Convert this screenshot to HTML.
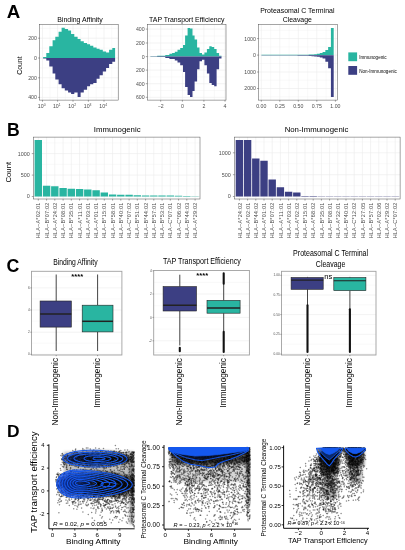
<!DOCTYPE html>
<html lang="en"><head><meta charset="utf-8"><title>Figure</title>
<style>html,body{margin:0;padding:0;background:#fff}svg{display:block}</style></head>
<body>
<svg width="405" height="550" viewBox="0 0 405 550" font-family="'Liberation Sans', sans-serif">
<rect width="405" height="550" fill="#fff"/>
<defs><filter id="bl" x="-20%" y="-20%" width="140%" height="140%"><feGaussianBlur stdDeviation="1.6"/></filter></defs>
<text x="6.8" y="17.6" font-size="18.7" font-weight="bold">A</text>
<text x="7" y="135.8" font-size="17.6" font-weight="bold">B</text>
<text x="6.5" y="271.7" font-size="17.8" font-weight="bold">C</text>
<text x="7" y="437.3" font-size="17.4" font-weight="bold">D</text>
<rect x="39.7" y="24.6" width="78.5" height="75.5" fill="#fff"/>
<path d="M50 24.6V100.1M65.3 24.6V100.1M80.7 24.6V100.1M96.2 24.6V100.1M111.7 24.6V100.1M39.7 48.1H118.2M39.7 67.9H118.2M39.7 87.6H118.2M39.7 28.3H118.2" stroke="#ebebeb" stroke-width=".3" fill="none"/>
<path d="M42.5 24.6V100.1M57.6 24.6V100.1M73 24.6V100.1M88.4 24.6V100.1M104 24.6V100.1M39.7 38.2H118.2M39.7 58H118.2M39.7 77.8H118.2M39.7 97.4H118.2" stroke="#ebebeb" stroke-width=".6" fill="none"/>
<path d="M43.1 58V57.1H46.3V53H49.3V46.2H52.6V40.3H55.3V36.7H58.6V31.8H61.6V27.8H64.8V29.1H68.1V30.5H71.1V34H74.3V36.7H77.6V38.9H80.6V41.3H83.8V43H87.1V44.3H90.1V45.7H93.3V47.6H96.6V48.7H99.6V49.8H102.8V51.4H106.1V52.5H109.1V49.8H112.3V48.1H115.1V58Z" fill="#29b5a1"/>
<path d="M43.1 58V58.5H46.3V60.6H49.3V66.6H52.6V73.4H55.3V79.4H58.6V84.3H61.6V88.3H64.8V90.5H68.1V92.4H71.1V94H74.3V92.4H77.6V97H80.6V92.4H83.8V89.7H87.1V86.2H90.1V84.3H93.3V82.9H96.6V78.8H99.6V75.3H102.8V71.5H106.1V68H109.1V63.9H112.3V61.7H115.1V58Z" fill="#3c3f83"/>
<rect x="39.7" y="24.6" width="78.5" height="75.5" fill="none" stroke="#4d4d4d" stroke-width="0.5"/>
<path d="M42.5 100.1v1.6M57.6 100.1v1.6M73 100.1v1.6M88.4 100.1v1.6M104 100.1v1.6M39.7 38.2h-1.6M39.7 58h-1.6M39.7 77.8h-1.6M39.7 97.4h-1.6" stroke="#4d4d4d" stroke-width=".5" fill="none"/>
<text x="80" y="21.6" font-size="7.4" text-anchor="middle" textLength="45.6" lengthAdjust="spacingAndGlyphs">Binding Affinity</text>
<text x="36.9" y="40.1" font-size="5.2" text-anchor="end" fill="#4d4d4d">200</text>
<text x="36.9" y="59.9" font-size="5.2" text-anchor="end" fill="#4d4d4d">0</text>
<text x="36.9" y="79.7" font-size="5.2" text-anchor="end" fill="#4d4d4d">200</text>
<text x="36.9" y="99.3" font-size="5.2" text-anchor="end" fill="#4d4d4d">400</text>
<text x="41.7" y="108" font-size="5.2" text-anchor="middle" fill="#4d4d4d">10<tspan dy="-2" font-size="3.4">0</tspan></text>
<text x="56.8" y="108" font-size="5.2" text-anchor="middle" fill="#4d4d4d">10<tspan dy="-2" font-size="3.4">1</tspan></text>
<text x="72.2" y="108" font-size="5.2" text-anchor="middle" fill="#4d4d4d">10<tspan dy="-2" font-size="3.4">2</tspan></text>
<text x="87.6" y="108" font-size="5.2" text-anchor="middle" fill="#4d4d4d">10<tspan dy="-2" font-size="3.4">3</tspan></text>
<text x="103.2" y="108" font-size="5.2" text-anchor="middle" fill="#4d4d4d">10<tspan dy="-2" font-size="3.4">4</tspan></text>
<text x="21.6" y="65.6" font-size="6.9" text-anchor="middle" transform="rotate(-90 21.6 65.6)">Count</text>
<rect x="147.4" y="24.6" width="78.6" height="75.5" fill="#fff"/>
<path d="M149.9 24.6V100.1M171.6 24.6V100.1M193.2 24.6V100.1M214.4 24.6V100.1M147.4 36H226M147.4 49.8H226M147.4 63.3H226M147.4 76.9H226M147.4 90.5H226" stroke="#ebebeb" stroke-width=".3" fill="none"/>
<path d="M160.7 24.6V100.1M182.4 24.6V100.1M203.9 24.6V100.1M225 24.6V100.1M147.4 29.1H226M147.4 43H226M147.4 56.6H226M147.4 70.1H226M147.4 83.7H226M147.4 97.3H226" stroke="#ebebeb" stroke-width=".6" fill="none"/>
<path d="M150.4 56.6V56.3H157.2V55.7H165.3V54.9H169.4V53.8H172.1V53H174.8V51.7H177.5V49.8H180.2V48.1H183V44.9H185.1V35.4H187.6V28H190V28.6H192.5V35.4H194.6V39.4H197.1V47.6H199.5V53H202V54.4H204.4V52.5H206.9V48.9H209.3V46.2H211.7V47H214.2V48.9H216.6V53H219.1V55.7H221.5V56.6Z" fill="#29b5a1"/>
<path d="M150.4 56.6V56.8H157.2V57.1H165.3V57.9H169.4V59H172.1V59H174.8V60.6H177.5V62.5H180.2V65.2H183V72H185.1V87H187.6V95.1H190V97H192.5V91H194.6V81.5H197.1V69.3H199.5V61.2H202V59.8H204.4V65.2H206.9V73.4H209.3V82.9H211.7V85.1H214.2V86.2H216.6V69.3H219.1V58.5H221.5V56.6Z" fill="#3c3f83"/>
<rect x="147.4" y="24.6" width="78.6" height="75.5" fill="none" stroke="#4d4d4d" stroke-width="0.5"/>
<path d="M160.7 100.1v1.6M182.4 100.1v1.6M203.9 100.1v1.6M225 100.1v1.6M147.4 29.1h-1.6M147.4 43h-1.6M147.4 56.6h-1.6M147.4 70.1h-1.6M147.4 83.7h-1.6M147.4 97.3h-1.6" stroke="#4d4d4d" stroke-width=".5" fill="none"/>
<text x="186.8" y="21.6" font-size="7.4" text-anchor="middle" textLength="75.5" lengthAdjust="spacingAndGlyphs">TAP Transport Efficiency</text>
<text x="144.6" y="31" font-size="5.2" text-anchor="end" fill="#4d4d4d">400</text>
<text x="144.6" y="44.9" font-size="5.2" text-anchor="end" fill="#4d4d4d">200</text>
<text x="144.6" y="58.5" font-size="5.2" text-anchor="end" fill="#4d4d4d">0</text>
<text x="144.6" y="72" font-size="5.2" text-anchor="end" fill="#4d4d4d">200</text>
<text x="144.6" y="85.6" font-size="5.2" text-anchor="end" fill="#4d4d4d">400</text>
<text x="144.6" y="99.2" font-size="5.2" text-anchor="end" fill="#4d4d4d">600</text>
<text x="160.7" y="107.6" font-size="5.2" text-anchor="middle" fill="#4d4d4d">−2</text>
<text x="182.4" y="107.6" font-size="5.2" text-anchor="middle" fill="#4d4d4d">0</text>
<text x="203.9" y="107.6" font-size="5.2" text-anchor="middle" fill="#4d4d4d">2</text>
<text x="225" y="107.6" font-size="5.2" text-anchor="middle" fill="#4d4d4d">4</text>
<rect x="258.6" y="24.6" width="79" height="75.5" fill="#fff"/>
<path d="M270.6 24.6V100.1M289.1 24.6V100.1M307.6 24.6V100.1M326.1 24.6V100.1M258.6 46.9H337.6M258.6 63.5H337.6M258.6 80.2H337.6M258.6 30.3H337.6M258.6 96.8H337.6" stroke="#ebebeb" stroke-width=".3" fill="none"/>
<path d="M261.3 24.6V100.1M279.8 24.6V100.1M298.3 24.6V100.1M316.8 24.6V100.1M335.4 24.6V100.1M258.6 38.6H337.6M258.6 55.1H337.6M258.6 72H337.6M258.6 88.5H337.6" stroke="#ebebeb" stroke-width=".6" fill="none"/>
<path d="M333.7 55.2V28.00H330.92V47.00H328.14V50.10H325.36V52.10H322.58V52.90H319.80V53.70H317.02V54.20H314.24V54.40H311.46V54.60H308.68V54.70H305.90V54.70H303.12V54.70H300.34V54.70H297.56V54.85H294.78V54.85H292.00V54.85H289.22V54.85H286.44V54.85H283.66V54.85H280.88V54.85H278.10V54.85H275.32V54.85H272.54V54.85H269.76V54.85H266.98V54.85H264.20V54.85H261.42V55.2Z" fill="#29b5a1"/>
<path d="M333.7 55.2V97.00H330.92V68.20H328.14V61.70H325.36V58.60H322.58V57.60H319.80V56.80H317.02V56.40H314.24V56.20H311.46V56.00H308.68V55.80H305.90V55.80H303.12V55.80H300.34V55.80H297.56V55.60H294.78V55.60H292.00V55.60H289.22V55.60H286.44V55.60H283.66V55.60H280.88V55.60H278.10V55.60H275.32V55.60H272.54V55.60H269.76V55.60H266.98V55.60H264.20V55.60H261.42V55.2Z" fill="#3c3f83"/>
<rect x="258.6" y="24.6" width="79" height="75.5" fill="none" stroke="#4d4d4d" stroke-width="0.5"/>
<path d="M261.3 100.1v1.6M279.8 100.1v1.6M298.3 100.1v1.6M316.8 100.1v1.6M335.4 100.1v1.6M258.6 38.6h-1.6M258.6 55.1h-1.6M258.6 72h-1.6M258.6 88.5h-1.6" stroke="#4d4d4d" stroke-width=".5" fill="none"/>
<text x="297.3" y="13.4" font-size="7.4" text-anchor="middle" textLength="74.3" lengthAdjust="spacingAndGlyphs">Proteasomal C Terminal</text>
<text x="297.3" y="21.7" font-size="7.4" text-anchor="middle" textLength="29.3" lengthAdjust="spacingAndGlyphs">Cleavage</text>
<text x="255.8" y="40.5" font-size="5.2" text-anchor="end" fill="#4d4d4d">1000</text>
<text x="255.8" y="57" font-size="5.2" text-anchor="end" fill="#4d4d4d">0</text>
<text x="255.8" y="73.9" font-size="5.2" text-anchor="end" fill="#4d4d4d">1000</text>
<text x="255.8" y="90.4" font-size="5.2" text-anchor="end" fill="#4d4d4d">2000</text>
<text x="261.3" y="107.6" font-size="5.2" text-anchor="middle" fill="#4d4d4d">0.00</text>
<text x="279.8" y="107.6" font-size="5.2" text-anchor="middle" fill="#4d4d4d">0.25</text>
<text x="298.3" y="107.6" font-size="5.2" text-anchor="middle" fill="#4d4d4d">0.50</text>
<text x="316.8" y="107.6" font-size="5.2" text-anchor="middle" fill="#4d4d4d">0.75</text>
<text x="335.4" y="107.6" font-size="5.2" text-anchor="middle" fill="#4d4d4d">1.00</text>
<rect x="348.3" y="52.4" width="8.8" height="8.8" fill="#29b5a1"/>
<rect x="348.3" y="66" width="8.8" height="8.8" fill="#3c3f83"/>
<text x="359.2" y="59.1" font-size="4.6" textLength="27.3" lengthAdjust="spacing">Immunogenic</text>
<text x="359.2" y="72.8" font-size="4.6" textLength="37.7" lengthAdjust="spacing">Non-Immunogenic</text>
<rect x="33.4" y="137.1" width="166.6" height="61.9" fill="#fff"/>
<path d="M33.4 185.8H200M33.4 164.3H200M33.4 142.9H200" stroke="#ebebeb" stroke-width=".3" fill="none"/>
<path d="M38.3 137.1V199M46.6 137.1V199M54.8 137.1V199M63.1 137.1V199M71.3 137.1V199M79.6 137.1V199M87.8 137.1V199M96.1 137.1V199M104.3 137.1V199M112.6 137.1V199M120.8 137.1V199M129.1 137.1V199M137.3 137.1V199M145.6 137.1V199M153.8 137.1V199M162.1 137.1V199M170.3 137.1V199M178.6 137.1V199M186.8 137.1V199M195.1 137.1V199M33.4 196.5H200M33.4 175.1H200M33.4 153.6H200" stroke="#ebebeb" stroke-width=".6" fill="none"/>
<path d="M34.6 196.5v-56.5h7.4V196.5ZM42.9 196.5v-10.7h7.4V196.5ZM51.1 196.5v-10.3h7.4V196.5ZM59.4 196.5v-8.4h7.4V196.5ZM67.6 196.5v-7.7h7.4V196.5ZM75.9 196.5v-7.5h7.4V196.5ZM84.1 196.5v-7.1h7.4V196.5ZM92.4 196.5v-6.2h7.4V196.5ZM100.6 196.5v-3.9h7.4V196.5ZM108.9 196.5v-1.9h7.4V196.5ZM117.1 196.5v-1.8h7.4V196.5ZM125.4 196.5v-1.7h7.4V196.5ZM133.6 196.5v-1.3h7.4V196.5ZM141.9 196.5v-1.1h7.4V196.5ZM150.1 196.5v-1.1h7.4V196.5ZM158.3 196.5v-1.1h7.4V196.5ZM166.6 196.5v-1.1h7.4V196.5ZM174.8 196.5v-0.64h7.4V196.5ZM183.1 196.5v-0.51h7.4V196.5ZM191.3 196.5v-0.35h7.4V196.5Z" fill="#29b5a1"/>
<rect x="33.4" y="137.1" width="166.6" height="61.9" fill="none" stroke="#4d4d4d" stroke-width="0.5"/>
<path d="M38.3 199v1.6M46.6 199v1.6M54.8 199v1.6M63.1 199v1.6M71.3 199v1.6M79.6 199v1.6M87.8 199v1.6M96.1 199v1.6M104.3 199v1.6M112.6 199v1.6M120.8 199v1.6M129.1 199v1.6M137.3 199v1.6M145.6 199v1.6M153.8 199v1.6M162.1 199v1.6M170.3 199v1.6M178.6 199v1.6M186.8 199v1.6M195.1 199v1.6M33.4 196.5h-1.6M33.4 175.1h-1.6M33.4 153.6h-1.6" stroke="#4d4d4d" stroke-width=".5" fill="none"/>
<text x="117.2" y="131.6" font-size="7.8" text-anchor="middle">Immunogenic</text>
<text x="29.7" y="198.4" font-size="5.4" text-anchor="end" fill="#4d4d4d">0</text>
<text x="29.7" y="177" font-size="5.4" text-anchor="end" fill="#4d4d4d">500</text>
<text x="29.7" y="155.5" font-size="5.4" text-anchor="end" fill="#4d4d4d">1000</text>
<text x="40.5" y="202.7" font-size="5.4" text-anchor="end" fill="#4d4d4d" transform="rotate(-90 40.5 202.7)" textLength="35.6" lengthAdjust="spacing">HLA−A*02:01</text>
<text x="48.8" y="202.7" font-size="5.4" text-anchor="end" fill="#4d4d4d" transform="rotate(-90 48.8 202.7)" textLength="35.6" lengthAdjust="spacing">HLA−B*07:02</text>
<text x="57" y="202.7" font-size="5.4" text-anchor="end" fill="#4d4d4d" transform="rotate(-90 57 202.7)" textLength="35.6" lengthAdjust="spacing">HLA−A*24:02</text>
<text x="65.3" y="202.7" font-size="5.4" text-anchor="end" fill="#4d4d4d" transform="rotate(-90 65.3 202.7)" textLength="35.6" lengthAdjust="spacing">HLA−B*08:01</text>
<text x="73.5" y="202.7" font-size="5.4" text-anchor="end" fill="#4d4d4d" transform="rotate(-90 73.5 202.7)" textLength="35.6" lengthAdjust="spacing">HLA−B*35:01</text>
<text x="81.8" y="202.7" font-size="5.4" text-anchor="end" fill="#4d4d4d" transform="rotate(-90 81.8 202.7)" textLength="35.6" lengthAdjust="spacing">HLA−A*11:01</text>
<text x="90" y="202.7" font-size="5.4" text-anchor="end" fill="#4d4d4d" transform="rotate(-90 90 202.7)" textLength="35.6" lengthAdjust="spacing">HLA−A*03:01</text>
<text x="98.3" y="202.7" font-size="5.4" text-anchor="end" fill="#4d4d4d" transform="rotate(-90 98.3 202.7)" textLength="35.6" lengthAdjust="spacing">HLA−A*01:01</text>
<text x="106.5" y="202.7" font-size="5.4" text-anchor="end" fill="#4d4d4d" transform="rotate(-90 106.5 202.7)" textLength="35.6" lengthAdjust="spacing">HLA−B*15:01</text>
<text x="114.8" y="202.7" font-size="5.4" text-anchor="end" fill="#4d4d4d" transform="rotate(-90 114.8 202.7)" textLength="35.6" lengthAdjust="spacing">HLA−B*58:01</text>
<text x="123" y="202.7" font-size="5.4" text-anchor="end" fill="#4d4d4d" transform="rotate(-90 123 202.7)" textLength="35.6" lengthAdjust="spacing">HLA−B*40:01</text>
<text x="131.3" y="202.7" font-size="5.4" text-anchor="end" fill="#4d4d4d" transform="rotate(-90 131.3 202.7)" textLength="35.6" lengthAdjust="spacing">HLA−C*07:02</text>
<text x="139.5" y="202.7" font-size="5.4" text-anchor="end" fill="#4d4d4d" transform="rotate(-90 139.5 202.7)" textLength="35.6" lengthAdjust="spacing">HLA−B*51:01</text>
<text x="147.8" y="202.7" font-size="5.4" text-anchor="end" fill="#4d4d4d" transform="rotate(-90 147.8 202.7)" textLength="35.6" lengthAdjust="spacing">HLA−B*44:02</text>
<text x="156" y="202.7" font-size="5.4" text-anchor="end" fill="#4d4d4d" transform="rotate(-90 156 202.7)" textLength="35.6" lengthAdjust="spacing">HLA−B*57:01</text>
<text x="164.3" y="202.7" font-size="5.4" text-anchor="end" fill="#4d4d4d" transform="rotate(-90 164.3 202.7)" textLength="35.6" lengthAdjust="spacing">HLA−B*53:01</text>
<text x="172.5" y="202.7" font-size="5.4" text-anchor="end" fill="#4d4d4d" transform="rotate(-90 172.5 202.7)" textLength="35.6" lengthAdjust="spacing">HLA−C*07:01</text>
<text x="180.8" y="202.7" font-size="5.4" text-anchor="end" fill="#4d4d4d" transform="rotate(-90 180.8 202.7)" textLength="35.6" lengthAdjust="spacing">HLA−C*06:02</text>
<text x="189" y="202.7" font-size="5.4" text-anchor="end" fill="#4d4d4d" transform="rotate(-90 189 202.7)" textLength="35.6" lengthAdjust="spacing">HLA−B*44:03</text>
<text x="197.3" y="202.7" font-size="5.4" text-anchor="end" fill="#4d4d4d" transform="rotate(-90 197.3 202.7)" textLength="35.6" lengthAdjust="spacing">HLA−A*29:02</text>
<rect x="234.5" y="137.1" width="165.6" height="61.9" fill="#fff"/>
<path d="M234.5 185.6H400.1M234.5 163.7H400.1M234.5 141.9H400.1" stroke="#ebebeb" stroke-width=".3" fill="none"/>
<path d="M239.4 137.1V199M247.6 137.1V199M255.8 137.1V199M264 137.1V199M272.2 137.1V199M280.4 137.1V199M288.6 137.1V199M296.8 137.1V199M305 137.1V199M313.2 137.1V199M321.4 137.1V199M329.6 137.1V199M337.8 137.1V199M346 137.1V199M354.2 137.1V199M362.4 137.1V199M370.6 137.1V199M378.8 137.1V199M387 137.1V199M395.2 137.1V199M234.5 196.5H400.1M234.5 174.7H400.1M234.5 152.8H400.1" stroke="#ebebeb" stroke-width=".6" fill="none"/>
<path d="M235.7 196.5v-56.4h7.4V196.5ZM243.9 196.5v-56.4h7.4V196.5ZM252.1 196.5v-38h7.4V196.5ZM260.3 196.5v-35.8h7.4V196.5ZM268.5 196.5v-17h7.4V196.5ZM276.7 196.5v-9.2h7.4V196.5ZM284.9 196.5v-4.8h7.4V196.5ZM293.1 196.5v-3.9h7.4V196.5ZM301.3 196.5v-0.52h7.4V196.5ZM309.5 196.5v-0.44h7.4V196.5ZM317.7 196.5v-0.35h7.4V196.5ZM325.9 196.5v-0.35h7.4V196.5ZM334.1 196.5v-0.35h7.4V196.5ZM342.3 196.5v-0.35h7.4V196.5ZM350.5 196.5v-0.35h7.4V196.5ZM358.7 196.5v-0.35h7.4V196.5ZM366.9 196.5v-0.35h7.4V196.5ZM375.1 196.5v-0.35h7.4V196.5ZM383.3 196.5v-0.35h7.4V196.5ZM391.5 196.5v-0.35h7.4V196.5Z" fill="#3c3f83"/>
<rect x="234.5" y="137.1" width="165.6" height="61.9" fill="none" stroke="#4d4d4d" stroke-width="0.5"/>
<path d="M239.4 199v1.6M247.6 199v1.6M255.8 199v1.6M264 199v1.6M272.2 199v1.6M280.4 199v1.6M288.6 199v1.6M296.8 199v1.6M305 199v1.6M313.2 199v1.6M321.4 199v1.6M329.6 199v1.6M337.8 199v1.6M346 199v1.6M354.2 199v1.6M362.4 199v1.6M370.6 199v1.6M378.8 199v1.6M387 199v1.6M395.2 199v1.6M234.5 196.5h-1.6M234.5 174.7h-1.6M234.5 152.8h-1.6" stroke="#4d4d4d" stroke-width=".5" fill="none"/>
<text x="316.5" y="131.6" font-size="7.8" text-anchor="middle">Non-Immunogenic</text>
<text x="230.8" y="198.4" font-size="5.4" text-anchor="end" fill="#4d4d4d">0</text>
<text x="230.8" y="176.6" font-size="5.4" text-anchor="end" fill="#4d4d4d">500</text>
<text x="230.8" y="154.7" font-size="5.4" text-anchor="end" fill="#4d4d4d">1000</text>
<text x="241.6" y="202.7" font-size="5.4" text-anchor="end" fill="#4d4d4d" transform="rotate(-90 241.6 202.7)" textLength="35.6" lengthAdjust="spacing">HLA−A*24:02</text>
<text x="249.8" y="202.7" font-size="5.4" text-anchor="end" fill="#4d4d4d" transform="rotate(-90 249.8 202.7)" textLength="35.6" lengthAdjust="spacing">HLA−A*02:01</text>
<text x="258" y="202.7" font-size="5.4" text-anchor="end" fill="#4d4d4d" transform="rotate(-90 258 202.7)" textLength="35.6" lengthAdjust="spacing">HLA−B*44:02</text>
<text x="266.2" y="202.7" font-size="5.4" text-anchor="end" fill="#4d4d4d" transform="rotate(-90 266.2 202.7)" textLength="35.6" lengthAdjust="spacing">HLA−A*01:01</text>
<text x="274.4" y="202.7" font-size="5.4" text-anchor="end" fill="#4d4d4d" transform="rotate(-90 274.4 202.7)" textLength="35.6" lengthAdjust="spacing">HLA−B*07:02</text>
<text x="282.6" y="202.7" font-size="5.4" text-anchor="end" fill="#4d4d4d" transform="rotate(-90 282.6 202.7)" textLength="35.6" lengthAdjust="spacing">HLA−A*11:01</text>
<text x="290.8" y="202.7" font-size="5.4" text-anchor="end" fill="#4d4d4d" transform="rotate(-90 290.8 202.7)" textLength="35.6" lengthAdjust="spacing">HLA−A*03:01</text>
<text x="299" y="202.7" font-size="5.4" text-anchor="end" fill="#4d4d4d" transform="rotate(-90 299 202.7)" textLength="35.6" lengthAdjust="spacing">HLA−A*02:02</text>
<text x="307.2" y="202.7" font-size="5.4" text-anchor="end" fill="#4d4d4d" transform="rotate(-90 307.2 202.7)" textLength="35.6" lengthAdjust="spacing">HLA−B*15:01</text>
<text x="315.4" y="202.7" font-size="5.4" text-anchor="end" fill="#4d4d4d" transform="rotate(-90 315.4 202.7)" textLength="35.6" lengthAdjust="spacing">HLA−A*68:02</text>
<text x="323.6" y="202.7" font-size="5.4" text-anchor="end" fill="#4d4d4d" transform="rotate(-90 323.6 202.7)" textLength="35.6" lengthAdjust="spacing">HLA−B*35:01</text>
<text x="331.8" y="202.7" font-size="5.4" text-anchor="end" fill="#4d4d4d" transform="rotate(-90 331.8 202.7)" textLength="35.6" lengthAdjust="spacing">HLA−B*08:01</text>
<text x="340" y="202.7" font-size="5.4" text-anchor="end" fill="#4d4d4d" transform="rotate(-90 340 202.7)" textLength="35.6" lengthAdjust="spacing">HLA−A*32:01</text>
<text x="348.2" y="202.7" font-size="5.4" text-anchor="end" fill="#4d4d4d" transform="rotate(-90 348.2 202.7)" textLength="35.6" lengthAdjust="spacing">HLA−B*40:01</text>
<text x="356.4" y="202.7" font-size="5.4" text-anchor="end" fill="#4d4d4d" transform="rotate(-90 356.4 202.7)" textLength="35.6" lengthAdjust="spacing">HLA−C*12:02</text>
<text x="364.6" y="202.7" font-size="5.4" text-anchor="end" fill="#4d4d4d" transform="rotate(-90 364.6 202.7)" textLength="35.6" lengthAdjust="spacing">HLA−B*27:05</text>
<text x="372.8" y="202.7" font-size="5.4" text-anchor="end" fill="#4d4d4d" transform="rotate(-90 372.8 202.7)" textLength="35.6" lengthAdjust="spacing">HLA−B*57:01</text>
<text x="381" y="202.7" font-size="5.4" text-anchor="end" fill="#4d4d4d" transform="rotate(-90 381 202.7)" textLength="35.6" lengthAdjust="spacing">HLA−A*02:06</text>
<text x="389.2" y="202.7" font-size="5.4" text-anchor="end" fill="#4d4d4d" transform="rotate(-90 389.2 202.7)" textLength="35.6" lengthAdjust="spacing">HLA−A*29:02</text>
<text x="397.4" y="202.7" font-size="5.4" text-anchor="end" fill="#4d4d4d" transform="rotate(-90 397.4 202.7)" textLength="35.6" lengthAdjust="spacing">HLA−C*07:02</text>
<text x="11.1" y="172.2" font-size="7.8" text-anchor="middle" transform="rotate(-90 11.1 172.2)">Count</text>
<rect x="31.5" y="271.3" width="90.4" height="83.7" fill="#fff"/>
<path d="M31.5 298.9H121.9M31.5 321.1H121.9M31.5 343.2H121.9M31.5 276.8H121.9" stroke="#ebebeb" stroke-width=".3" fill="none"/>
<path d="M31.5 287.9H121.9M31.5 310H121.9M31.5 332.2H121.9M31.5 354.3H121.9" stroke="#ebebeb" stroke-width=".6" fill="none"/>
<path d="M56.2 274.5V301M56.2 327.1V351" stroke="#3a3a3a" stroke-width=".95" fill="none"/>
<rect x="40.1" y="301" width="31.2" height="26.1" fill="#3c3f83" stroke="#222" stroke-width=".6"/>
<path d="M40.1 314H71.3" stroke="#222" stroke-width="1.5"/>
<path d="M97.6 274.5V305.2M97.6 331.9V351" stroke="#3a3a3a" stroke-width=".95" fill="none"/>
<rect x="82.2" y="305.2" width="30.8" height="26.7" fill="#29b5a1" stroke="#222" stroke-width=".6"/>
<path d="M82.2 321.3H113" stroke="#222" stroke-width="1.5"/>
<rect x="31.5" y="271.3" width="90.4" height="83.7" fill="none" stroke="#a0a0a0" stroke-width="0.9"/>
<path d="M56.2 355v1.2M97.6 355v1.2M31.5 287.9h-1.2M31.5 310h-1.2M31.5 332.2h-1.2M31.5 354.3h-1.2" stroke="#4d4d4d" stroke-width=".5" fill="none"/>
<text x="75.4" y="265" font-size="8.2" text-anchor="middle" textLength="44.3" lengthAdjust="spacingAndGlyphs">Binding Affinity</text>
<text x="77.2" y="278.6" font-size="7.6" text-anchor="middle" font-weight="bold">****</text>
<text x="29.7" y="289" font-size="3.2" text-anchor="end" fill="#4d4d4d">6</text>
<text x="29.7" y="311.1" font-size="3.2" text-anchor="end" fill="#4d4d4d">4</text>
<text x="29.7" y="333.3" font-size="3.2" text-anchor="end" fill="#4d4d4d">2</text>
<text x="29.7" y="355.4" font-size="3.2" text-anchor="end" fill="#4d4d4d">0</text>
<text x="58.3" y="358" font-size="8.25" text-anchor="end" transform="rotate(-90 58.3 358)">Non-Immunogenic</text>
<text x="99.7" y="358" font-size="8.25" text-anchor="end" transform="rotate(-90 99.7 358)">Immunogenic</text>
<rect x="153.7" y="270.5" width="95.7" height="84.5" fill="#fff"/>
<path d="M153.7 282.4H249.4M153.7 305.7H249.4M153.7 329.1H249.4M153.7 352.5H249.4" stroke="#ebebeb" stroke-width=".3" fill="none"/>
<path d="M153.7 294H249.4M153.7 317.4H249.4M153.7 340.8H249.4" stroke="#ebebeb" stroke-width=".6" fill="none"/>
<path d="M179.8 274.7V286.6M179.8 311V345.5" stroke="#3a3a3a" stroke-width=".95" fill="none"/>
<path d="M179.8 347.8V351.2" stroke="#111" stroke-width="2.1" stroke-linecap="round" fill="none"/>
<rect x="163.1" y="286.6" width="33.4" height="24.4" fill="#3c3f83" stroke="#222" stroke-width=".6"/>
<path d="M163.1 305.2H196.5" stroke="#222" stroke-width="1.5"/>
<path d="M223.7 283.7V300.4M223.7 313.2V331.9" stroke="#3a3a3a" stroke-width=".95" fill="none"/>
<path d="M223.7 273.3V283.7M223.7 331.9V352" stroke="#111" stroke-width="2.1" stroke-linecap="round" fill="none"/>
<rect x="207" y="300.4" width="33.1" height="12.8" fill="#29b5a1" stroke="#222" stroke-width=".6"/>
<path d="M207 308.1H240.1" stroke="#222" stroke-width="1.5"/>
<rect x="153.7" y="270.5" width="95.7" height="84.5" fill="none" stroke="#a0a0a0" stroke-width="0.9"/>
<path d="M179.8 355v1.2M223.7 355v1.2M153.7 270.9h-1.2M153.7 294h-1.2M153.7 317.4h-1.2M153.7 340.8h-1.2" stroke="#4d4d4d" stroke-width=".5" fill="none"/>
<text x="201.9" y="264.4" font-size="8.2" text-anchor="middle" textLength="77.8" lengthAdjust="spacingAndGlyphs">TAP Transport Efficiency</text>
<text x="202.2" y="278.3" font-size="7.6" text-anchor="middle" font-weight="bold">****</text>
<text x="151.9" y="272" font-size="3.2" text-anchor="end" fill="#4d4d4d">4</text>
<text x="151.9" y="295.1" font-size="3.2" text-anchor="end" fill="#4d4d4d">2</text>
<text x="151.9" y="318.5" font-size="3.2" text-anchor="end" fill="#4d4d4d">0</text>
<text x="151.9" y="341.9" font-size="3.2" text-anchor="end" fill="#4d4d4d">-2</text>
<text x="181.9" y="358" font-size="8.25" text-anchor="end" transform="rotate(-90 181.9 358)">Non-Immunogenic</text>
<text x="225.8" y="358" font-size="8.25" text-anchor="end" transform="rotate(-90 225.8 358)">Immunogenic</text>
<rect x="281.5" y="271.3" width="94.5" height="83.7" fill="#fff"/>
<path d="M281.5 285.1H376M281.5 304.8H376M281.5 324.5H376M281.5 344.2H376" stroke="#ebebeb" stroke-width=".3" fill="none"/>
<path d="M281.5 275.3H376M281.5 295H376M281.5 314.6H376M281.5 334.3H376M281.5 354.1H376" stroke="#ebebeb" stroke-width=".6" fill="none"/>
<path d="M307.5 276.9V277.5M307.5 289.3V305.4" stroke="#3a3a3a" stroke-width=".95" fill="none"/>
<path d="M307.5 305.4V351.9" stroke="#111" stroke-width="2.1" stroke-linecap="round" fill="none"/>
<rect x="291.1" y="277.5" width="32.1" height="11.8" fill="#3c3f83" stroke="#222" stroke-width=".6"/>
<path d="M291.1 280.1H323.2" stroke="#222" stroke-width="1.1"/>
<path d="M349.9 276.9V277.5M349.9 290.6V309.2" stroke="#3a3a3a" stroke-width=".95" fill="none"/>
<path d="M349.9 309.2V351.9" stroke="#111" stroke-width="2.1" stroke-linecap="round" fill="none"/>
<rect x="333.8" y="277.5" width="32.1" height="13.1" fill="#29b5a1" stroke="#222" stroke-width=".6"/>
<path d="M333.8 280.7H365.9" stroke="#222" stroke-width="1.1"/>
<rect x="281.5" y="271.3" width="94.5" height="83.7" fill="none" stroke="#a0a0a0" stroke-width="0.9"/>
<path d="M307.5 355v1.2M349.9 355v1.2M281.5 275.3h-1.2M281.5 295h-1.2M281.5 314.6h-1.2M281.5 334.3h-1.2M281.5 354.1h-1.2" stroke="#4d4d4d" stroke-width=".5" fill="none"/>
<text x="330.6" y="256.2" font-size="8.2" text-anchor="middle" textLength="75" lengthAdjust="spacingAndGlyphs">Proteasomal C Terminal</text>
<text x="330.6" y="267" font-size="8.2" text-anchor="middle" textLength="29.5" lengthAdjust="spacingAndGlyphs">Cleavage</text>
<text x="328.2" y="278.6" font-size="7.6" text-anchor="middle">ns</text>
<text x="279.7" y="276.4" font-size="3.2" text-anchor="end" fill="#4d4d4d">1.00</text>
<text x="279.7" y="296.1" font-size="3.2" text-anchor="end" fill="#4d4d4d">0.75</text>
<text x="279.7" y="315.8" font-size="3.2" text-anchor="end" fill="#4d4d4d">0.50</text>
<text x="279.7" y="335.4" font-size="3.2" text-anchor="end" fill="#4d4d4d">0.25</text>
<text x="279.7" y="355.2" font-size="3.2" text-anchor="end" fill="#4d4d4d">0.00</text>
<text x="309.6" y="358" font-size="8.25" text-anchor="end" transform="rotate(-90 309.6 358)">Non-Immunogenic</text>
<text x="352" y="358" font-size="8.25" text-anchor="end" transform="rotate(-90 352 358)">Immunogenic</text>
<clipPath id="c1"><rect x="50" y="443.5" width="84.6" height="85.5"/></clipPath>
<g clip-path="url(#c1)"><g filter="url(#bl)" fill="#000"><ellipse cx="97" cy="458.5" rx="32" ry="7.5" fill-opacity=".72"/><ellipse cx="97" cy="484" rx="37" ry="12.5" fill-opacity=".75"/><rect x="64" y="452" width="68" height="44" fill-opacity=".25"/><rect x="129.5" y="452" width="4.5" height="72" fill-opacity=".4"/></g></g>
<g clip-path="url(#c1)" fill="none" stroke="#000" stroke-width="1.55" stroke-linecap="round" stroke-opacity="0.46">
<path d="M99.3 480.2h0M102.3 478.3h0M134.1 492h0M99.8 484.2h0M84.6 458.5h0M133.6 455.5h0M81.9 477.2h0M125.9 492.9h0M82.8 473.2h0M63.8 474.7h0M77 479.7h0M98.6 454h0M112.6 490.6h0M107.6 489.9h0M81.6 489.8h0M104 485.8h0M126.4 452.7h0M125.7 456.9h0M111.7 497.5h0M71.9 461.5h0M88.4 504.2h0M66.7 481.9h0M75.6 483.6h0M63.3 495.8h0M111.5 475.9h0M97.7 483.2h0M90.3 500.1h0M91.9 488.2h0M89.1 458.2h0M134.8 485.2h0M82.6 488.2h0M125 456.7h0M131.5 483.6h0M132.1 462.6h0M88.6 485.6h0M78.3 461.2h0M87.3 461.2h0M89.5 461.1h0M112.5 460.9h0M78.6 499.7h0M94.5 487.3h0M67.1 453.7h0M80.8 478.7h0M105.9 493.4h0M88.3 514.5h0M100.8 456.2h0M92.2 491h0M68.7 476.4h0M100.6 506.5h0M104.6 454.3h0M91.8 464.6h0M114.1 461.2h0M118.8 492.2h0M79.7 478h0M73.3 480.8h0M122.8 502.8h0M99.3 484.2h0M70.3 480.4h0M80.1 498.3h0M83.8 483.2h0M93.6 481.2h0M130.4 502h0M96.2 477.3h0M113.4 486.4h0M116.2 487.4h0M65.6 483.2h0M67 483.6h0M73.5 492.3h0M132 479.1h0M100.6 459.8h0M119.2 475.7h0M108.9 475.5h0M70.4 462.2h0M113.8 478h0M86.1 487.2h0M85.1 480.9h0M89.6 478.3h0M113 496.7h0M107.3 459.3h0M125.7 486.2h0M95 480.2h0M120.4 505.5h0M86.9 492.8h0M71.9 491.9h0M119.8 483.4h0M108.6 499.6h0M90.4 460.8h0M110.1 456.6h0M134.3 499.8h0M86.2 492.3h0M129.6 516.2h0M86.2 481.6h0M103.3 489.1h0M119.4 457.9h0M81.6 482.5h0M87.3 456h0M125.3 486.8h0M85.6 494.7h0M107.4 480.8h0M117.4 456.6h0M63.3 458.1h0M85.2 481.1h0M98.5 486.2h0M134 508h0M83.8 495.3h0M112.8 479.7h0M64.5 464h0M64.9 477.3h0M100.2 492.9h0M106.1 481.3h0M94.3 473.2h0M68.6 462.2h0M105.6 470.7h0M109.5 461h0M108.8 489.9h0M71.1 457h0M74.8 486.9h0M89.5 462.8h0M97.2 474.1h0M59.5 502h0M106.4 457.9h0M59.3 494.5h0M60.9 501.5h0M134.1 482.2h0M63.4 463.2h0M88.3 485h0M80.9 484.6h0M121.6 463.1h0M99.4 502.9h0M89.5 488.1h0M83.8 494.7h0M70.5 485.9h0M105.1 464.3h0M109.4 484.6h0M99.7 470.8h0M105.9 461.2h0M76.4 458.5h0M72.1 481.8h0M66.8 488h0M80.1 461.8h0M95.5 493.2h0M80.2 487.6h0M86.6 453.6h0M109.9 460.3h0M105.7 451.7h0M68.9 485h0M125.6 511.4h0M132.7 505.3h0M93.3 465.5h0M129.3 459.8h0M71.4 487.3h0M106.8 486.4h0M94.1 491.4h0M66.9 493.3h0M124.7 496.5h0M96.4 485.6h0M87 490.7h0M76.1 460.5h0M87.2 486.3h0M72.6 502.9h0M107.6 454.4h0M113.3 459.4h0M86.7 460.2h0M74.4 484h0M72.2 459.7h0M124.9 456.7h0M115.9 498.5h0M115.5 473.8h0M71 488h0M110 491.5h0M78.3 465.1h0M104.7 455.4h0M120.1 485.1h0M80.7 475.2h0M65.8 459.1h0M114.2 475.9h0M107 484.6h0M87.1 466.3h0M84.9 476h0M91.2 492.8h0M133.2 459.2h0M82.9 479.1h0M102.2 485.3h0M132.4 476.9h0M133.7 452.6h0M79.4 457.5h0M99.7 498.8h0M109.2 476.7h0M133.4 505.3h0M67.7 488h0M72.8 495.7h0M119.3 497h0M89.6 480.8h0M105.7 461.4h0M88.1 453.7h0M86.6 491.8h0M96.6 493.9h0M63.5 462.3h0M125.9 499.2h0M113.7 481.7h0M127 490.1h0M114.5 477.3h0M121.3 490h0M122.6 482.8h0M59.7 485.9h0M115.2 500.8h0M94.2 492.9h0M115.1 484.7h0M100.7 481.9h0M112.5 491.1h0M102 495.8h0M129.3 469.7h0M125.3 489.5h0M130 459.4h0M105.7 457.7h0M99 478.3h0M123.8 478.1h0M98.6 461.3h0M68.9 496.5h0M123.8 487.1h0M80.5 459.5h0M103.4 490.8h0M84.3 478.9h0M133.4 488h0M127.3 458.2h0M93.7 493.7h0M79.7 481.6h0M112 496.1h0M117.1 481.2h0M133.7 479.8h0M70.6 468h0M117.5 477.5h0M125.2 486.3h0M134 455.6h0M78.5 488h0M77.9 483.4h0M76.1 483.8h0M134.4 476.8h0M91.3 503.7h0M132.8 485.2h0M72.7 482.2h0M101 464h0M89 457.3h0M125.3 456.1h0M102.4 456h0M119.4 451.3h0M87.8 477.9h0M64.8 458.6h0M103.9 461.3h0M78.5 479.9h0M68.9 492.9h0M116.7 508.2h0M131.8 488.3h0M67 486.8h0M76.1 496.3h0M127 475.3h0M116 477.9h0M129.2 486.3h0M102 488.8h0M76.2 474.4h0M120.4 486.9h0M132.6 491.8h0M62.3 484.7h0M104.3 467.3h0M98.5 500.1h0M110.9 459.8h0M126.8 480.7h0M98.3 479h0M63.5 492.3h0M131.4 512.8h0M103.2 482.3h0M103.3 467.7h0M81.5 479.4h0M125.4 462h0M135 497.9h0M68.8 480h0M94.9 499.9h0M117.5 462.6h0M124.4 511.2h0M128.3 501.6h0M83.5 452.8h0M123.4 455.9h0M92.7 491.3h0M69.4 482.7h0M59 485.4h0M107.8 455.2h0M73.5 479.3h0M114.1 487.4h0M91.9 463.1h0M92.5 461.4h0M90.2 464.5h0M100.8 459.9h0M103.1 455.6h0M62.8 455.3h0M127.6 480.9h0M109 477.7h0M107.5 481.8h0M78.8 474.5h0M106.3 481.9h0M111.3 484h0M101.2 504.8h0M119.1 512.2h0M121 480.5h0M132.1 494.8h0M114.2 496.3h0M110.2 493.1h0M105.6 491.7h0M126.8 481.2h0M119 489.9h0M131.7 477.7h0M88.6 498.6h0M98.4 456.6h0M118.8 485.4h0M125 464.4h0M112.2 488.7h0M119.5 496.3h0M68.6 486.3h0M121 471.6h0M134 461.5h0M134.3 475.4h0M127.6 503.1h0M122.7 477.6h0M67.2 496.4h0M134.1 507.8h0M103.5 488.3h0M110.1 464.5h0M88.5 455.4h0M124.2 481.1h0M101.7 490.3h0M116.8 463.8h0M104.9 488.4h0M95.3 479.8h0M82.8 482.4h0M103.8 460.6h0M93.1 485.5h0M61.8 490.7h0M100.4 496.1h0M72.5 493.8h0M63.3 483.8h0M102.9 490.1h0M124.6 461.9h0M62.3 484.7h0M96.4 501.8h0M83.2 496.2h0M118.8 478.8h0M73.2 483.3h0M93.1 486.9h0M74.4 463.3h0M105.1 456h0M78.1 492.6h0M119.7 453.7h0M114.1 484.3h0M100.1 489h0M72.6 462.5h0M96.5 494.5h0M71.5 465.3h0M67.8 493.7h0M131.8 466.2h0M62.1 486.9h0M88 483.6h0M126.5 454.8h0M104 459.2h0M117.9 500.1h0M72.9 477.2h0M92.9 488.1h0M115.8 494.3h0M87.4 481.4h0M117.6 457.6h0M69.9 492.7h0M61.1 479.1h0M118.9 477.4h0M102.3 510.1h0M102.9 485.3h0M130.1 466.8h0M91.9 486.3h0M98.1 485h0M87.7 483.1h0M100.8 456.7h0M115.1 491.3h0M96.9 460.7h0M79.8 460.2h0M123.6 472.7h0M105.3 478.7h0M105.3 462.8h0M69.4 475.8h0M95.8 458.9h0M116.8 460.4h0M101.6 493.4h0M96.5 500.3h0M110.8 488.7h0M94.3 487.8h0M94.1 481h0M65.5 490.1h0M123.7 498.3h0M69.4 459.8h0M91.5 474h0M113.6 484.2h0M88.6 458.7h0M100.2 497.5h0M88.6 486.2h0M67.3 487.8h0M123.6 473.1h0M130.2 497.6h0M87.8 492.5h0M65.9 479.6h0M67.8 501.1h0M100 465.4h0M133.5 508.7h0M130.5 458.7h0M121.4 494.2h0M74.4 494.6h0M110.4 461h0M107.5 491.8h0M102.3 465.2h0M123.7 494.9h0M122.4 501.9h0M64.5 464.7h0M110.9 465.2h0M112.6 460.1h0M77 471.3h0M69.4 458.1h0M71.7 471.7h0M125.7 495.2h0M118 461.6h0M107.2 502.1h0M112.6 475.6h0M131.1 500.9h0M62.4 486.8h0M117.9 493.7h0M117 468.3h0M107.1 491.8h0M115.8 488.2h0M98.6 484.8h0M96.3 483.6h0M103.4 503.6h0M103.1 462h0M131.7 481.1h0M110.6 496.8h0M65.1 456.5h0M93 477.3h0M72.2 488.3h0M126.5 458.5h0M110 453.5h0M114.5 490.6h0M124.5 499.8h0M103.6 467.6h0M91.5 460.7h0M68.8 460.8h0M83.8 479.5h0M115.3 499h0M87.7 456.8h0M133.5 478.1h0M98.4 496.7h0M127.2 484.7h0M83.5 481h0M96.9 489.3h0M103 486.8h0M101.2 463.1h0M132.5 473.9h0M78.2 473.7h0M59.1 487.9h0M133.3 516.4h0M97.2 488.3h0M101.1 478.4h0M67.4 456.1h0M76.1 485.4h0M100.5 462.8h0M69 499.5h0M129.4 482.8h0M134.5 509.3h0M72.9 453h0M123 459.5h0M90.6 459.4h0M112.1 462.7h0M80 496.3h0M58.1 491.1h0M92.6 453.7h0M134.4 498.4h0M82.2 457.4h0M121.9 461.8h0M113.2 455.5h0M108.2 484.8h0M99.6 489.4h0M104.2 493.2h0M69.6 465.2h0M90.3 487.7h0M66.6 476.4h0M111.9 460.1h0M62.3 490.8h0M68 484.6h0M118.5 459.3h0M119.4 498h0M107.5 462.9h0M109.9 494.2h0M96.2 497.4h0M81.1 488.7h0M111.5 492.1h0M80.6 483.5h0M107.3 503.9h0M63.7 461h0M97 494.2h0M118.5 494.8h0M85.9 493.1h0M129.7 481.7h0M85.1 467.7h0M126.9 458h0M66.2 474.9h0M88.6 494.2h0M105.2 485.7h0M93.1 460.4h0M72.7 460.5h0M83 460.1h0M71.8 490.5h0M76.4 463.3h0M79 487.7h0M93.2 459.9h0M82.6 456.7h0M125.7 460.4h0M78.2 492.4h0M80.3 483.2h0M83.3 469.4h0M118.8 482.8h0M98.2 457.6h0M73.2 457.2h0M108.6 488.7h0M81.2 459.8h0M60.7 484.4h0M122 456h0M86.5 491.8h0M112 463.2h0M101.4 475.3h0M121.7 486.8h0M111.8 497.5h0M99.4 474.4h0M126.1 478.8h0M133.7 499.9h0M132.1 497.2h0M101.6 484.5h0M90.5 493.1h0M103.6 466.5h0M100.7 451.3h0M57.9 474.4h0M118.7 475.9h0M71.8 484.6h0M94.2 465.9h0M59.1 481.9h0M76.4 462.8h0M112.5 496.1h0M91.1 495.9h0M127.2 459.7h0M68.7 460h0M103.4 485h0M115 480.6h0M123.6 489.6h0M78.9 460.4h0M116.2 460.4h0M61.7 496.4h0M80.5 501.8h0M120.8 450.5h0M84.3 491.5h0M89.3 463.5h0M105.6 479.3h0M87.6 500.7h0M134.1 491.2h0M114.7 451.8h0M88.2 486.7h0M94.2 481.9h0M124.2 475.8h0M122.9 461.8h0M78.3 483.4h0M65.1 484h0M71 484.2h0M73.6 479.6h0M101.2 490.8h0M86.2 457.2h0M116.3 500.6h0M78.2 465.9h0M111.1 457.3h0M80.7 469.2h0M124.7 483.5h0M117.7 460.3h0M114.4 485.6h0M121.7 493.6h0M98.8 508.4h0M128.1 480h0M132.2 486.4h0M66 459.4h0M93 492.7h0M121.5 494.7h0M64.8 473.3h0M117 465.6h0M87.3 488.7h0M73.3 490.4h0M62.9 459.5h0M90.3 462.5h0M57 482.8h0M83.2 477.1h0M78.3 461.8h0M117.8 456.6h0M68.5 480.8h0M128.3 461.5h0M65.8 483.3h0"/>
<path d="M98.9 483.2h0M129 488.5h0M107.2 479.9h0M126.4 452.1h0M88.7 474.1h0M119.7 482.3h0M81.5 481.2h0M134.3 480.4h0M111.5 476.8h0M118.9 456.5h0M62.4 478h0M86.1 463.5h0M134.3 458h0M117.2 463.8h0M106.2 493.9h0M99 492.8h0M66.5 458.3h0M71.7 476.2h0M103.5 448.5h0M123.3 492.1h0M98.9 478.6h0M76.4 482.8h0M104.3 491.1h0M83.7 458.4h0M105.3 499.3h0M85.7 460.5h0M89.2 462h0M115.6 459h0M83 491.3h0M134.2 485.1h0M122.7 493.3h0M92.5 456.8h0M125.3 504.7h0M77.5 453.3h0M60.2 499h0M106.8 480.3h0M70.4 493.6h0M94.8 505.5h0M94.9 461.4h0M113.7 451.6h0M84.5 490.1h0M78 482.3h0M63.6 485.8h0M115.7 506.9h0M114.5 451.1h0M131.7 479.1h0M85.1 458h0M128.5 463.1h0M71.6 457.3h0M133 461.9h0M116.3 485.6h0M132.1 490.3h0M113 504.9h0M111.3 458.7h0M69.9 494.3h0M108 496.5h0M107.2 495.5h0M86.8 497.2h0M133.3 477h0M89.4 459.8h0M120.5 462.9h0M109.1 477.2h0M66.5 467.3h0M119.9 458.7h0M126.5 456.9h0M93.2 457.9h0M75.9 461.7h0M83.9 457.5h0M85.6 479.4h0M116.6 458.6h0M132.7 503h0M95.8 465.3h0M132.7 485.1h0M97.6 455.2h0M114.9 457.9h0M82.4 461.3h0M96.8 477.8h0M109.4 459.5h0M75.8 481h0M95.7 480.4h0M81.8 479.2h0M117.6 492h0M66.2 456.9h0M82.3 479.7h0M94.5 480.2h0M74.8 484.6h0M102.5 464.6h0M128.2 460h0M81.4 489.5h0M109 496h0M83.5 486.2h0M126.9 458.3h0M93.8 467.4h0M106.5 493.3h0M134.4 475.8h0M87.5 492.4h0M109 461h0M133.2 487.2h0M121.7 490.1h0M119 460.3h0M98.4 459.1h0M120.6 492.9h0M80.3 485.8h0M91.8 477h0M133.3 453.6h0M72.9 488.5h0M125.1 463.7h0M63 459.7h0M91 465.3h0M78.7 486.7h0M111.6 484.6h0M76.6 454.7h0M120.1 479.5h0M64.1 489.4h0M129 490.8h0M86.4 491.9h0M132.1 488.9h0M125.9 496.3h0M133.6 478.2h0M101.4 486.6h0M115.1 478.3h0M103 493.4h0M128.1 485.6h0M108.4 478.4h0M67.2 483.7h0M133.5 491.2h0M68.9 459.6h0M77.3 484.5h0M93.5 460.2h0M78.1 477.2h0M70.7 461.6h0M97.2 494h0M67.4 475.4h0M104.9 461.6h0M129.7 501.2h0M117 474.2h0M88.1 486h0M132 522.9h0M85.4 489.8h0M100.8 481h0M88.6 482.7h0M102.5 456.5h0M78.2 484.2h0M95.9 494.9h0M71.9 485.7h0M96.6 475.5h0M67.4 484.8h0M131.3 458.7h0M98.6 492.9h0M109.8 519.3h0M94.6 465h0M121.9 488.3h0M119.2 489h0M106.2 465.5h0M72.5 487.4h0M121 491.3h0M103.4 480.4h0M90 479.8h0M71.7 460.7h0M99.1 479.5h0M81.3 483.7h0M95.2 478.4h0M95.9 464.6h0M100.2 489.1h0M118.3 460.4h0M91.3 459.1h0M73 485.2h0M73.6 460.4h0M57.6 488.2h0M111.4 479.9h0M88 464.3h0M88.7 489.5h0M130.8 488.5h0M127.1 483h0M113 475.9h0M98.5 494.7h0M134.9 486.7h0M97.8 477.7h0M124.9 514.6h0M63.3 486.5h0M84.8 477.2h0M90.6 487h0M79.1 488h0M75.3 499.6h0M100.9 474.3h0M134.5 525.9h0M70.2 459.4h0M75.9 490.5h0M85.9 456.4h0M117.4 516.8h0M95.7 460.3h0M71.8 485.2h0M117 459.2h0M112.6 461.5h0M92.7 458.1h0M127.6 477.3h0M84.7 487h0M96.5 491.7h0M124.4 496h0M111 487.2h0M106 484h0M68.7 487.9h0M85 494h0M134.6 482.7h0M101.5 491.8h0M96 492.1h0M86.2 492.6h0M92 487.1h0M104.4 483.8h0M116.7 482.2h0M122.4 493.2h0M82.5 472.3h0M126.4 463h0M117.7 485.1h0M101.8 459h0M77.8 486.3h0M100 496h0M124.9 510h0M85.8 483.7h0M132.6 511.7h0M81.5 481h0M125 490h0M129.2 457.6h0M115.2 490.1h0M131.6 458.6h0M112.6 461.9h0M73.6 472.7h0M74.9 499.8h0M69.4 495h0M89.6 490.3h0M99.8 485.4h0M114.6 481.8h0M84.9 457.6h0M115.3 456.8h0M97.4 452.9h0M89.3 493h0M129.2 486.9h0M113.7 487.3h0M100.8 450.6h0M109 461.1h0M107.3 471.6h0M115.8 456.7h0M119.1 453.2h0M110 506.8h0M107.9 478.9h0M87.3 479.5h0M118.8 485.7h0M125.4 486.4h0M82.5 492.4h0M111.3 498.2h0M61.7 490.7h0M114.3 494.6h0M61.3 477.8h0M71.5 491.1h0M63.6 480.2h0M96.6 489.4h0M83.8 489.9h0M98 482.5h0M129.1 463.9h0M93.6 482.2h0M95.7 482.1h0M110.3 469.7h0M108.9 459.3h0M87.2 475.7h0M99.8 497.4h0M109.9 485h0M86.5 483.5h0M119.4 461.8h0M101.3 472.3h0M91.1 454.9h0M123.4 496.4h0M86.3 456.4h0M94.7 489.7h0M109.4 490.5h0M86.5 459.7h0M81.6 484h0M102.3 462.9h0M134.8 498.6h0M68.9 491.5h0M106.2 492.7h0M57.9 486.1h0M71.9 489.6h0M117 492h0M134.1 500.4h0M107 489.2h0M117.2 480.6h0M123.5 491.9h0M70.4 488.4h0M123.8 472.1h0M61 474.7h0M134.4 485.7h0M119.1 487h0M131.8 515.8h0M64.2 486.4h0M72.2 489.1h0M102.8 457h0M122.6 455.2h0M118.4 490.4h0M133.5 458h0M120.9 456.5h0M86.3 450.6h0M106.9 489h0M132.7 477.4h0M56.8 484.4h0M71.5 462.9h0M100.2 457.4h0M95 486.1h0M68 486.7h0M62.3 462.2h0M127.5 478.1h0M96 483h0M92.9 454.1h0M117.7 500.5h0M120.2 487.6h0M99.5 462.2h0M73.1 492.5h0M132.6 475.5h0M109.8 465.7h0M103 457.2h0M128.6 487.3h0M110.2 465.6h0M104.3 460.4h0M68.7 488.2h0M120.4 455.5h0M112.6 494.1h0M134.6 498.7h0M104.1 481.4h0M122 486.1h0M119.1 462.4h0M96.5 486.9h0M100.9 488h0M103.1 479.1h0M121.8 462.8h0M134.4 477h0M99 464.2h0M106 463h0M133.8 470.4h0M114 466h0M68.3 480.8h0M108.7 465.3h0M74.8 457.7h0M72.4 485.1h0M114.5 461.2h0M110.2 501.1h0M89.7 482.9h0M80.4 486.7h0M127.6 490.4h0M133.9 452.4h0M80.5 494.5h0M133 465.7h0M102.9 466.5h0M82 459.1h0M126.9 455.5h0M88.4 477.3h0M106.9 459.7h0M83.4 490h0M98.6 461.8h0M118 482.4h0M116.3 451.5h0M101 490.7h0M122 481.6h0M64.5 474.3h0M96.3 477.1h0M81.6 490h0M111.1 489.4h0M102.2 499.6h0M78.3 496.5h0M115.9 465.4h0M73.4 475.7h0M121.9 458.8h0M129.7 494.3h0M106.3 467.9h0M78.7 490.3h0M121.9 461.9h0M78.3 459.6h0M84.8 461.5h0M130.4 510.1h0M84.2 483.3h0M90.2 487.3h0M98.3 490.3h0M123.8 487.4h0M63.4 459.7h0M119.5 494.1h0M81.4 488.2h0M132.9 486h0M115.7 492.9h0M101.4 462.2h0M125.3 499h0M95.4 494.3h0M95.7 456.8h0M102.4 516.7h0M72.2 485.2h0M94 481.4h0M81 458.5h0M131.7 457h0M91.1 477.3h0M100.6 479.8h0M122 499.9h0M120.4 492.6h0M83.6 499.5h0M110.3 454.7h0M99.1 448.5h0M80.8 497.5h0M66.3 494.9h0M129.1 451.6h0M78.2 460.5h0M132.3 479.4h0M93.2 496.9h0M118.8 511.6h0M56.8 494.6h0M64.2 483.2h0M123.6 479.7h0M132.7 483h0M126.5 460.9h0M114.3 472.6h0M104.9 500.4h0M103.1 480.9h0M104.2 482.5h0M122.1 482.8h0M82.4 486.2h0M77.3 492.4h0M84.4 470.2h0M88.1 482.8h0M73.9 501.6h0M113 454.9h0M125.3 452.5h0M117.8 502.6h0M84.7 483.6h0M112.3 498.6h0M86.3 481.2h0M73.8 460.2h0M82.2 484.7h0M88.5 454.7h0M89.9 484.5h0M98.7 485.1h0M100.8 491.2h0M113.2 487.5h0M69.1 492.4h0M130.1 457h0M125.7 486.4h0M110.5 477.5h0M123 485.1h0M111.7 492.3h0M64 477h0M94.9 460.9h0M125.5 457h0M105 505.1h0M93 463h0M75.8 494.1h0M83.7 480.9h0M111 451h0M65.1 483.3h0M76.1 474.3h0M118.2 455.5h0M87.9 447.9h0M75.2 491.9h0M96 456h0M81.4 486h0M100.2 457.8h0M84.3 457.2h0M123.4 482.1h0M100.4 485.4h0M92.8 456.2h0M124.9 487.4h0M74.6 479.4h0M116.6 493.5h0M92.9 461.1h0M132.3 485.1h0M99.7 477.1h0M88.4 474.2h0M126 482.6h0M95.5 495.7h0M129.2 457.9h0M124.3 464.5h0M70 482.1h0M123.8 459.5h0M131.2 503.9h0M87.2 457.3h0M99.1 488.2h0M134.2 484.1h0M126.7 462.5h0M81.9 486.3h0M105.9 485.2h0M132.6 494.3h0M56.6 476.8h0M79.4 478.8h0M133.4 470.7h0M78.9 502h0M133.4 478.9h0M83.6 475.1h0M68.8 483.2h0M102.1 485.3h0M125.5 474.6h0M132 514.9h0M108.6 481.2h0M134.7 520.4h0M81.2 463.2h0M89.4 491.2h0M124.7 481.6h0M73.5 490.8h0M66.5 467.7h0M85.8 482.6h0M90.2 461.1h0M92.5 474.9h0M65.4 481.6h0M128 462.9h0M115.6 456.8h0M91.1 480.3h0M104 469h0M66.5 483.9h0M77.5 490.3h0M102.7 492.2h0M123 494.5h0M87.7 478.3h0M75.8 459.1h0M133.9 500h0M86.4 454.1h0M98.7 489.7h0M133.2 486.2h0M89.9 483.6h0M132 512.8h0M96.7 483.4h0M98.9 457.8h0M106.9 482.9h0M93.3 458.3h0M126.5 462.3h0M93.7 493.8h0M112.5 483.6h0M101.4 481.2h0M120.1 491.8h0M75 486.5h0M79.2 488h0M75.6 454.9h0M103.2 496.5h0M97.4 491.1h0M132.3 492.2h0M117.8 486.5h0M86.1 490.3h0M132.8 456.8h0M122.9 490.9h0M132 458.8h0M103.1 500.4h0M91.7 512.4h0M90.4 479.9h0M112.6 492.3h0M72 486.6h0M82.7 495.7h0M80.7 490.1h0M132.8 488.8h0M106.8 460.9h0M59.4 480.1h0M91.9 452.9h0M134.4 503h0M124 502.6h0M61 496.5h0M77.9 486.9h0M104.9 468.3h0M83.7 484.8h0M88.7 487.1h0M119 497.1h0M108 459.3h0M74.6 461.5h0M82.3 480.8h0M82.5 489.4h0M113.4 476.7h0M86.1 486.2h0M133.1 497.4h0M82 460h0M112.4 481.4h0M87.3 485.4h0M66.7 464.8h0M127.9 458.8h0M108.1 482.9h0M98.4 504.1h0M126.5 494.1h0M127.7 488.5h0M91.4 479h0M84.2 501.1h0M110.5 481.5h0M86.5 453.5h0M134.4 464.4h0M112.3 463.2h0M60 482.4h0M76.5 452.2h0M90.4 483h0M96.9 469.9h0M101.2 488.7h0M128 452.3h0M133.2 468.7h0M122.2 460.3h0M83.1 480.2h0M75.4 456.1h0M103.9 476.5h0M62 496.2h0M113.4 475.9h0M99.2 462.6h0M61.6 480.5h0M85 456.4h0M80.5 456.8h0M122.8 499.6h0M133.6 490.7h0M77 480.8h0"/>
<path d="M133.5 474.5h0M113.1 482.1h0M92.6 479.4h0M102.6 484.2h0M96.2 458.3h0M103.8 492.1h0M66.4 503.2h0M112.3 459.9h0M125.1 481.2h0M89.3 463.8h0M117.4 474.1h0M85.3 478.8h0M87.1 467.2h0M132.1 478.7h0M75.2 473.3h0M132.8 474.9h0M78.9 462.6h0M116.7 510.7h0M100 458.8h0M91.9 457.7h0M99.6 499.5h0M85.9 489.4h0M80.6 481.7h0M113.2 477.5h0M130.7 461.2h0M83.8 472.7h0M129.7 471.8h0M110.1 490.2h0M102.2 480.5h0M86.7 487.8h0M130.2 488h0M128.8 492.1h0M102 494.1h0M113 496h0M87.2 496.3h0M121.2 480.2h0M83.6 477.3h0M120.9 486.6h0M127.3 481.4h0M72.5 480.6h0M56.9 485.8h0M73.6 461.9h0M77.4 458.3h0M84.9 478.4h0M123.9 466.3h0M93.6 496.3h0M99.8 483.1h0M126.9 484.9h0M68.3 461.4h0M116.3 517.9h0M76.8 481.1h0M100.2 475.2h0M89 489.2h0M115.3 499.4h0M118.8 506.6h0M100.9 458.1h0M102.2 511.1h0M76.1 494.6h0M114.5 452.7h0M57.5 485.9h0M119.9 483.9h0M112.2 480.4h0M132.5 496.5h0M117.4 482.3h0M85.2 484.5h0M96.7 456.5h0M97.5 493h0M120.3 452.6h0M103.5 480h0M81.5 459.2h0M103.8 483.8h0M63.8 466.3h0M78.8 496.5h0M105.6 459.3h0M134.9 501.7h0M79.5 478.6h0M85.5 458.5h0M124.2 479.3h0M114.2 490h0M116.9 460h0M118.3 486.2h0M130.2 486.5h0M72.7 460.8h0M80.7 486.2h0M107.1 486h0M68.6 483.1h0M86.8 462.8h0M110.5 486.7h0M90.9 459.8h0M106.2 475.3h0M103.7 485.9h0M71.5 460.3h0M130.8 461.8h0M126.7 479.2h0M103.3 456.5h0M68.3 489.9h0M100 476.7h0M119.9 486.2h0M130.5 478.1h0M112 488.5h0M119.3 501.4h0M118 455h0M72.2 457.8h0M121.7 452.7h0M114 486.2h0M131.7 476.9h0M115.9 510.7h0M116 474.9h0M87.3 463.8h0M134.7 481h0M81.3 462.1h0M122.3 469.5h0M105.5 492.5h0M106.6 496.4h0M78.4 459.3h0M124.8 485.8h0M84 449.9h0M123.8 479.2h0M127.2 490.7h0M131.9 452.1h0M117.9 481.2h0M104.5 458.4h0M72.8 495.5h0M60.9 485.4h0M110.5 488.2h0M109.9 492.4h0M67 497.2h0M73.3 482.3h0M79.8 463.8h0M64.6 480.5h0M127.3 467.3h0M84.1 490.9h0M102.1 499.3h0M72.6 458h0M97.6 491.2h0M109 503.6h0M72 491.2h0M100.5 491.7h0M133.4 503.9h0M96 494.9h0M74.1 489.2h0M93.4 485h0M93.7 500h0M73.1 486.2h0M75.1 490h0M92.2 466.9h0M112.7 479.5h0M133.2 485h0M84.9 487.7h0M88 479h0M71.3 481.4h0M93 464.3h0M75.2 483.2h0M109.3 481.3h0M129.2 481.7h0M98.2 498.7h0M112.3 465.5h0M71.9 459.6h0M92.3 464.2h0M109.8 510.1h0M135 527.6h0M100.1 478.9h0M85.7 487.3h0M109.3 508.6h0M117.7 494.9h0M133.1 452h0M119.2 459.3h0M107.3 489.6h0M86.7 455.9h0M61.5 477.9h0M72.6 456.1h0M83.7 476.7h0M117.7 497.5h0M113.2 490.4h0M133.4 483.4h0M74.8 492.8h0M99.8 462.5h0M86.4 493.9h0M103.7 487.3h0M94.6 492.9h0M113.8 495.3h0M113.6 491.9h0M80.5 487.5h0M84.9 494.3h0M57.9 484.2h0M115.4 480.1h0M112.5 508.3h0M83.4 495.5h0M106.3 504.3h0M113.5 487.1h0M110.7 487h0M120.1 488.4h0M62.5 480.1h0M132 499.1h0M112.4 471.4h0M100.2 481.9h0M132.5 483.2h0M85.9 486.2h0M77.8 455h0M87.5 491.4h0M115.8 480.2h0M83.4 488.9h0M111.5 476.6h0M126 455.6h0M115.3 483h0M116.5 477.9h0M109.7 460.6h0M79.7 489.7h0M61.4 500.8h0M71.7 484.8h0M107.2 493.4h0M132.7 459.9h0M89.2 492.4h0M118.6 494.7h0M98.9 463.8h0M73.6 459.4h0M82.9 489.6h0M128.3 512.3h0M110.8 486.4h0M91.3 484.8h0M107.4 461.3h0M97 493.8h0M107.1 479.8h0M109.1 488.5h0M107.4 491.5h0M94.3 463.3h0M134.6 485.4h0M79.1 458.1h0M94.6 480.3h0M116.6 486.8h0M90.2 494.3h0M76.8 476.4h0M129.2 474.7h0M112.8 493.7h0M89.6 457.8h0M128.8 499.1h0M79 492.9h0M115.4 486h0M97.6 480.4h0M92.2 518.1h0M96.1 462.1h0M101.1 488.6h0M106.9 491.9h0M133.3 467.1h0M64.9 458h0M101.6 517.9h0M122.8 462.2h0M103.3 459.9h0M95.2 483.8h0M91.9 502.9h0M91.7 485.7h0M117.6 511.4h0M96.2 495h0M109.9 479.7h0M92.4 498.3h0M130.2 476.4h0M87.8 459.3h0M125 460.6h0M78.1 486h0M61.7 484.8h0M94.4 493.1h0M122.7 485.5h0M124.1 484.4h0M68.9 476h0M60.9 482h0M87.4 459.4h0M105.2 496.3h0M94.1 482.1h0M105.7 476.5h0M78.4 504h0M101.9 508.3h0M100.4 504.6h0M100.1 515.2h0M61.6 458.7h0M67.8 502.9h0M88.6 474.4h0M123.6 461.6h0M87.7 480.9h0M83.7 461.2h0M119.9 457.6h0M120.9 467.1h0M134.5 495h0M80.9 474h0M89.5 459.7h0M100.9 461.3h0M131.9 459.3h0M87.3 473.7h0M133.7 491.8h0M79.8 493.7h0M109.9 477.9h0M85.4 487.8h0M99.8 479.5h0M132.4 487.8h0M131.3 493.3h0M106.6 475.8h0M116.2 457h0M132 488.7h0M120.4 458.1h0M102.6 480.6h0M92.2 484.8h0M127.7 460.3h0M130.5 457h0M74.6 460h0M127.3 485.7h0M99.3 483.5h0M86.7 485.8h0M60.7 488.8h0M98.3 484.9h0M108.7 492.5h0M67.2 469.5h0M123.3 487.1h0M109 456.6h0M78.3 498.4h0M103.2 488.6h0M131.2 456.7h0M76.1 466.6h0M70.9 490.2h0M106.8 491.6h0M85.2 486.4h0M126.9 475.7h0M117.7 470h0M77.3 454.5h0M97.3 461.3h0M118.5 455.3h0M115.8 496.3h0M133.8 481.9h0M93.8 485.7h0M101.3 479.9h0M131.2 489.5h0M62.8 482.6h0M57.9 492.3h0M95.5 460.9h0M126 459.6h0M127.7 516.2h0M64.2 458.7h0M78.4 490.5h0M59 481.1h0M117.5 497.7h0M79.6 485.6h0M97.5 501.1h0M97.7 499.8h0M132.9 452.4h0M107.5 462.3h0M94.6 494.4h0M135 514.3h0M123.8 503.2h0M110.5 512.9h0M102.2 479.4h0M70.7 484.8h0M132.5 461.6h0M91 474.7h0M91.5 458.8h0M75.4 459.6h0M94 495.3h0M113.7 511.3h0M118.4 452h0M133.4 474.4h0M91.8 491.5h0M96.4 459.1h0M112.1 491.9h0M88.6 457.3h0M132.2 498.4h0M111.8 457.9h0M119.6 460.3h0M85.8 491.8h0M92.3 455.3h0M79.8 486.9h0M133.5 456.2h0M122.5 491.6h0M63.3 487.8h0M92 479h0M75 502.9h0M91.6 491.8h0M109.7 478h0M132.2 470.7h0M127.1 488.9h0M78.3 467.6h0M86.4 464.7h0M124.8 475.7h0M107.2 490.1h0M134.1 483.3h0M103.1 475.2h0M111.1 511.5h0M118.7 482.5h0M128.2 507.7h0M134.7 478.5h0M130 490.3h0M81.4 452.7h0M80.6 462.5h0M63.6 455.1h0M114.9 458.4h0M106.3 457.3h0M101.9 483.1h0M78.1 456.9h0M130.3 490.5h0M58 472.9h0M116.2 448.8h0M105.8 493.4h0M93.4 461.3h0M118 481.2h0M98.1 470.3h0M60.4 482.5h0M126.1 454.6h0M82.4 462.4h0M71.9 492.6h0M68.6 487.2h0M116.9 511.5h0M72.1 501.8h0M72 480.3h0M113.6 486.6h0M78.8 455.8h0M95.2 484h0M117.4 460.4h0M65.5 493h0M57.8 473.8h0M127.2 489.2h0M73.6 462h0M95.6 448h0M132.4 457h0M94.9 483.9h0M79.7 463.6h0M82.6 465.5h0M77.7 476.4h0M99.6 476.8h0M128.1 496.4h0M77.8 479.2h0M128.4 460h0M130.2 459.4h0M84.4 498.8h0M107.4 499.8h0M122.6 480.4h0M133.8 491.8h0M107.3 487.2h0M107.1 459.8h0M67.1 479.2h0M99.3 460.2h0M77.6 491.3h0M117.1 488.2h0M132.9 475h0M106.2 497h0M74.4 482h0M78 495.9h0M104.5 464.4h0M109.8 492.3h0M100.8 482.9h0M63.6 482.7h0M81.2 472.6h0M61 474.4h0M131.6 499.6h0M95.8 456.3h0M115.1 481.3h0M61.4 491.9h0M79 488.6h0M106 484.2h0M117.2 456.5h0M120.7 491.7h0M70.9 471.6h0M89.3 481.8h0M64.1 478.1h0M105.4 460.6h0M131.1 489h0M133.5 512.2h0M97.7 507.9h0M104.4 492.5h0M114.3 477.9h0M86.6 487.4h0M99.7 454.6h0M107.7 484h0M96 494.6h0M133.7 475.9h0M71.6 492.5h0M60.2 486.8h0M62.6 491.1h0M64.4 456.4h0M93.8 485.5h0M124.3 495.6h0M77.4 481.6h0M125.4 457.7h0M119.3 458h0M91.2 454h0M109.8 484.3h0M95.2 500.2h0M91.7 483.9h0M84.6 461h0M96.5 474.9h0M101.8 455.7h0M117.9 490.1h0M111.8 478.6h0M113.2 457.3h0M114.3 490.8h0M114.8 490.1h0M117.8 507.4h0M107.8 491.8h0M88.4 453.2h0M106.8 457.6h0M100 458.4h0M77.9 490.9h0M99.5 458.1h0M130 461.7h0M126.7 460.3h0M85.4 483.2h0M112.8 486.9h0M132.1 475h0M131.7 497.9h0M76.6 461.7h0M115.7 461.8h0M134.4 461.1h0M111.5 457.5h0M64.7 458h0M86.2 492.1h0M73.8 484.5h0M122.3 492.8h0M133.9 453.1h0M107.8 462.4h0M96 509.4h0M132.9 495.8h0M62 456.1h0M84.5 459.9h0M104.3 452.6h0M125.7 501.1h0M102.2 480.4h0M110.6 454h0M107.3 458.1h0M123.8 484.2h0M107.2 462.5h0M122.9 491.7h0M64.7 483.2h0M96.3 483h0M110.8 483.9h0M72.9 485.8h0M94.9 494.3h0M102.7 477.1h0M126.8 486.1h0M70 491h0M64.6 480.2h0M78.3 461h0M114.4 517.6h0M91 482.3h0M106.4 467.2h0M56.4 479.9h0M89.4 483.2h0M98.1 463.7h0M108.7 486.8h0M107.6 507.1h0M76.8 487h0M79.2 485.1h0M78.3 475.6h0M111.3 460.3h0M79.8 494.2h0M74.7 488h0M103.9 521.2h0M105.9 480h0M110.9 481.1h0M102 484.2h0M63.4 482h0M106.8 458.3h0M93.5 477h0M88.4 487.1h0M111.2 477.7h0M131.1 453.6h0M108.2 506.9h0M58.9 512.7h0M118.9 453h0M96.9 453.7h0M125.2 487.2h0M111.5 460.2h0M56.4 477.4h0M131.8 484.4h0M72.6 486.3h0M118 467.4h0M110.4 460.6h0M104.6 501.2h0M98.4 457.3h0M80.3 490.8h0M86.1 485.5h0M68.9 484.6h0M133.6 458.2h0M77 484.4h0M78.8 460.5h0M72.6 464.9h0M134.7 527.2h0M101.7 479.6h0M110.8 466h0M101.8 488.4h0M73.2 465.1h0M74.4 484.1h0M87.1 460h0M124.8 491.3h0M120 498.8h0M121.8 463.4h0M120.1 494.4h0M109 485.4h0M111.3 474.7h0M123.6 479.5h0M88.2 479.6h0M134.8 463.3h0M79.8 456.3h0M104.5 490.8h0M71.6 499.1h0M119.5 451.3h0M93.1 463.8h0M82.6 487.9h0"/>
<path d="M110.7 496.2h0M91.9 480.1h0M99.1 481.7h0M57.9 474.6h0M126.1 496.7h0M72.4 495.5h0M84.8 499.7h0M110.2 480.6h0M118.8 508.6h0M119.3 495.2h0M86.6 455.1h0M118.4 483.1h0M113.7 466.1h0M92.4 488.6h0M86.5 480h0M74 481.1h0M87.8 453.3h0M85.5 489.4h0M108.7 459.4h0M100.1 482.2h0M122.5 463.9h0M134.5 489.2h0M59.3 499.1h0M68 455.6h0M116 492.8h0M123.9 484h0M64.1 478.6h0M61.8 481.9h0M119.6 478h0M97.4 488.8h0M78.5 473.3h0M80.5 456.8h0M108.5 474.9h0M97.1 458.6h0M102.9 496.9h0M57.5 480.9h0M69.2 479.1h0M86.7 496h0M119.3 461.3h0M88 505.1h0M69.8 465.1h0M113.3 476.6h0M95.6 493.2h0M109.9 460.4h0M107.2 462h0M59.9 492.5h0M85.2 480.1h0M120 496.4h0M73.9 484.3h0M113.9 458.2h0M101.8 461.1h0M131.6 458.4h0M133.1 490.9h0M87.2 505.7h0M120 491.1h0M122 459.1h0M77.4 493.4h0M70.8 486.9h0M131.8 503h0M112.4 458.3h0M70.8 474.8h0M116.4 483.1h0M84.9 490.1h0M111.7 481.1h0M118.7 491.9h0M133 489.3h0M63.6 467.2h0M98.4 486.6h0M93 480.8h0M89.3 461.5h0M95.9 457.5h0M97.5 476.9h0M115.5 482.8h0M132.4 470.1h0M127.4 457h0M124.7 482.1h0M132.1 492.1h0M100.4 476.9h0M91.1 457.3h0M88.8 497.3h0M74.6 455.1h0M117.6 460.8h0M114.2 488.5h0M97.7 462h0M115.6 473.3h0M123 496h0M98.8 493h0M129.3 499.2h0M93 457h0M83.1 493.7h0M130 497.6h0M134.7 466.1h0M102.7 490.2h0M81.4 491.8h0M132.7 484.9h0M110.4 466.9h0M121.5 503.1h0M119.8 492.1h0M120.8 468.9h0M123.9 458.2h0M89.3 488.4h0M105.4 464h0M119.8 470.2h0M109.4 501.6h0M62.8 492.8h0M105.1 481.7h0M75.9 484.9h0M89 458.5h0M114.3 470.3h0M134.7 485.6h0M62.5 479.4h0M124.3 481.4h0M102.8 487.2h0M130.9 460.6h0M133.6 478.5h0M96 456h0M91.3 454.4h0M130.5 488.1h0M115.1 491.4h0M132 458.8h0M61.8 481.6h0M76.4 488.6h0M108 456.1h0M113.3 456.6h0M114 487.1h0M103.3 492.4h0M83.9 487.1h0M105.8 455.2h0M75.4 464.9h0M101.7 461.9h0M104.8 459.4h0M110 479.3h0M81.3 486.8h0M110.5 508.2h0M108.6 463.5h0M87.6 498.8h0M93.4 453.1h0M111.1 489.9h0M74.7 459.2h0M88.9 486.5h0M134.4 454.3h0M115.5 506.1h0M111.4 475.4h0M104.8 501.1h0M65.5 486.3h0M126.5 463.5h0M84 479.5h0M125.2 467.5h0M126.3 477.4h0M118.9 493.6h0M66.5 495.3h0M95.5 452.3h0M88 483.8h0M64.9 484.5h0M75.4 498.2h0M93.2 485.8h0M113 489.4h0M133.6 452.9h0M110.7 466.7h0M132.4 486.6h0M101.6 461.1h0M111.9 454.9h0M121.8 507.4h0M95.7 456.3h0M103.5 498.8h0M70.2 462.6h0M86.3 464h0M105.2 484h0M81.9 484.1h0M73.6 487.2h0M109.9 460.1h0M75.4 488.3h0M132.7 478.6h0M67.3 488.1h0M117.2 498.5h0M93.9 455.8h0M74.4 486h0M115 503.8h0M90.9 479.7h0M98.9 502.7h0M125.1 480h0M121.3 485.7h0M116.4 493h0M132.3 477.6h0M105.4 488.4h0M76.8 461.4h0M131.9 488.3h0M111.1 491.5h0M132.1 501.1h0M74.7 501.2h0M65.3 486.2h0M65.2 487h0M90.6 488.6h0M117.7 479.6h0M129.5 495.3h0M126.4 487.5h0M95 479h0M128.3 487.8h0M132.1 493.5h0M134.9 501.7h0M92 494.2h0M130.9 482.5h0M90.6 466.3h0M101.9 481.9h0M132 487.4h0M80.4 486.6h0M85.2 487.3h0M112.3 456.6h0M71.1 483.8h0M133.8 462.2h0M82.5 475.2h0M84.6 453.5h0M106 485.9h0M95.7 483.6h0M75.7 480.7h0M106 462.1h0M80 504.2h0M65.2 491.8h0M72.3 478.3h0M116.8 459h0M101.6 475.3h0M81.3 476.1h0M99.6 484h0M67.3 455.6h0M107.7 485h0M109.7 482.1h0M92.6 459.6h0M75.9 482.8h0M98.6 483.2h0M99.4 480.1h0M98.6 493.1h0M68.9 475.9h0M69.4 481.4h0M112.1 507.9h0M101.1 499.2h0M68.3 488.3h0M89 457.6h0M61.8 459.5h0M107.7 484.8h0M87.1 461.3h0M66.6 466.9h0M116.7 494.9h0M131.7 518.6h0M117.8 481h0M84.6 492.6h0M58.8 486.3h0M80.7 464.3h0M114.2 495h0M66.6 484.9h0M111.6 494.4h0M90.9 481.5h0M107.3 500.4h0M107.5 459.4h0M119.4 480.8h0M70.8 488.1h0M107.8 480.6h0M79.3 489.7h0M131.9 521.1h0M127.9 460.1h0M122.8 460.4h0M96.2 481.7h0M68.6 488.5h0M66 480.2h0M89.2 455.9h0M104.8 479.1h0M118.1 474.4h0M123.1 487.8h0M124 462.6h0M94.7 496.7h0M80 473.8h0M92.3 459.3h0M133.8 479.5h0M124.1 460.1h0M120.5 497.2h0M134.6 480.8h0M128.1 481.7h0M66.2 463.1h0M90.5 458.7h0M70 488.9h0M121.9 484.2h0M77.8 480.5h0M84.3 493.1h0M97.6 471.4h0M82 457.4h0M83.3 484.6h0M103.5 491.1h0M129 482.9h0M105.5 460.1h0M133.4 469.6h0M76.2 498.9h0M132.7 498.8h0M65.1 458.7h0M105.4 490.6h0M122.4 460.9h0M102.8 458.3h0M74.4 492.7h0M112.3 451.9h0M116.4 485.6h0M70.9 473h0M121.4 456.2h0M79.2 485.7h0M89.3 459.6h0M79.4 465.7h0M90.6 485.1h0M64.1 480.8h0M82 484.4h0M75.8 502.7h0M94 495.4h0M122.4 487.2h0M100.1 478.6h0M106 459.4h0M99.7 485.8h0M120.7 489h0M104.6 486.7h0M111.6 457.1h0M98.4 464.8h0M84.4 488.6h0M68.5 482.8h0M90.1 493.5h0M62.5 480.3h0M84.6 481.8h0M57.4 482h0M111.5 457.7h0M84.1 457.3h0M112.6 458.9h0M133.3 493.7h0M84.9 477.5h0M110.2 492.2h0M78.7 484.1h0M108.9 491.1h0M66.2 487.5h0M131.7 495.4h0M112.9 460.2h0M100.8 505.6h0M100.6 458.1h0M131.5 499h0M101.1 482h0M75.7 464.5h0M122.4 493.5h0M127.9 459.9h0M133.1 480.9h0M90.9 456.8h0M103 466.8h0M75.3 478.7h0M134.7 501.5h0M128.2 486.4h0M87.7 481.2h0M117.3 492.2h0M59.4 485.4h0M109.3 490.3h0M93 477h0M75.2 477h0M91.9 456.2h0M72.8 463.1h0M75.6 455h0M87.5 456.1h0M133.6 485.9h0M91 464.4h0M128.6 476.2h0M131.9 453h0M115.1 497.6h0M63.5 476.5h0M70.6 479.6h0M87.6 497.2h0M61.6 480.3h0M90.4 454.9h0M95 491h0M111.1 491.5h0M113.5 483.6h0M91.4 488.2h0M125.5 504.1h0M118.9 491.5h0M80.2 476.4h0M133.1 459.6h0M97.7 455.5h0M124.3 498.2h0M85.6 474.2h0M70.9 495.2h0M105.5 504.6h0M67.4 481.5h0M78.3 475.8h0M132.9 454.9h0M128.1 492.4h0M126.1 452.9h0M112.8 481.1h0M112.7 489.1h0M76.2 482.3h0M84.7 488.9h0M88.8 480.3h0M117.4 487.2h0M79.8 454.8h0M116.7 491.2h0M72.1 487.9h0M59.1 487.6h0M101.7 456.9h0M97.8 506.8h0M66.8 469.3h0M73.7 490.8h0M100.4 475.6h0M100.5 477.2h0M121.2 455.3h0M127.9 481.2h0M83.1 498.1h0M90.8 476.9h0M121.8 463.7h0M104.8 484h0M116.2 478.4h0M62.4 453.5h0M134 466.5h0M109.6 458.7h0M124 485.8h0M77.1 490.6h0M124.1 493.4h0M83.2 460.1h0M128.3 493.3h0M123.2 495.1h0M129.2 458h0M133.3 455.4h0M110.9 470.1h0M84.9 496.7h0M76.7 469.8h0M72.7 489.8h0M96 477h0M125.1 483.4h0M57.4 483h0M62 477.5h0M86.5 477.9h0M117.5 511.2h0M88.9 497.2h0M68.6 477.7h0M75 497.9h0M102.1 510h0M66.7 481.1h0M100.6 462.8h0M69.8 473.4h0M79.6 486.5h0M101.2 481.9h0M95.5 481.6h0M89.7 494.6h0M107.5 477.1h0M71.8 484.4h0M72.9 484.8h0M122.6 494.4h0M67.2 481.8h0M108.9 455.2h0M126.5 478.8h0M118.8 496.7h0M84 494.2h0M76.8 482.5h0M102.1 479.8h0M133.7 501h0M115.8 516.5h0M132.7 482.4h0M125.8 486.5h0M107.5 462.2h0M83.9 490.4h0M90 460h0M78.1 492.4h0M72.9 504.3h0M88.8 458.2h0M118.9 491.9h0M70.3 485.3h0M77.6 461.1h0M110.4 491.1h0M95.8 454.8h0M76.4 496.9h0M116.4 512.8h0M132.1 453.1h0M72.8 477.5h0M120.9 490.2h0M65.9 483.7h0M124.7 497.6h0M68.3 481.8h0M85.4 464.5h0M68.2 487.5h0M107.3 487.3h0M133.4 483.1h0M131.4 455h0M62.6 480.2h0M87.3 485.2h0M89.6 485.4h0M107.3 463.2h0M98 501.8h0M111.4 501.7h0M133.3 461.4h0M72.6 502h0M108.4 465.2h0M82.2 485.9h0M78.1 453.9h0M85.9 488.1h0M126.3 489.3h0M122.4 502.1h0M108.3 450.9h0M101.5 487.5h0M89.5 493.6h0M83.8 492.8h0M65.6 462.6h0M106 501.1h0M100.9 482.4h0M133.9 459.6h0M63.9 478.7h0M133.6 490.2h0M103.1 473.8h0M78.2 474h0M114.8 458.1h0M124.3 455.2h0M94.5 520.5h0M125.3 482.8h0M80.6 498.2h0M120.6 496.5h0M111.3 491.3h0M84.3 479.5h0M120.6 483.1h0M73.2 487.1h0M109.1 486.9h0M60.8 492.9h0M101.1 512.3h0M95.3 484.3h0M123.1 462h0M100.6 461.1h0M123.7 491.6h0M81.1 486.9h0M133.5 499.5h0M120.4 503.6h0M98 462.9h0M74.7 478.2h0M85.7 493.9h0M90.6 463.7h0M70.2 486h0M120.6 501.1h0M88.9 467.2h0M84.7 491.2h0M111.9 490.8h0M65.9 481.8h0M133.9 526.8h0M59.6 474h0M83.7 481.4h0M107.7 491.5h0M65.1 462.5h0M123.8 480.6h0M77.8 487.7h0M98.9 479.8h0M78.2 488.7h0M101.9 455.3h0M88.7 463h0M106 458h0M96.1 475.6h0M93.6 460.3h0M74.5 459.4h0M119.1 458.7h0M96.6 504.9h0M84.1 482.3h0M133.6 510.1h0M132.6 481.2h0M98.5 452.6h0M72 487.2h0M135 499.6h0M107.7 454.5h0M60.9 479.9h0M134.6 526h0M109.6 492.4h0M113.9 460.5h0M70.3 470.1h0M121.9 483.1h0M104.7 455.9h0M73.9 490.6h0M111.2 487.7h0M68.7 461.2h0M85 484.6h0M114.1 487.8h0M82.3 456h0M107 495.6h0M127.2 457.9h0M71.5 486.1h0M84.7 483.5h0M114.9 495.5h0M93.9 485.3h0M65.5 463.8h0M131.9 507.7h0M133.2 498.5h0M86.1 474.3h0M96.8 457.9h0M124.3 469.1h0M128.6 490.5h0M74.3 482.5h0M80.9 456.2h0M111.8 502.5h0M113.9 495.1h0M103.4 463.6h0M90.8 491.6h0M77.5 492.8h0M101 484.4h0M106.4 485.9h0M100.4 483.6h0M119.6 486.3h0M114.9 462.6h0M97 481.5h0M71.4 487.3h0M100.9 478.2h0M112.6 496.1h0M60.9 474.4h0"/>
<path d="M108.8 486.3h0M84.4 477.4h0M113.5 457.2h0M132.3 489.6h0M77.4 478.9h0M100.6 479.7h0M134.9 521.3h0M92.2 482.9h0M127.3 491.6h0M101.8 476.2h0M132.5 491.3h0M119.3 495.3h0M110.4 487h0M123 487.2h0M78.8 482h0M64.6 473.3h0M122 490.9h0M113 485.4h0M130.8 492.5h0M106.9 471.7h0M128 478.2h0M79.1 464.1h0M96.9 493.4h0M130.7 495.2h0M62.5 466.4h0M71.2 475.8h0M121.7 463.6h0M87.4 486.2h0M92.3 460.3h0M112.1 472.3h0M78.1 489.9h0M122.8 492.3h0M114.8 464.3h0M96.6 459.7h0M113.8 496.4h0M84 481.7h0M86.4 447.9h0M77.9 478.9h0M75 475.8h0M66.6 495.3h0M89.5 465.5h0M62.1 459.7h0M63.6 459.8h0M83.8 496.3h0M101.7 491.4h0M78.2 456.4h0M91 507.9h0M113.1 501.3h0M133.8 470.1h0M58.8 485.2h0M114.1 490.9h0M81.5 488h0M127.4 479.9h0M101.3 458.4h0M125.7 495.1h0M115.2 484.3h0M75 483.8h0M134.5 472.1h0M81.1 504.1h0M67.8 478.2h0M74.8 478.5h0M97.1 486.8h0M132.2 479h0M127 455.1h0M81.5 474.5h0M101.5 491.7h0M115.8 516.5h0M70 474.1h0M66.4 460.8h0M102.3 479.4h0M126.4 512.5h0M97.3 490.1h0M69.5 492.4h0M63.1 477.7h0M88.2 485.3h0M60.8 483.2h0M72.8 483.8h0M88.4 485.5h0M119.6 463.2h0M124.2 469.3h0M70.7 495.6h0M90.5 477.7h0M102 483h0M81.4 460.3h0M134.4 469.4h0M119.8 479.5h0M82.2 495.3h0M96 461.6h0M64.3 460.5h0M114.7 455.2h0M119.1 480.8h0M114.5 498.2h0M107.2 454.4h0M104.5 457.6h0M108.5 491.4h0M65.8 486.1h0M125.5 491.3h0M82.1 459.2h0M119.3 491.6h0M120 458.6h0M126.4 466.3h0M75.7 474.4h0M103.1 470.4h0M101.5 485.8h0M121.5 482.9h0M104.4 487.5h0M92.7 503.6h0M134 480.1h0M87.9 463.4h0M93.8 450h0M130.6 476.5h0M126.5 482.7h0M98.9 484.4h0M105.6 490.8h0M92.8 459.3h0M80 456.8h0M86.6 494.5h0M91.4 490.3h0M106.9 502.2h0M94 484.6h0M113.3 457h0M127.7 482.9h0M106.9 480.2h0M124.2 483.5h0M122 520.7h0M133.7 497.4h0M72.8 486.5h0M110.5 502.5h0M84.7 456.1h0M79.5 474.6h0M101.4 464.5h0M94.7 479.6h0M87.5 458.8h0M112.2 490.1h0M94.1 485.6h0M96.7 481.2h0M128.4 459.1h0M82.2 464.7h0M69.4 483.9h0M101.9 455.5h0M132.7 479.3h0M67 479.7h0M58.6 476.7h0M131.5 461.3h0M74.7 491.8h0M96.9 462.9h0M92.5 461.5h0M90.5 459.3h0M89.4 485.6h0M106.5 479.5h0M87.4 479h0M125.4 515.5h0M105.6 501.7h0M94.8 499.8h0M106.8 484.9h0M104 476.9h0M131.9 457.5h0M109.1 462.2h0M82.9 452.1h0M132.6 487.8h0M98.3 491.1h0M74.9 466.1h0M71.4 477.3h0M110.7 508.3h0M121.4 456.5h0M98.3 497.8h0M117.3 488.7h0M97 457.7h0M132.8 490.9h0M74.2 459.1h0M110.1 493h0M92.5 458.8h0M113.7 512.7h0M132.7 481.4h0M96.3 458h0M87.7 457.4h0M97.7 488.1h0M85 479.8h0M91 481.8h0M78.2 480.2h0M97.7 476.2h0M95.1 465.1h0M85.7 456.9h0M103.1 483.8h0M96.3 480.2h0M120.7 460.5h0M90.3 498h0M104.5 492.3h0M118.9 511.1h0M105.6 485.2h0M87.1 485.5h0M122.6 483.9h0M100.8 491.8h0M86.3 484.1h0M112.5 478.4h0M78.5 480.2h0M112.1 485.7h0M102.6 464h0M124 485.3h0M65.4 489h0M91.6 485.4h0M116 478.6h0M119.6 463.4h0M106.4 451.7h0M131.5 483.2h0M104.2 459.1h0M82.7 480.3h0M97.9 458.5h0M77.9 457.2h0M68 457.4h0M120.4 458.6h0M60.4 468.4h0M96.1 502.6h0M113.3 482h0M83.5 487.6h0M67.3 490.2h0M107.9 482.5h0M116.7 493.8h0M117.4 461.4h0M89.1 489.2h0M94 503.8h0M116.6 456.3h0M116.1 478.7h0M69.7 500.2h0M70 491.3h0M133.9 490.9h0M73 484.1h0M90 459.4h0M132.1 454.7h0M100.7 460.5h0M111.9 459.5h0M80.5 497.8h0M110.6 464.1h0M99.4 486.4h0M97 501.9h0M122.3 471.6h0M113.9 462.7h0M133.2 456.9h0M103 497.6h0M132.8 492.2h0M84.7 460.6h0M73.8 460.8h0M94 458.7h0M110.1 475.8h0M68.9 492.8h0M101.4 472.1h0M132.1 487.2h0M113.1 459.8h0M98.3 459.5h0M114.3 485.6h0M93.8 496.9h0M125.9 483.5h0M84.8 493.2h0M87 482.5h0M77.6 487.7h0M61.8 487.5h0M126.7 497.8h0M100.8 459.8h0M94.6 502.1h0M78.6 499.6h0M103 481h0M76.6 484h0M95.6 513h0M132 476.9h0M98.4 488.1h0M100.1 479.7h0M110 485.8h0M124.5 474.1h0M108.4 485.6h0M112.3 510.7h0M97.6 483.4h0M70.6 468h0M133.9 509h0M105.7 492.7h0M110.2 483.1h0M112.3 458.9h0M84.9 456.1h0M83.8 485.7h0M78.1 498.6h0M72.9 484.6h0M133.4 474.5h0M110.8 460h0M91.1 479.1h0M102 456.8h0M133.3 510h0M132.7 480.6h0M97.3 494.5h0M133 524.4h0M104.5 494.3h0M118.6 454.4h0M112.7 520.1h0M122 485.3h0M75 489.4h0M124 498.2h0M110.3 487.6h0M105.7 474h0M113.7 490.7h0M133.3 494.5h0M89.6 489.9h0M93.6 495h0M60.8 455.4h0M86.8 462.7h0M59.3 495.6h0M104.3 490h0M111.5 491.4h0M92.7 485.6h0M113 461.8h0M93.1 490h0M118.5 462.5h0M68.7 490.6h0M109.5 486.3h0M63.5 480.7h0M107 489.8h0M68.9 458.3h0M132.5 491.7h0M83.5 453.6h0M108.8 491h0M124 466.5h0M81.1 483.7h0M109.8 480.9h0M128.5 455.8h0M125.4 477.1h0M62.2 483h0M134.2 484.2h0M112.1 474.1h0M107.8 485h0M60.9 488.6h0M90.4 477h0M132.1 490.2h0M126 459.5h0M131.8 479.4h0M133.7 499.1h0M71.6 490h0M81.5 485.6h0M69.5 475.2h0M133.6 470.6h0M111.8 472.2h0M90.7 482.5h0M75 451.9h0M130.4 508h0M92.7 451.1h0M134.9 466.8h0M130.5 490.7h0M126.4 502.3h0M112.8 487.8h0M110.7 487.7h0M134.4 512.8h0M95 477.6h0M87.6 465.6h0M69.7 457.1h0M83.9 483.7h0M108.7 453.6h0M67.4 462.5h0M120.1 459.3h0M98.8 466.7h0M81.5 496.5h0M61.5 485.5h0M78.2 477.2h0M110.5 487.2h0M88.6 478.2h0M87.1 480.2h0M117.9 486.4h0M96.2 468.4h0M115.4 497.5h0M81.3 496.5h0M122 464.7h0M58.7 486.8h0M82.8 501.6h0M116.1 490.2h0M132.5 455.3h0M86.1 478.3h0M108.9 460.8h0M80.4 480.2h0M69.5 484.3h0M105.6 505.1h0M98 492.4h0M63.1 457.4h0M127.2 494.2h0M116.5 491.7h0M119.4 481.9h0M73.2 482.1h0M65.9 485.4h0M85.3 476.9h0M93.2 461.7h0M85.4 460.6h0M92.1 461.2h0M75.6 498.9h0M75.4 461.6h0M79.6 489.8h0M91.3 493.7h0M85.3 478.5h0M84.3 483.5h0M92.6 457.2h0M102.3 486.3h0M90 480.5h0M121.7 501.4h0M125.7 461.5h0M96.3 457.3h0M118.2 491.1h0M122.6 482.7h0M115.4 445.5h0M77.5 480.5h0M94.1 463.2h0M100.8 495.8h0M65.5 456.9h0M132.3 454.7h0M133.6 471.6h0M70.9 487.9h0M105.4 493.2h0M76.9 465.6h0M124.3 482.5h0M122.9 499.9h0M124.8 456.9h0M100.2 483h0M102.8 455.4h0M103.1 457.8h0M93.2 468.5h0M102.8 497.7h0M109.3 484h0M106.4 455.2h0M84 456.9h0M95.1 455.4h0M107.5 481.3h0M96.2 492.8h0M126.4 478.4h0M131.9 474h0M80.1 489.3h0M93.9 462.3h0M103.8 476.8h0M79.7 486.3h0M127.2 481.5h0M101.6 460.1h0M114.6 455h0M105.2 495.3h0M109.3 494h0M77.5 482h0M111.3 459.3h0M55.9 479.5h0M124.9 465.2h0M115 489.5h0M122.3 491.7h0M85.3 453.2h0M81.2 488.2h0M104.5 495.8h0M82.8 448.4h0M112.2 458.2h0M95.8 457.4h0M121.8 460.6h0M134.4 502.3h0M76.8 481.7h0M109.6 453.7h0M91.3 468.9h0M97.5 500.2h0M76.1 458.5h0M88.8 462h0M63.8 487.5h0M67.3 460.2h0M64.3 480.4h0M101 497.4h0M103 455.2h0M69.5 462h0M117.8 482.8h0M68.2 493.5h0M130.4 512.1h0M85.6 490.8h0M98 507.2h0M114.6 489.3h0M68.9 495.1h0M79.5 457.2h0M80.6 492.2h0M108.9 476.3h0M70.3 485h0M128 461.1h0M115.3 482.5h0M119.4 456.1h0M115 496.5h0M108.9 485h0M125.7 485.2h0M95 454.6h0M117.7 480.6h0M61.7 490h0M99 462.4h0M89.6 491.9h0M121.2 486.5h0M108.8 460.5h0M134.9 465.9h0M107.1 483.4h0M79.3 476.2h0M124.2 482.1h0M83.5 465.4h0M99.7 494h0M106.4 508.9h0M129.1 490.7h0M110.4 484.5h0M132.1 488.6h0M95.3 481.7h0M109.9 490.5h0M79.5 455.8h0M129 521h0M104.4 477.3h0M97.9 480.8h0M129.9 484.6h0M114.8 457.7h0M132.6 452.1h0M131.9 465.1h0M107.1 481.5h0M126.4 521.9h0M95.4 485.7h0M123.6 492.4h0M135 485.4h0M89.2 463.4h0M132.1 492.9h0M115.4 464.4h0M97.9 484.5h0M121 478.5h0M108.3 460.6h0M114.7 476.7h0M116.8 459.3h0M90.2 461.1h0M56.8 484.6h0M91.8 484.9h0M112.6 463.1h0M104.5 493.6h0M129.4 494.9h0M90.9 492.6h0M92.3 453.2h0M121.7 489.9h0M105.2 493h0M132.1 473.7h0M116 480.8h0M73.7 453.8h0M90.2 470h0M116.1 501.1h0M114.2 491.7h0M96.5 467.9h0M118.2 498.2h0M108.7 458.9h0M133.1 468.4h0M98.1 499.3h0M58.4 475.9h0M102.6 473.9h0M104.1 457.3h0M85.4 482.1h0M134.3 488.4h0M88.7 474.5h0M95.6 487.1h0M133.3 479h0M95.3 495.5h0M104.8 505.2h0M126.1 498.6h0M86.9 460.3h0M66 480.8h0M68.4 489.6h0M131.9 474.6h0M92.8 487.4h0M77.1 482.2h0M103.4 498.1h0M119.3 497.7h0M56.6 474.2h0M130 483.3h0M69.8 483h0M122.4 459.6h0M58 474.7h0M132.8 496.3h0M106.7 488.6h0M103.8 492.1h0M113.2 464.6h0M132.7 499.4h0M104.4 484.4h0M71.4 483.9h0M109.1 496.7h0M74.5 490.8h0M122.9 517.9h0M83.6 494.3h0M66.4 485.4h0M109.7 493.5h0M86.1 464.4h0M102.1 478.4h0M81.6 508.1h0M81.4 460.3h0M121.2 483.7h0M89.2 454.1h0M72.3 489.6h0M126.9 495.5h0M103.8 484h0M108.2 493h0M94.5 461.2h0M108 487.4h0M63.8 478.7h0M63 492.5h0M89.4 490.2h0M93.2 501.5h0M91.6 472h0M102.1 485.2h0M109.6 454.3h0M92.6 456.5h0M88.3 461h0M113 462.3h0M90.3 469.8h0M117.4 458.5h0M131.4 516.6h0"/>
<path d="M125.7 478.8h0M90.3 461.6h0M86.7 459.4h0M99.7 467.3h0M85.4 497h0M118.4 496.7h0M103.1 464.6h0M58.2 481.6h0M100.9 479h0M115 479.1h0M69.2 480.9h0M111.5 484.6h0M110.5 481h0M107.2 491.1h0M113.7 452.2h0M116.6 461.6h0M103.8 459.9h0M85.4 485.5h0M101.3 456.6h0M117.6 475.5h0M93 479.4h0M131.9 479.4h0M93.5 461.9h0M96.4 481.4h0M80.3 477.3h0M132.8 502.1h0M67.7 484.6h0M117.4 461.6h0M118.4 448.7h0M77.1 478.6h0M114.8 490.4h0M132.5 507.7h0M70.1 488.8h0M92 499.8h0M95.2 456.6h0M121.7 494.7h0M120.6 484.4h0M78 455.8h0M131.8 489.8h0M77.7 506.9h0M104.4 486.9h0M91 503.2h0M87.3 457.3h0M107.3 494.8h0M115.6 478h0M133.8 505h0M133.3 525.2h0M81.6 488.1h0M116.1 457.5h0M107.2 477.7h0M82.4 459.8h0M132.5 503.4h0M100.8 484.9h0M124.4 461.7h0M66.6 489.9h0M106.3 476.9h0M74 478.6h0M133.8 522h0M132.2 454.5h0M95 480.4h0M124.1 479.3h0M95.9 480.1h0M132.2 498h0M113.5 507.2h0M68 488.9h0M77 506h0M95.4 462.4h0M116.9 455.4h0M77.5 484.8h0M106.5 492.8h0M103.7 454.1h0M97.6 492.1h0M75 452.6h0M92.2 490.2h0M70.3 492h0M106.1 462.7h0M63.3 486.9h0M127.1 461.9h0M104.7 490.3h0M90.9 500.1h0M101.3 481.3h0M128.8 485.2h0M84.5 492.4h0M132.4 519.3h0M73.3 456.7h0M87.1 458.2h0M110.2 487.2h0M80.4 460.7h0M74 479.8h0M64.8 462.4h0M85.9 504.2h0M87.9 453h0M125.1 483.8h0M122.3 484.3h0M76.8 474.1h0M111.3 457.4h0M111.3 522.8h0M99 486.4h0M99.2 462.6h0M56.1 480.2h0M62.2 485h0M98.9 454h0M125.8 484.6h0M100.1 499.5h0M129.1 468.8h0M116.2 456.4h0M76.4 475.2h0M73.4 493.3h0M82.2 483.7h0M120.8 463.1h0M131.7 464.6h0M63.5 494.5h0M131.7 490.5h0M64.2 484.6h0M71.1 488.2h0M84.6 479.4h0M104.2 463.8h0M87.4 458.2h0M84.1 488.9h0M112.9 460.5h0M79.5 456.8h0M121.7 487h0M102.5 491.4h0M93.6 459.6h0M118.9 463h0M69.2 498.1h0M97.7 454.9h0M131.8 474.9h0M133.7 482.3h0M120.4 494.9h0M85.3 458.9h0M59.2 487.5h0M115.3 488h0M99.5 490.8h0M133.8 494.9h0M115.2 489.9h0M97.2 461.5h0M89.1 460.1h0M103.3 490.2h0M108.6 457.8h0M112.4 473.4h0M67.6 484.2h0M133.3 495.4h0M77.3 490.1h0M77.9 486.2h0M98.7 496.5h0M126.4 477.4h0M66.8 478h0M123.9 493.4h0M76.9 485.7h0M82.9 511.9h0M76.6 481.2h0M133.7 510h0M121.5 460.9h0M81.7 464h0M126 461.4h0M93.6 496h0M62.1 454.1h0M90.3 460h0M87.1 489.1h0M103.9 486h0M100.4 459.8h0M70.3 463.5h0M67.3 475.8h0M75.5 471.6h0M86.7 479.7h0M75.9 484.1h0M123.6 502.9h0M65.5 461.6h0M118.2 497.8h0M89.2 492.7h0M119.2 458.3h0M131.2 480.5h0M63.4 460.6h0M59.5 485.2h0M109.1 463.3h0M66.3 493.2h0M129.1 463.7h0M71 471.2h0M88.8 480.8h0M85.6 474.8h0M126.1 493.8h0M73.4 501.6h0M131.5 462.6h0M132 460.5h0M119.5 459.4h0M97.5 487.2h0M121.6 502.5h0M63.1 484h0M91.7 463.1h0M111.9 482h0M106.9 477.5h0M81.6 456.3h0M74.6 486.5h0M74.9 481.8h0M119.3 487.7h0M121.2 456.5h0M102.3 452.1h0M73.1 475h0M101.6 454.5h0M78.5 454.7h0M66.8 465.8h0M86.1 461.2h0M86.1 462.1h0M100.2 478h0M132.6 489.6h0M110.9 461.7h0M67.1 491.4h0M104.8 456.4h0M119.5 463.7h0M72.4 486.1h0M125.5 485.8h0M77 490.8h0M110.5 454.8h0M113.6 491.4h0M89.2 459.6h0M116.9 496.4h0M60.4 496.7h0M121.3 459.3h0M128.6 459.9h0M116.3 489.7h0M130.3 475.9h0M96.8 453.6h0M63.6 486.4h0M112.8 457.1h0M75.9 454.6h0M121 479.1h0M95.6 459h0M134.6 492.8h0M107 459.4h0M132.1 490.9h0M120.1 486.9h0M69.7 480.8h0M109.2 494.7h0M111.6 488.2h0M92.4 458.2h0M92.6 490.8h0M68 456.5h0M134.6 477h0M69 486.3h0M82.5 480.5h0M134.3 469h0M119.5 494.8h0M88.9 477.9h0M128.5 456.1h0M130.7 481.5h0M81.7 478.6h0M109.8 483.3h0M122.6 498.5h0M112.5 492.5h0M115.4 484h0M89.1 466.7h0M74.2 481.2h0M119.2 453.6h0M111.6 459.4h0M111.1 491.9h0M132.4 511.3h0M111.2 500.5h0M102.3 459.7h0M111.2 459.8h0M116.6 481.2h0M84.7 464.5h0M108.4 479.4h0M107.8 457.4h0M82.8 482.6h0M109.7 460h0M132.9 469.7h0M114.9 495.7h0M82.1 483.8h0M132 462.4h0M107.7 499.6h0M92.3 492.4h0M83.8 491.1h0M121.8 491.7h0M105.8 463.6h0M88.7 486.4h0M130.4 459.6h0M130.5 456.7h0M79.7 484.1h0M85.1 460.7h0M109.7 480.5h0M121.8 481h0M98.9 489.9h0M127.1 460.2h0M68.4 473.4h0M131.1 495.2h0M120.7 487h0M111.9 486.7h0M128 457.4h0M115.5 458.4h0M130.5 454.2h0M88.1 474.2h0M102 495.6h0M76 480.4h0M87.6 488.9h0M110.3 492.4h0M66.9 495.7h0M112 504.7h0M122.3 460h0M125.7 458.7h0M94.7 489.4h0M78.7 485.5h0M69.3 486.3h0M130.5 475.6h0M58.6 481.2h0M102.6 487.6h0M86.2 474.9h0M108 493.7h0M117.2 491.6h0M125.4 490.7h0M88.4 492.1h0M75.7 449.1h0M89.9 487.1h0M85.9 465.5h0M77.7 481.2h0M110.3 488.2h0M115.6 482.2h0M83.8 466h0M67.9 459.4h0M76.1 459.2h0M76.6 460.6h0M77.2 462.2h0M105.9 457.3h0M77.4 459h0M77.9 480.9h0M123.5 511.5h0M92.6 491.3h0M114.2 464h0M78.9 465.2h0M102.1 493.5h0M89.7 464.1h0M104.9 507.6h0M84.2 492.5h0M90.8 481.4h0M123.6 454.4h0M134.4 452.2h0M60.2 492.2h0M81.6 497.8h0M88.7 490.7h0M91.3 483h0M59.9 478.1h0M126.1 492h0M73 483.2h0M78.2 474.2h0M112.8 491.5h0M124.2 492.8h0M94.9 493.4h0M119.1 479.7h0M133.4 507.6h0M106.4 452.9h0M72.8 462.5h0M134.4 507h0M117.9 460.6h0M76.4 456h0M117 463.2h0M93.9 488.1h0M128.1 491.5h0M110.9 478.2h0M75.5 480h0M88.7 488h0M109.6 500.6h0M56.7 489h0M122.6 480.9h0M123.3 457.4h0M114 496.6h0M107.2 464.8h0M95.5 477.9h0M78.4 457h0M104.4 462.2h0M94 486h0M104.9 456.1h0M78.8 461.1h0M100.1 459.7h0M87.7 482.5h0M127.6 461.6h0M71.5 453h0M109.9 461.8h0M123.4 452.8h0M104.7 482.3h0M59 475.7h0M130.1 477.8h0M108 503.1h0M104 493.8h0M112.9 479.8h0M99.5 489h0M102.1 456.9h0M62.9 480.7h0M105.9 492.9h0M79 455.3h0M133.1 491.9h0M82.7 449.9h0M65.6 493.4h0M93.2 508.6h0M77 486h0M106.9 501.1h0M75.1 483.8h0M132.8 508.9h0M95.6 459.2h0M75 505.4h0M94.7 459.5h0M63.4 483.7h0M70.5 474.1h0M76.6 459.8h0M116.3 484.7h0M126.1 482.5h0M96.4 496.8h0M94.1 507.9h0M105 487.2h0M67 487.2h0M75.5 491h0M84.6 466.9h0M99.4 489h0M80 464.3h0M111.8 464.8h0M117.7 454.4h0M133.5 525h0M83.2 503h0M122 452.7h0M102.7 482.4h0M77.8 493.6h0M83.3 483.7h0M89.3 492.4h0M61.5 481.1h0M127.3 487.1h0M75.5 489.6h0M73.7 508.7h0M88 464.9h0M134.3 473.3h0M86 479.5h0M117.6 493.3h0M89 475.3h0M102.9 484.1h0M68.9 476.5h0M68.3 478.1h0M102 487.1h0M103.9 494.8h0M128.4 485.4h0M101 495.2h0M103.3 475.4h0M70 478.7h0M66 500.1h0M98.8 489.7h0M63.1 484.2h0M98.5 483.4h0M97.2 463.3h0M90.3 488.1h0M124.1 454.8h0M112.4 478.3h0M88.6 461.4h0M108.2 459.1h0M104.7 495.4h0M93.9 488.7h0M87.8 458.3h0M86.2 472.8h0M89.1 483.4h0M117.8 462h0M73.8 460.4h0M122.6 486.4h0M99.2 494.1h0M92.6 505.7h0M86.2 497h0M99.3 482.4h0M113 493.7h0M81.1 477h0M90.6 461.8h0M87.2 465.3h0M114.3 501.3h0M116.2 500.6h0M69.8 492h0M78.8 484.6h0M96.3 478h0M70 484.6h0M66.2 497.5h0M103.3 482.6h0M66.3 484.2h0M78.9 497.8h0M102.9 476.3h0M75.7 475.1h0M125.2 489.7h0M61.6 493.6h0M72 463.4h0M83.7 458.8h0M75.6 459.4h0M101.2 482.7h0M93.4 491.6h0M131.6 491.6h0M128.8 483.3h0M72.7 470.3h0M133.1 495.2h0M82.5 453.1h0M77.7 478.7h0M119 484.1h0M117.6 485.4h0M58.9 477.5h0M108.2 492h0M103 454.1h0M81.6 456.5h0M67.6 481.9h0M110.2 480.1h0M68.5 487.8h0M133.6 489.1h0M67.9 479h0M72 488.4h0M106.1 502.4h0M104 492.8h0M122.8 507.4h0M63.9 479.3h0M102.5 463.8h0M129.6 510.9h0M127.5 449.9h0M69.7 457.8h0M88.1 477.9h0M94.5 455.7h0M119 457.5h0M79 486.1h0M59.5 486.2h0M86.9 469.7h0M85.2 479.9h0M89.9 491.2h0M92.1 474.6h0M125.4 492h0M72 493.2h0M100.9 494.7h0M78.4 456.8h0M132.1 491.1h0M76.4 474h0M121.9 492.5h0M124.2 506.5h0M113.3 485.9h0M120.5 487.7h0M123.3 459.8h0M93 470.9h0M119.4 513h0M95.1 502.3h0M69.3 505.5h0M83.8 456.9h0M122.1 455.2h0M111.3 471.9h0M70.9 490.4h0M98.6 454h0M63.5 484.8h0M68.1 490.7h0M125.7 476.9h0M96.2 484.5h0M74.4 456.6h0M61.8 495.1h0M134.9 457.8h0M117.2 491.5h0M112 485.5h0M104.1 505.8h0M108.4 480.3h0M109.2 459.9h0M130.2 484.4h0M119.9 493.6h0M90.7 496.5h0M73.1 502.7h0M132.2 509.7h0M82 459.6h0M72.8 459.7h0M78.6 497.6h0M134.2 462h0M94.8 485.3h0M112.2 483.1h0M84.3 456.1h0M79.8 490.6h0M91.2 476.2h0M126.5 488.7h0M85 491.8h0M90 457.5h0M102.6 474.4h0M82.8 489.8h0M100.2 496h0M111 458.6h0M133.1 512.1h0M126.8 488.1h0M88.9 488.7h0M61.7 474.1h0M101.4 487.4h0M134.8 490.8h0M99.6 474.5h0M71.9 473.9h0M130.4 484.5h0M82.3 487.2h0M99 486.6h0M74.3 452.2h0M120 519.4h0M87.6 463.6h0M83.6 456.1h0M120.9 458.4h0M77.5 487.7h0M121.1 488h0M116.4 479.9h0M69 487.1h0M132.1 490.8h0M99.4 490.9h0M89.2 481.8h0M114.9 455.2h0M99.9 463h0M110.6 488.9h0M66.2 484.7h0M96.7 466.2h0"/>
<path d="M118.8 463.8h0M96.8 459.8h0M118.4 501.1h0M114.5 491.7h0M110.8 457h0M131.4 487.5h0M119.1 485.4h0M112.1 485h0M80 496.5h0M116.1 462.6h0M108.3 489.5h0M87.8 498.6h0M91.5 479h0M94.4 490.5h0M69.2 494.3h0M109.8 475.9h0M123.8 492.2h0M69 487.4h0M98.2 484.6h0M87.3 459.7h0M86.6 502.2h0M68.6 481.7h0M88.8 494.8h0M123.7 464h0M85.5 485.1h0M134 509.6h0M74.1 484.8h0M80.4 484.3h0M126.4 476.2h0M124.9 495.3h0M85.8 483.2h0M112.9 477.5h0M74.7 492h0M133.5 517.4h0M82.9 501.3h0M121.1 462.3h0M71.1 478.6h0M100.6 481h0M99.5 487.2h0M115.5 464.3h0M134.1 483.4h0M131.5 491.9h0M82.8 478.8h0M73.9 485.8h0M97.7 487.5h0M63.6 464.2h0M131.9 465.7h0M126.4 504.7h0M67.9 491.6h0M72.8 450.4h0M103.8 455.7h0M128.2 495h0M99 459h0M86.8 491.1h0M122.2 466.5h0M85.2 470.8h0M82.6 473.7h0M131.9 502.5h0M79.2 459.4h0M99.5 483h0M79.3 456.9h0M97.4 459.3h0M74.4 461.7h0M132.1 469.8h0M130.7 491.7h0M114.3 455.4h0M71.2 477.1h0M85.8 486.8h0M132.1 521h0M134.3 489.9h0M92.8 481.6h0M70.8 493.1h0M75.6 488h0M117.1 466.8h0M134.5 498.3h0M107.8 484h0M96.1 489.1h0M123.2 462.5h0M107.6 455.3h0M123.4 485.3h0M87.4 488.2h0M132.5 504.9h0M87.7 483.1h0M125.6 506.8h0M84.2 490.8h0M118.4 510.2h0M57.8 502.8h0M71.7 481.1h0M83.9 461h0M96.8 461.6h0M103.7 463.2h0M127.6 486.9h0M134.2 502.1h0M117.3 463.2h0M116.6 492.2h0M93.1 481.4h0M124.9 450h0M92.7 465.7h0M120.4 491.7h0M133.9 487.2h0M88.2 499h0M123.5 491.8h0M125 492.1h0M117.1 481.9h0M91.1 455.6h0M134.3 499.9h0M87.9 452.6h0M111 457.2h0M86.6 476.1h0M59.5 504.7h0M132 475.8h0M99.1 482.5h0M88.9 470.3h0M74.3 469.7h0M114.3 491.1h0M65 455.5h0M119.2 493.4h0M132 502.8h0M56.7 485.7h0M115.2 479.7h0M113.7 488.9h0M125.7 506.8h0M83.8 455.3h0M89 487.2h0M94.8 479.7h0M84 457h0M90.3 449.1h0M67.7 481.5h0M77.7 496.1h0M106 464.4h0M134.3 515.7h0M116 477.8h0M113.9 485.9h0M91.9 487.2h0M130.5 485.8h0M76.8 481h0M84.6 483h0M112.3 476.4h0M102.2 487.8h0M117.3 452.9h0M88.6 457.2h0M61 480.3h0M87.1 477h0M115.8 487.5h0M116 496.6h0M73.4 483.2h0M80.6 498.3h0M107.3 460.1h0M91.3 455.6h0M133.5 522.2h0M103.8 484.7h0M70.9 486.2h0M87.3 475.8h0M101 482.5h0M111.9 477.9h0M86.8 452.5h0M132.4 460.6h0M103.8 491.1h0M105.2 478.9h0M128.5 480.5h0M72.5 458.4h0M91.1 487.9h0M68.4 459.4h0M120.9 456.1h0M72.1 483.1h0M98.8 482.1h0M128.1 461.6h0M83.7 457.8h0M91.6 492.8h0M100.8 471.3h0M122.1 488.6h0M70.3 481.6h0M134 475.5h0M70.4 496.7h0M76.8 491.1h0M119.9 495.1h0M88.4 485.1h0M64.5 490.5h0M81.9 456.7h0M126.3 500.6h0M103.1 486h0M132.5 479.9h0M84 457.1h0M125.1 494.4h0M78.7 491.6h0M88.2 484.7h0M100.1 455.9h0M86.1 458.5h0M116.7 497.1h0M128.2 502.6h0M77.8 500.6h0M110.5 477.8h0M84.7 493.4h0M108.3 486.4h0M131.5 494.9h0M88.6 484.3h0M103.4 505.6h0M98 455.1h0M113.3 481.8h0M98.1 502.8h0M101 490h0M122.5 486h0M71.2 459.7h0M91.3 479.7h0M106.7 490h0M110.2 453.2h0M118.8 479.7h0M133 488.9h0M86.5 488.3h0M133.9 471.1h0M79.7 485.6h0M69.8 493.8h0M63.8 474h0M121.7 494.8h0M85 488.6h0M92.3 452.6h0M117.8 459.1h0M83.5 482.5h0M62.1 483.8h0M122.6 490.8h0M106.2 458.4h0M128.6 488.2h0M77.3 452.4h0M101.7 489.8h0M106.6 485.5h0M129.5 484h0M88.8 495.2h0M102.7 499.2h0M108.2 454.7h0M110.9 477.2h0M98.9 462.9h0M100.1 503.7h0M99.7 490.6h0M79 482.7h0M120.6 459.4h0M62 483.6h0M87.2 486.7h0M73.6 456.9h0M110.2 490.5h0M115.8 489h0M121.6 479.9h0M132.8 481.9h0M61.1 464.7h0M122.6 458.7h0M119 470.7h0M88.2 488.4h0M132.4 509h0M129.5 466.2h0M127.4 477.7h0M131.7 472.1h0M79.4 462.2h0M114 457.3h0M113.2 459.6h0M79.4 488.6h0M77.5 479.5h0M71.4 462.3h0M67.9 478.2h0M66.4 484.4h0M111.9 460.9h0M84.6 460h0M75.4 450.1h0M97.4 481.8h0M99.7 478.8h0M69.7 457.7h0M64.7 481.3h0M128.5 493.2h0M73.1 488.3h0M103.8 461.9h0M91 475.2h0M85 482.3h0M96 511.1h0M60.9 491h0M129.2 483.1h0M134.7 479.8h0M121.4 486.2h0M67 482.7h0M115.5 485.3h0M120.9 475.7h0M128.4 519.1h0M65.9 491.4h0M85.3 469.7h0M80.7 462.9h0M81.5 481.4h0M76.7 480.7h0M69.2 476.9h0M79.1 456.7h0M65.1 483.8h0M81.3 480.9h0M81.8 478.5h0M86.9 488.4h0M106.4 483.6h0M126.8 481.9h0M110 455.4h0M100.2 461.1h0M64 462.6h0M68.4 481h0M132.5 502.9h0M92.1 455.5h0M121.6 491.2h0M124.7 484.4h0M124.2 458.5h0M114.9 462.7h0M98.1 454h0M126.2 492.2h0M121.7 458.8h0M96.9 488.3h0M76.2 488.4h0M78.9 484.7h0M64.8 464.8h0M97.6 466.8h0M131.4 481.8h0M87.6 461.3h0M75.3 456.8h0M90.4 461.4h0M102.7 454.7h0M66.6 488.7h0M99.1 501.5h0M76.9 509.2h0M123.4 461.9h0M71 456.2h0M67.9 487.9h0M88.5 482.4h0M78.6 505.1h0M111.9 501.2h0M100.1 478.7h0M127.4 461.8h0M123.4 456.6h0M75 458.4h0M124 462.3h0M68.5 473.8h0M111 463.4h0M86.1 464h0M107.1 455.9h0M105.8 493.7h0M94.7 470.1h0M89.6 458.8h0M118.8 522.3h0M131.5 457.3h0M85.4 494.3h0M87.6 482.8h0M96.3 483h0M113.1 451.3h0M113.3 457.7h0M112.8 464.9h0M110.6 460.6h0M77.6 457.7h0M110.5 485.6h0M82.8 457.9h0M60.1 479h0M128.9 460.5h0M132.2 485.2h0M103.6 459h0M58.3 480.8h0M118.8 459.7h0M126.9 493.5h0M93.1 463.8h0M121.3 453.9h0M106.5 487.2h0M114.8 493.8h0M64.1 480.1h0M67.9 458.5h0M86.3 505.5h0M106.7 479.8h0M133.7 462.5h0M78.6 492.4h0M73.7 494.6h0M75.3 486.5h0M104.4 457h0M85.3 461.5h0M91.4 478.9h0M113 453h0M73.3 491.8h0M121.5 459.6h0M101.2 464.8h0M125.8 515.9h0M81 491.9h0M134.3 491.4h0M78.5 497.7h0M83.3 481.1h0M116.3 499.9h0M112.7 454.2h0M84.3 459h0M105.5 483.3h0M94.1 455.5h0M58.2 492.7h0M80.6 495.5h0M76.4 462.8h0M118.7 492.4h0M70.6 494.1h0M95.5 478.5h0M123.5 460.3h0M83.4 457.6h0M111.3 511.7h0M107.9 455.6h0M78.8 489.3h0M108.7 458.3h0M94 452.8h0M106.1 472.2h0M124 467.9h0M94.5 459.4h0M78.5 479.5h0M118.2 491.8h0M123.4 452.4h0M131.1 461.2h0M78.2 458.2h0M104.9 492.1h0M128.7 491.2h0M108.7 461.1h0M77.6 479.1h0M78.7 460.1h0M108 462.4h0M91.3 486.4h0M134.8 516.4h0M111.4 456.4h0M109.5 504.4h0M63.9 460.1h0M82.9 469.4h0M70.9 457h0M123.6 479.5h0M83.8 459h0M109.3 473.2h0M77.5 458.2h0M126.5 497.2h0M85.8 490.2h0M103.6 492.9h0M78.4 467.1h0M81.3 485h0M103.8 477.8h0M79.7 457.9h0M128.2 486.5h0M104.7 459.9h0M130.6 454.2h0M58.4 500.6h0M83.3 484.5h0M105.6 484.3h0M108.4 459.2h0M88.8 473.4h0M97.1 490h0M69.6 486.8h0M98 461.4h0M84 486.8h0M127.4 460.2h0M71.4 458.9h0M59.9 485.4h0M126.1 504.2h0M127.8 488h0M134.3 451.8h0M84.2 456.7h0M108.1 508.1h0M59.1 484.9h0M60.8 470.3h0M120.3 490h0M96.8 477.7h0M99.2 466.3h0M119.5 463.9h0M120.5 484.8h0M96.4 489.4h0M63.9 462.8h0M72.3 493.5h0M94.5 459.9h0M132.2 494.7h0M96.5 456.5h0M93.3 479.3h0M132.4 490.2h0M103.8 480.5h0M89.9 500.3h0M128.3 492.5h0M85.6 458.2h0M103.3 476.9h0M132.7 482.4h0M90.4 462.1h0M108.2 458.3h0M73.9 454.6h0M83.3 488h0M86.3 483.6h0M64.8 482.2h0M101.5 489.9h0M101.1 496.3h0M64.1 482.8h0M101.3 495.1h0M122.5 482.6h0M110.7 475.7h0M115.6 474.9h0M90.1 459.9h0M56 481.7h0M134 490.4h0M123 460.9h0M96.2 485.2h0M73.3 455.9h0M132.4 502.4h0M90.3 464.4h0M125 461.2h0M118.6 481.5h0M121.5 509.5h0M132.9 460.8h0M82.5 481.7h0M96.3 489.7h0M88.8 490.1h0M117.1 481.9h0M71.1 483.8h0M129.3 481.8h0M112.6 488.7h0M85.7 473.4h0M119.1 473.3h0M95.2 498.1h0M88.1 477.9h0M95 475.8h0M119.2 458.8h0M128.5 486.5h0M98.5 465.6h0M72.2 489.8h0M126.8 508h0M95.6 452h0M84.7 482.1h0M91.5 469.8h0M102.9 496.5h0M112.2 458.9h0M104.6 488h0M85.8 476.5h0M73.1 460h0M70.9 483.9h0M108.7 466.9h0M114.7 473.8h0M65.8 490h0M80.1 463.1h0M132.6 498.8h0M108.6 503.3h0M94.4 488.5h0M127.5 483.8h0M82.4 478.3h0M103 456.5h0M66 479.8h0M105 476.2h0M134.4 506.1h0M101.4 487.3h0M84.5 482.5h0M133.1 480.6h0M61.2 477.7h0M130.4 483.7h0M128.5 487.9h0M67.1 454.7h0M110.3 459.2h0M97.4 490.9h0M80.4 458.5h0M133.6 487.3h0M64.2 472.4h0M75.7 483h0M63.8 479.9h0M95.6 476.1h0M69.9 483.5h0M92 483.6h0M89.5 492.6h0M113.7 495.8h0M132.9 516.4h0M84.1 456.7h0M60.9 481.6h0M101.6 466h0M87.2 453.7h0M110.7 495.4h0M93.1 479.8h0M72 495h0M81.9 487.6h0M81.8 490.2h0M114.8 485.1h0M119.7 475.9h0M133.9 475.9h0M70.2 452.5h0M90.3 465.2h0M92.2 479.6h0M102.2 460.4h0M129.8 486.8h0M57.5 488.4h0M92.7 462.3h0M100.9 458.6h0M78.4 491.3h0M97 451.8h0M83.3 459.2h0M84.6 491.5h0M69.7 463.4h0M133 483.3h0M88.5 455.2h0M78.6 455.9h0M73.6 483.4h0M127.4 523.3h0M133.3 488.2h0M99.7 489.5h0M107.2 460.8h0M84.4 456.4h0M104.1 506.3h0M126.9 474.7h0M104.2 496.1h0M104.9 495.5h0M96.7 481.5h0M84.2 478.1h0M92.4 477h0M124.6 488.5h0M94.2 496.8h0M84.5 482.3h0M78.4 490.2h0M102.4 453.4h0M129 472.8h0"/>
</g>
<defs><linearGradient id="lg1" gradientUnits="userSpaceOnUse" x1="56" y1="0" x2="98" y2="0"><stop offset="0" stop-color="#0b3fd6" stop-opacity=".75"/><stop offset=".45" stop-color="#0b3fd6" stop-opacity=".5"/><stop offset="1" stop-color="#0b3fd6" stop-opacity="0"/></linearGradient><linearGradient id="lg2" gradientUnits="userSpaceOnUse" x1="62" y1="0" x2="100" y2="0"><stop offset="0" stop-color="#0b3fd6" stop-opacity=".3"/><stop offset="1" stop-color="#0b3fd6" stop-opacity="0"/></linearGradient></defs>
<path d="M127.1 458.9L126.8 459.9L125.9 460.9L124.5 461.9L122.5 462.9L120 463.8L117.1 464.6L113.7 465.3L110.1 465.9L106.2 466.4L102.1 466.7L98 466.9L93 466.9L88 466.7L83.3 466.4L78.9 465.8L74.8 465.1L71.2 464.3L68.2 463.2L65.8 462.1L64 460.9L63 459.6L62.6 458.2L63 456.9L64 455.7L65.8 454.5L68.2 453.4L71.2 452.4L74.8 451.6L78.9 451L83.3 450.5L88 450.3L93 450.2L98 450.3L102.1 450.6L106.2 451L110.1 451.5L113.7 452.2L117.1 453L120 453.9L122.5 454.8L124.5 455.8L125.9 456.8L126.8 457.8Z" fill="url(#lg2)"/>
<path d="M132.3 484.6L131.8 486.4L130.2 488.1L127.6 489.7L124.1 491.3L119.6 492.8L114.4 494.2L108.5 495.3L102 496.4L95.1 497.2L87.9 497.7L80.5 498L77.1 498.1L73.8 497.8L70.6 497.3L67.6 496.4L64.9 495.2L62.5 493.8L60.5 492.1L58.9 490.2L57.7 488.1L56.9 485.9L56.7 483.7L56.9 481.5L57.7 479.3L58.9 477.3L60.5 475.4L62.5 473.8L64.9 472.4L67.6 471.3L70.6 470.5L73.8 470L77.1 469.9L80.5 470L87.9 470.5L95.1 471.2L102 472.2L108.5 473.3L114.4 474.7L119.6 476.1L124.1 477.7L127.6 479.4L130.2 481.1L131.8 482.9Z" fill="url(#lg1)"/>
<path d="M127.1 458.9L126.8 459.9L125.9 460.9L124.5 461.9L122.5 462.9L120 463.8L117.1 464.6L113.7 465.3L110.1 465.9L106.2 466.4L102.1 466.7L98 466.9L93 466.9L88 466.7L83.3 466.4L78.9 465.8L74.8 465.1L71.2 464.3L68.2 463.2L65.8 462.1L64 460.9L63 459.6L62.6 458.2L63 456.9L64 455.7L65.8 454.5L68.2 453.4L71.2 452.4L74.8 451.6L78.9 451L83.3 450.5L88 450.3L93 450.2L98 450.3L102.1 450.6L106.2 451L110.1 451.5L113.7 452.2L117.1 453L120 453.9L122.5 454.8L124.5 455.8L125.9 456.8L126.8 457.8ZM123 458.9L122.7 459.6L122 460.4L120.7 461.2L119 461.9L116.9 462.5L114.4 463.2L111.5 463.7L108.4 464.1L105 464.5L101.6 464.8L98 464.9L93.7 464.9L89.4 464.8L85.3 464.5L81.5 464.1L78 463.5L74.9 462.9L72.3 462.1L70.3 461.2L68.7 460.3L67.8 459.3L67.5 458.3L67.8 457.3L68.7 456.3L70.3 455.4L72.3 454.6L74.9 453.9L78 453.3L81.5 452.8L85.3 452.5L89.4 452.3L93.7 452.2L98 452.3L101.6 452.5L105 452.8L108.4 453.3L111.5 453.8L114.4 454.4L116.9 455L119 455.7L120.7 456.5L122 457.3L122.7 458.1ZM118 458.8L117.8 459.4L117.2 459.9L116.2 460.5L114.8 461L113.1 461.5L111.1 461.9L108.8 462.3L106.3 462.7L103.6 462.9L100.8 463.1L98 463.2L94.6 463.2L91.2 463.1L88 462.9L85 462.6L82.3 462.2L79.9 461.7L77.8 461.1L76.2 460.5L75 459.8L74.2 459.1L74 458.4L74.2 457.6L75 456.9L76.2 456.3L77.8 455.7L79.9 455.1L82.3 454.7L85 454.3L88 454.1L91.2 454L94.6 453.9L98 454L100.8 454.2L103.6 454.4L106.3 454.7L108.8 455.1L111.1 455.5L113.1 456L114.8 456.5L116.2 457.1L117.2 457.6L117.8 458.2ZM111 458.7L110.9 459.1L110.5 459.4L109.8 459.8L108.9 460.1L107.8 460.4L106.5 460.7L105 461L103.4 461.2L101.7 461.3L99.9 461.4L98 461.5L96 461.5L94.1 461.4L92.2 461.3L90.4 461.1L88.8 460.9L87.4 460.6L86.2 460.2L85.3 459.8L84.6 459.4L84.1 458.9L84 458.5L84.1 458L84.6 457.6L85.3 457.1L86.2 456.8L87.4 456.4L88.8 456.1L90.4 455.9L92.2 455.8L94.1 455.7L96 455.7L98 455.7L99.9 455.8L101.7 455.9L103.4 456.1L105 456.4L106.5 456.7L107.8 457L108.9 457.3L109.8 457.6L110.5 458L110.9 458.4ZM105 458.7L104.9 458.8L104.7 459L104.4 459.2L103.9 459.3L103.3 459.5L102.6 459.6L101.8 459.7L100.9 459.8L100 459.9L99 460L98 460L97.3 460L96.6 460L95.9 459.9L95.3 459.8L94.7 459.7L94.2 459.6L93.8 459.4L93.5 459.2L93.2 459L93.1 458.8L93 458.6L93.1 458.3L93.2 458.1L93.5 457.9L93.8 457.7L94.2 457.6L94.7 457.4L95.3 457.3L95.9 457.2L96.6 457.2L97.3 457.2L98 457.2L99 457.2L100 457.3L100.9 457.4L101.8 457.5L102.6 457.7L103.3 457.8L103.9 458L104.4 458.1L104.7 458.3L104.9 458.5ZM132.3 484.6L131.8 486.4L130.2 488.1L127.6 489.7L124.1 491.3L119.6 492.8L114.4 494.2L108.5 495.3L102 496.4L95.1 497.2L87.9 497.7L80.5 498L77.1 498.1L73.8 497.8L70.6 497.3L67.6 496.4L64.9 495.2L62.5 493.8L60.5 492.1L58.9 490.2L57.7 488.1L56.9 485.9L56.7 483.7L56.9 481.5L57.7 479.3L58.9 477.3L60.5 475.4L62.5 473.8L64.9 472.4L67.6 471.3L70.6 470.5L73.8 470L77.1 469.9L80.5 470L87.9 470.5L95.1 471.2L102 472.2L108.5 473.3L114.4 474.7L119.6 476.1L124.1 477.7L127.6 479.4L130.2 481.1L131.8 482.9ZM127.7 484.5L127.3 486L125.8 487.5L123.5 489L120.2 490.3L116.2 491.6L111.4 492.8L106 493.9L100.1 494.8L93.8 495.5L87.2 495.9L80.5 496.2L77.5 496.2L74.6 496L71.7 495.5L69.1 494.8L66.7 493.8L64.5 492.5L62.7 491L61.3 489.3L60.2 487.5L59.6 485.6L59.4 483.6L59.6 481.7L60.2 479.8L61.3 478L62.7 476.3L64.5 474.9L66.7 473.7L69.1 472.7L71.7 472L74.6 471.6L77.5 471.5L80.5 471.6L87.2 472L93.8 472.6L100.1 473.5L106 474.5L111.4 475.7L116.2 477L120.2 478.4L123.5 479.8L125.8 481.4L127.3 482.9ZM122.2 484.3L121.7 485.6L120.5 486.9L118.4 488.2L115.6 489.4L112 490.5L107.8 491.5L103 492.4L97.8 493.2L92.2 493.8L86.4 494.2L80.5 494.4L77.9 494.4L75.3 494.3L72.8 493.8L70.5 493.2L68.4 492.3L66.6 491.2L65 489.9L63.7 488.5L62.8 486.9L62.3 485.2L62.1 483.6L62.3 481.9L62.8 480.2L63.7 478.7L65 477.3L66.6 476L68.4 475L70.5 474.1L72.8 473.5L75.3 473.2L77.9 473L80.5 473.1L86.4 473.5L92.2 474.1L97.8 474.8L103 475.7L107.8 476.7L112 477.8L115.6 479L118.4 480.3L120.5 481.6L121.7 482.9ZM116.1 484.1L115.8 485.2L114.7 486.3L112.9 487.4L110.5 488.4L107.4 489.3L103.8 490.2L99.8 490.9L95.3 491.6L90.5 492.1L85.6 492.4L80.5 492.6L78.3 492.6L76.1 492.5L74 492.1L72 491.6L70.2 490.8L68.6 489.9L67.3 488.8L66.2 487.6L65.4 486.3L64.9 484.9L64.8 483.5L64.9 482L65.4 480.7L66.2 479.4L67.3 478.2L68.6 477.1L70.2 476.2L72 475.5L74 475L76.1 474.7L78.3 474.6L80.5 474.7L85.6 475L90.5 475.5L95.3 476.1L99.8 476.9L103.8 477.7L107.4 478.7L110.5 479.7L112.9 480.7L114.7 481.8L115.8 483ZM109.8 483.9L109.5 484.8L108.6 485.7L107.2 486.5L105.2 487.4L102.7 488.1L99.7 488.8L96.3 489.4L92.7 490L88.8 490.4L84.7 490.7L80.5 490.8L78.6 490.8L76.8 490.7L75.1 490.4L73.4 490L71.9 489.4L70.6 488.6L69.5 487.7L68.6 486.7L68 485.7L67.6 484.5L67.4 483.4L67.6 482.2L68 481.1L68.6 480.1L69.5 479.1L70.6 478.2L71.9 477.5L73.4 477L75.1 476.5L76.8 476.3L78.6 476.2L80.5 476.3L84.7 476.5L88.8 476.9L92.7 477.4L96.3 478L99.7 478.7L102.7 479.5L105.2 480.3L107.2 481.2L108.6 482.1L109.5 483ZM103.2 483.7L103 484.4L102.3 485.1L101.2 485.7L99.6 486.4L97.7 487L95.4 487.5L92.8 488L89.9 488.4L86.9 488.7L83.7 488.9L80.5 489L79 489L77.6 488.9L76.2 488.7L74.9 488.4L73.7 487.9L72.7 487.3L71.8 486.6L71.1 485.9L70.5 485.1L70.2 484.2L70.1 483.3L70.2 482.4L70.5 481.6L71.1 480.7L71.8 480L72.7 479.4L73.7 478.8L74.9 478.4L76.2 478.1L77.6 477.9L79 477.8L80.5 477.9L83.7 478L86.9 478.3L89.9 478.7L92.8 479.2L95.4 479.7L97.7 480.3L99.6 480.9L101.2 481.6L102.3 482.3L103 483ZM96.5 483.5L96.3 484L95.8 484.5L95 484.9L93.9 485.4L92.6 485.8L90.9 486.1L89.1 486.5L87.1 486.8L85 487L82.8 487.1L80.5 487.2L79.4 487.2L78.3 487.1L77.3 487L76.3 486.7L75.5 486.4L74.7 486L74 485.5L73.5 485L73.1 484.4L72.9 483.8L72.8 483.2L72.9 482.6L73.1 482L73.5 481.4L74 480.9L74.7 480.5L75.5 480.1L76.3 479.8L77.3 479.6L78.3 479.4L79.4 479.4L80.5 479.4L82.8 479.6L85 479.8L87.1 480L89.1 480.4L90.9 480.7L92.6 481.1L93.9 481.6L95 482.1L95.8 482.5L96.3 483ZM89.5 483.3L89.4 483.6L89.1 483.9L88.7 484.1L88.1 484.4L87.3 484.6L86.4 484.8L85.4 485L84.2 485.1L83 485.3L81.8 485.4L80.5 485.4L79.8 485.4L79.1 485.4L78.4 485.3L77.8 485.1L77.2 485L76.7 484.7L76.3 484.5L76 484.2L75.7 483.8L75.6 483.5L75.5 483.1L75.6 482.8L75.7 482.5L76 482.1L76.3 481.8L76.7 481.6L77.2 481.4L77.8 481.2L78.4 481.1L79.1 481L79.8 481L80.5 481L81.8 481.1L83 481.2L84.2 481.3L85.4 481.5L86.4 481.7L87.3 482L88.1 482.2L88.7 482.5L89.1 482.8L89.4 483ZM116 484.5L115.9 484.8L115.7 485L115.3 485.3L114.7 485.6L114 485.8L113.2 486L112.3 486.2L111.3 486.4L110.3 486.5L109.1 486.6L108 486.7L107 486.7L106 486.7L105.1 486.6L104.2 486.5L103.4 486.3L102.7 486.1L102.1 485.8L101.6 485.5L101.3 485.2L101.1 484.9L101 484.5L101.1 484.1L101.3 483.8L101.6 483.5L102.1 483.2L102.7 482.9L103.4 482.7L104.2 482.5L105.1 482.4L106 482.3L107 482.3L108 482.3L109.1 482.4L110.3 482.5L111.3 482.6L112.3 482.8L113.2 483L114 483.2L114.7 483.4L115.3 483.7L115.7 484L115.9 484.2Z" fill="none" stroke="#1458ee" stroke-width="1.05" stroke-linejoin="round"/>
<path d="M48.9 444.3V528.8H134.6" stroke="#000" stroke-width=".95" fill="none"/>
<path d="M52.4 528.8v1.8M74.8 528.8v1.8M97.3 528.8v1.8M119.8 528.8v1.8M48.9 445.3h-2M48.9 468.1h-2M48.9 490.9h-2M48.9 513.6h-2" stroke="#000" stroke-width=".8" fill="none"/>
<text x="52.4" y="536.7" font-size="6.2" text-anchor="middle">0</text>
<text x="74.8" y="536.7" font-size="6.2" text-anchor="middle">3</text>
<text x="97.3" y="536.7" font-size="6.2" text-anchor="middle">6</text>
<text x="119.8" y="536.7" font-size="6.2" text-anchor="middle">9</text>
<text x="44.6" y="447.3" font-size="5.8" text-anchor="end">4</text>
<text x="44.6" y="470.1" font-size="5.8" text-anchor="end">2</text>
<text x="44.6" y="492.9" font-size="5.8" text-anchor="end">0</text>
<text x="44.6" y="515.6" font-size="5.8" text-anchor="end">-2</text>
<text x="36.6" y="482.2" font-size="8.9" text-anchor="middle" transform="rotate(-90 36.6 482.2)" textLength="101.6" lengthAdjust="spacingAndGlyphs">TAP transport efficiency</text>
<text x="93.2" y="543.8" font-size="7.6" text-anchor="middle" textLength="54.5" lengthAdjust="spacingAndGlyphs">Binding Affinity</text>
<text x="53" y="526" font-size="5.4" textLength="54" lengthAdjust="spacingAndGlyphs"><tspan font-style="italic">R</tspan> = 0.02, <tspan font-style="italic">p</tspan> = 0.055</text>
<clipPath id="c2"><rect x="165" y="444" width="86" height="84"/></clipPath>
<g clip-path="url(#c2)"><g filter="url(#bl)" fill="#000"><rect x="171" y="450" width="77" height="14" fill-opacity=".6"/><rect x="176" y="450" width="73" height="32" fill-opacity=".16"/><rect x="246.5" y="450" width="4" height="55" fill-opacity=".4"/></g></g>
<g clip-path="url(#c2)" fill="none" stroke="#000" stroke-width="1.55" stroke-linecap="round" stroke-opacity="0.46">
<path d="M224.5 472.8h0M192.3 452.8h0M198.1 448.1h0M230 458h0M178.6 455.7h0M222.9 455.2h0M222.5 492.7h0M205.5 456.6h0M220.2 516.1h0M223.2 485.9h0M239.4 499.7h0M218.7 455.4h0M224 452.1h0M188.1 449.4h0M191.7 453.6h0M195.2 452.2h0M203.1 450.5h0M171.9 471.7h0M242.9 498h0M205.2 495.3h0M226 476.1h0M249.1 472.9h0M221.7 458.9h0M175.6 450.3h0M186.5 449.3h0M246.1 447.9h0M249.1 451.2h0M191.8 502.6h0M200.6 448.8h0M171.7 449.9h0M177.9 448h0M244.1 481.7h0M220.4 463.9h0M216.5 456.3h0M218.6 453.6h0M217.8 466.9h0M248.5 512.6h0M213.3 448.2h0M187.7 461.5h0M233.5 448.1h0M193.6 467.8h0M237.4 472.9h0M223.7 482.3h0M198.8 490.6h0M212.5 469h0M236.3 460h0M185.6 449.8h0M235.2 448.3h0M170.5 450.9h0M243.9 448.8h0M246.1 465.7h0M183.9 464.6h0M186.5 451.7h0M176.6 470.8h0M226.4 516.3h0M248.9 500.7h0M221 460.2h0M210.4 449.6h0M195.5 480.2h0M239.5 448h0M227.1 451.3h0M182.5 447.8h0M230.6 452.8h0M212.4 449h0M229.6 461.3h0M229.5 454.7h0M170.4 447.8h0M233.6 456h0M212.8 476.4h0M199.6 453.1h0M244.1 456.9h0M207.8 477h0M211.1 448.7h0M238.1 447.7h0M217.9 489.1h0M209.8 450.3h0M233.8 484.7h0M247.5 447.4h0M179.9 490.2h0M179.5 453.4h0M172.3 459.6h0M180.5 453.2h0M199.6 450.4h0M205.3 449.4h0M200.1 465.3h0M220.2 511.9h0M234.7 463.7h0M197.9 458.5h0M187.3 455.9h0M174.5 450.1h0M172.6 467.1h0M177.4 447.7h0M206.2 449.7h0M234 449.4h0M207 492.6h0M174.1 449.4h0M223.5 451.8h0M208.3 489.8h0M186.4 449.7h0M191.1 470.2h0M208.5 449.4h0M224.3 464.9h0M174.3 461h0M205.8 478.3h0M234.7 449.5h0M237.2 514.3h0M172.6 457.1h0M201 469.2h0M185.9 484.8h0M239.1 453.6h0M250 455.3h0M192.7 452.5h0M221.8 447.9h0M200.1 449h0M209.9 473.8h0M179.7 448.6h0M245.8 466.9h0M213 447.7h0M216.8 464h0M198.8 509.7h0M191.4 469.3h0M189.8 471.7h0M203.1 503.5h0M170.1 486.4h0M189.1 484.8h0M214.8 505.7h0M228.8 482.8h0M207.5 457h0M246.2 448.4h0M226.3 463.7h0M199.8 489.5h0M179.9 448.7h0M187.8 447.7h0M227.9 480.7h0M238.4 451.4h0M182.4 455.3h0M231.1 447.9h0M249.6 487.4h0M215.7 469.1h0M243.2 457.2h0M223 449.2h0M210.6 449.2h0M238.8 512.8h0M216.2 458.4h0M170.8 461.7h0M242.4 454.7h0M232.7 460.8h0M189.5 464.4h0M226.5 456.2h0M177.7 460.8h0M242.6 450.1h0M249.2 493.3h0M210.4 457.5h0M225 448.3h0M244.4 460.7h0M236.5 456.1h0M226.7 453h0M195.8 458.9h0M246.7 460h0M246.4 468.9h0M170.1 467.9h0M234.4 519.4h0M201.7 463.6h0M189.4 489.8h0M225.5 460h0M222.1 517.1h0M198.7 502.1h0M209.8 461.7h0M203.7 461.5h0M173.8 448.9h0M180.1 464.3h0M208.6 471.4h0M191.4 448.8h0M182.1 449.3h0M204.8 451.5h0M192.1 453.2h0M207.3 452.6h0M222.7 472.4h0M214 481.5h0M203.3 452.2h0M197.2 449.2h0M199.4 451.3h0M175.4 451.5h0M193.4 451.8h0M229.5 473.8h0M184.2 451.9h0M184.6 451.1h0M249.2 448.4h0M239.4 448.9h0M198.5 466.5h0M218.8 454.3h0M224.4 458.7h0M224.1 461.4h0M196.1 451.8h0M228.2 460.7h0M221.7 470.4h0M191.6 491h0M199.4 466.6h0M219.5 474.5h0M224.4 454.1h0M176 448.9h0M195.5 507.6h0M244.6 452.9h0M205.9 452.7h0M207 475.9h0M229.2 456.9h0M172 448.3h0M229.5 451.1h0M246.9 502.5h0M174.3 469.2h0M227.9 497.1h0M190.4 452.8h0M199.5 482.9h0M224.9 512.9h0M239.8 456.1h0M189 479.6h0M211.4 470.9h0M189.7 458.4h0M215.7 473.8h0M217.9 475.7h0M239.1 448.4h0M229.1 448.3h0M206 461.6h0M180.8 453.4h0M192.4 478.5h0M213.9 477.5h0M218.9 462.3h0M231.7 496.6h0M185.8 451.4h0M196.3 448.1h0M249.6 455.7h0M185 485.3h0M195.8 478.7h0M207.9 464.4h0M169.6 448.7h0M239.4 455h0M229.9 501.4h0M187 449.8h0M232.3 454.9h0M170.4 477h0M177.3 468.7h0M183.2 461.5h0M245 454.8h0M238.9 448.3h0M249.2 450.7h0M237.5 466h0M231.1 449.9h0M247.2 453.8h0M174.3 489.7h0M223.2 459h0M199.7 481.1h0M244.2 461.6h0M226.9 461.6h0M239.6 454.2h0M232.9 452.9h0M248.3 502.6h0M216.6 451.6h0M183.7 448.7h0M175.8 450h0M184 478.9h0M187.7 485.7h0M209.3 511.4h0M233.3 452.1h0M243.1 461.3h0M223.7 463.8h0M207.5 447.7h0M184.6 452.1h0M204.6 447.7h0M192.5 470.9h0M208.8 455.4h0M183.8 452.7h0M201.9 455h0M211.9 472.9h0M246.6 450.1h0M233.1 451.7h0M214.1 482.3h0M218.5 461.3h0M193.7 451.6h0M217.7 451.8h0M210.9 499.6h0M202.3 456h0M232.4 458.6h0M215.5 468h0M215 448.5h0M183.5 464.6h0M209.1 466.7h0M195.8 475.4h0M229.2 457.9h0M190.7 462.8h0M211.2 448.8h0M189.5 453.5h0M245.6 450.6h0M214.5 486.9h0M192 485h0M181.2 480.3h0M224.7 448h0M173.3 466.5h0M247.9 492.1h0M185.4 448.4h0M214.5 466.2h0M224.7 448.3h0M189.7 459.7h0M247.3 513.6h0M247.3 452.6h0M235.8 487.7h0M218.6 475.4h0M223.4 455.6h0M170.9 461.8h0M183.1 450.9h0M208.4 453.1h0M174.4 479.1h0M224.3 465.6h0M185.3 492.9h0M233.8 452.5h0M194.5 447.7h0M247.2 461h0M239.5 487.7h0M243.6 453.2h0M249.8 457.7h0M204 470h0M204.5 456.8h0M196.7 449.5h0M241.9 449.3h0M244.9 457h0M249.6 454.9h0M246.9 450.4h0M171.6 466.5h0M193.7 447.7h0M204.8 495.2h0M232.9 461h0M215.8 448.2h0M229.6 452.4h0M218.1 500.7h0M190.4 508.8h0M217.1 504.8h0M188.6 477h0M217.3 456.9h0M247.1 453h0M211.8 447.7h0M198.4 463.2h0M238.2 497.4h0M233 494.3h0M171.1 473.4h0M246.7 462.3h0M239.2 503h0M243.4 477.4h0M225.9 450.4h0M178.1 462.9h0M194.3 448h0M189.3 488.2h0M248.5 477.2h0M249.6 464.5h0M195.1 508.1h0M235.9 456.4h0M198.5 450.2h0M233 522.2h0M193.6 448.5h0M247.6 467.3h0M248.3 450.4h0M215.2 466h0M227.6 457.8h0M197.2 458.5h0M229.2 450.3h0M213 449.6h0M210.1 496.4h0M175.2 448.8h0M237.6 511.9h0M246.8 455.4h0M230.7 507.5h0M221.9 475.6h0M196.9 454.4h0M182.7 447.9h0M189.1 455.3h0M210.3 460.8h0M234.8 455.6h0M172.4 452.2h0M192.9 465h0M247.5 458h0M201.1 510.9h0M174.4 473.9h0M218.8 447.7h0M215.2 447.7h0M197.7 469.5h0M229.1 458.2h0M179.1 461.1h0M238.5 466.3h0M203.5 480.4h0M171.3 498.6h0M239.1 448h0M248.1 465.9h0M223.1 449.9h0M214.9 465.2h0M222.8 456.6h0M186.2 447.7h0M221 481h0M197.4 467.6h0M247 480.8h0M183.3 453.3h0M246.8 451.3h0M216 453.1h0M203.8 484.9h0M189.2 449.2h0M198.9 452.7h0M228.3 473.3h0M209.9 520.5h0M202.5 503.1h0M190.9 459.1h0M214 501.4h0M186.6 450.9h0M228.9 451.8h0M246.3 455.9h0M245.7 461.4h0M234.9 484h0M216.4 460.2h0M219.5 448.3h0M243.1 450.6h0M173.3 450.4h0M233.1 452.6h0M247.1 471.3h0M242.4 481.2h0M197.1 447.7h0M247.3 488.4h0M249.1 480.1h0M184.1 479.4h0M218.4 468.9h0M202.2 484.3h0M177.9 449.5h0M190.5 468.3h0M225.2 449.4h0M180 447.7h0M208.1 466.7h0M184 458.8h0M217.2 478.5h0M207.7 455.5h0M223.6 453.1h0M231.5 455.3h0M191.1 447.9h0M214.8 459.3h0M238.7 449.6h0M239.4 447.7h0M214.2 458.8h0M186.3 488.9h0M176.4 481.9h0M248.3 497.9h0M174.6 464.6h0M241 452.4h0M176.7 454.1h0M225.5 518.2h0M220.6 456.4h0M218.8 450.1h0M228 448h0M190.7 464.5h0M234 453.5h0M228.1 482.5h0M210.4 474.6h0M215.4 464.8h0M225.8 451.3h0M206.8 465.6h0M214 470.5h0M236 452h0M178.4 451.9h0M205.6 518.9h0M241 512.5h0M249.9 463.1h0M181 507.2h0M187 493.7h0M233.9 470.1h0M215.1 475.9h0M250 459.2h0M249.3 453h0M190.6 480.8h0M177.5 447.9h0M173.2 451.1h0M180.1 449.9h0M171.4 451.4h0M203.7 449.3h0M242 480.5h0M239.5 490.3h0M189.2 499.5h0M196.6 450.4h0M196.2 465.1h0M226.5 451.6h0M242.4 452.7h0M200.3 461.1h0M176.1 492.4h0M216.9 454.5h0M216.9 448.1h0M210.6 463.6h0M230.9 468h0M204.7 456.1h0M248.4 461.5h0M186.7 448.6h0M233.4 480.8h0M203.8 459h0M191.5 451h0M219.3 508.6h0M205.5 502.9h0M211.2 491.8h0M240.3 486.9h0M183 466.4h0M238.1 469.5h0M203 451h0M210.7 471.7h0M230.6 512.7h0M176.1 449.1h0M231.4 456h0M181 455.5h0M244.7 482.2h0M227.1 449.5h0M196.3 510.9h0M179.8 449.3h0M206.1 461.7h0M175.2 459.9h0M227.1 451.8h0M236.1 450.3h0M171.3 477.5h0M236 456.3h0M234.8 448.8h0M209.4 460.7h0M182.7 504.7h0M197.9 500.5h0M225.4 447.7h0M181.8 460.5h0M189.1 483.6h0M233.9 466.8h0M240.1 482h0M195.2 481.8h0"/>
<path d="M217.4 452.9h0M199.8 457h0M194.2 453.3h0M241.9 483.2h0M188 473.5h0M248.2 479.6h0M188 476h0M202 456.4h0M186.8 449h0M203.6 488.2h0M208.2 456.4h0M181.6 507.3h0M176.1 467.1h0M238.9 447.7h0M169.2 461.6h0M196.3 459.1h0M183.6 448.6h0M215.1 457.5h0M225.9 453.1h0M177.9 456.2h0M187 449.2h0M186.1 456h0M206.1 449.5h0M188.7 508.9h0M210.3 450h0M215.4 458.1h0M213.8 452.6h0M245.3 498.4h0M205.4 459.8h0M180.4 448.6h0M202 449h0M213.2 458.3h0M240.6 470.9h0M181.8 448h0M217 457.2h0M204.6 505.8h0M186.7 463.9h0M215.1 461.9h0M179.2 462.2h0M214.3 477.2h0M241.1 457.4h0M185.5 483.8h0M179.6 467.5h0M202.7 455.7h0M217.1 456.9h0M213.1 492.6h0M249.1 480.8h0M185.2 452.9h0M248 447.7h0M248.6 458.4h0M202.4 448.6h0M191.4 449.3h0M221 449.7h0M222.5 474.1h0M241.2 463.4h0M227.6 522.1h0M181.8 465.7h0M201.2 456.5h0M189.8 465.2h0M187.5 510.8h0M220.8 463.2h0M228.7 448.7h0M171.6 451.9h0M184.6 448.4h0M249.5 455.5h0M234.2 451.9h0M219.9 458h0M228.7 485h0M172.8 476.5h0M177.8 447.8h0M174.8 450.3h0M203.1 460.5h0M196.9 448.2h0M233 457.9h0M206.7 451.2h0M201.4 447.7h0M195.1 502.7h0M211.1 485.3h0M199.9 466h0M202.2 475.6h0M221.1 458.1h0M235 451.8h0M242.6 458.6h0M203.2 473.3h0M216.6 485.8h0M189.9 488.4h0M229.4 454.8h0M174.2 448.3h0M187.2 449.5h0M174.1 450.8h0M230.5 456.6h0M203.7 452h0M210 451.2h0M216.4 450.1h0M213.7 448.1h0M202.4 469.5h0M220.2 465.8h0M217.1 450.3h0M239.4 464.7h0M229.8 463.5h0M217 448.9h0M232.3 455.8h0M233.7 464.2h0M213.5 474.8h0M228.9 465.1h0M196.1 448h0M246.8 470.6h0M172.4 455.5h0M249.1 456.4h0M172.4 465h0M246 447.7h0M235.1 451.8h0M226.7 498.5h0M218.7 466.9h0M231.2 462.6h0M239.5 462.2h0M232.3 449.7h0M172.3 453.4h0M221.6 448.3h0M231.8 449.1h0M186.8 487.8h0M211.3 481.7h0M205.3 454.7h0M236.6 461.1h0M248.7 456.9h0M192.1 453.1h0M198.9 472h0M174.2 454.7h0M249.8 451.8h0M219.4 450h0M180.2 470.2h0M243.3 448.4h0M235.5 511.3h0M240.2 462.2h0M175 447.9h0M220 460.8h0M196.5 496.5h0M228.6 454.2h0M246.9 449.2h0M225.9 447.7h0M184.1 447.7h0M191.1 450.2h0M207.3 448.2h0M247.7 461.2h0M215.1 476h0M216.1 452.2h0M240 499.3h0M249.6 511.3h0M246.9 447.6h0M199.8 484.1h0M198.7 451.3h0M191 456.2h0M236.6 461.8h0M218.3 448.8h0M191.2 498.3h0M181 449.9h0M196.9 460h0M204.7 454.7h0M216 465.7h0M173.7 449.4h0M248.8 453.7h0M194.1 462.1h0M245.4 451.3h0M235.7 451h0M247.2 511.7h0M185 500.2h0M203.8 450.1h0M186.1 457.2h0M204 462.1h0M208.8 450.6h0M212 460.1h0M212.3 450.5h0M236.2 451.8h0M190.2 458.4h0M247.6 479h0M224.6 517.3h0M247.2 448.3h0M217.6 452.6h0M212.1 494.8h0M250 515.1h0M235.7 520.3h0M219.3 505.5h0M174.4 452.9h0M199.3 471.2h0M249.6 458.6h0M181.8 454.3h0M216.8 470.9h0M200.3 488.8h0M247.7 456.6h0M188.3 459.3h0M223.3 454h0M227.9 451.6h0M200.5 448.9h0M237.7 448.1h0M179.2 468.9h0M237 466.2h0M206 448.1h0M217.8 449.1h0M243 495.9h0M248 469.3h0M217.4 447.7h0M232.2 507.3h0M189.5 479.5h0M172.1 453.1h0M248.4 460.2h0M186 455.1h0M222 453.2h0M229.1 458.6h0M233.7 464.3h0M193.3 447.7h0M173.5 457h0M225.2 447.9h0M245.3 457.1h0M196.4 488.1h0M192.9 452.5h0M228.7 505.6h0M205.2 469.8h0M212.1 480.2h0M238.9 457.7h0M204.5 475.3h0M201.7 498.9h0M222.4 452.5h0M199.4 451.1h0M184.2 475.5h0M207.1 491.2h0M173 450.7h0M244.9 464.1h0M180.7 452.6h0M170.7 448.8h0M242.5 450.2h0M221.9 451.8h0M229.2 487h0M188.9 449.2h0M242.3 460.2h0M188.3 449.4h0M184 449.5h0M171.1 450.5h0M178.2 452.5h0M248.1 449.3h0M230.1 458h0M210.2 503.4h0M185.4 500.3h0M218.3 491.4h0M204.3 472.9h0M239.1 476.1h0M247 461.5h0M243.6 449.5h0M186.8 452.3h0M185.1 454h0M229.1 456.3h0M227.2 449.5h0M216.5 462.7h0M192.1 456.9h0M241.2 448.1h0M228.1 447.7h0M235.9 454.5h0M204.6 466.8h0M206.1 464.4h0M189.1 467h0M242.9 510.6h0M214.8 487h0M186.9 465.6h0M190.6 496.2h0M229.6 468.7h0M235.8 455.5h0M249.3 476.2h0M243.2 454.1h0M182.3 448.7h0M181.8 460.4h0M237.3 511.6h0M224.1 466h0M227.9 454.8h0M195.9 509.1h0M242.6 465.3h0M221.7 452.8h0M231.1 466.6h0M241.8 451.8h0M227 490.9h0M218.4 475h0M184.8 465.4h0M183.6 473.7h0M246.7 456.6h0M227.4 485.6h0M244.9 457.2h0M247.5 491.5h0M200.3 462.2h0M178.5 471.6h0M177.3 452h0M215.2 520h0M177.6 447.7h0M247.7 481.6h0M225.9 473.4h0M194.6 450.5h0M169.7 480.8h0M198 448.8h0M184.5 460.2h0M196.9 449.5h0M224.3 461.6h0M172 450.9h0M216.5 450.4h0M199.3 486.8h0M183.4 470.2h0M203.1 464.5h0M198.6 449.9h0M248.7 486.4h0M181 447.7h0M238.3 451.3h0M248.9 450.8h0M247.7 496.5h0M172.1 447.7h0M223.7 448.6h0M211.1 474.2h0M247.6 505.5h0M187 504.4h0M201.7 448.5h0M205 488.4h0M210.8 478.5h0M173.4 478h0M205.1 467.3h0M226.8 448.7h0M173.7 449.8h0M227.2 450.2h0M217.1 449.2h0M220 464h0M232.8 503.4h0M248 479.6h0M248.2 499.6h0M178.9 457.6h0M196.4 466.7h0M221.8 454.7h0M213.6 453.7h0M186.3 499.3h0M247.4 484.8h0M238.8 459.2h0M224.7 495h0M179.1 474.8h0M218.2 492.8h0M240.3 454h0M200.5 457.8h0M178.9 461.9h0M249.7 449.3h0M194.8 451.6h0M248.4 499.4h0M213.2 448.5h0M248.6 471.1h0M196 502.9h0M224 456.3h0M200.6 450.9h0M185 447.7h0M186.6 450.8h0M222.2 472h0M174.1 450h0M232.9 450.4h0M213.3 473.2h0M172.5 461.1h0M214.3 462.5h0M204.1 448.8h0M232.9 484.4h0M218.3 465.1h0M228.1 451h0M231.4 451.7h0M239.9 455.5h0M202.2 481.1h0M175.9 449.2h0M178.8 454h0M244.5 493.4h0M205.6 451.1h0M188.9 463.6h0M190.8 447.7h0M190.1 484.2h0M216.9 449.1h0M241.3 453.3h0M249.7 490.1h0M205 449.5h0M220.8 476.1h0M193.6 453.2h0M219.5 452.5h0M209.7 458.8h0M186.7 513h0M216.6 451.9h0M228.7 448.7h0M168.4 452.1h0M191.5 483.4h0M249.4 486h0M178.2 448h0M205.3 447.8h0M245.6 457.1h0M186.7 447.7h0M196.3 453.4h0M170.1 455.6h0M217.9 458.5h0M210.9 492.5h0M201 484.2h0M202.5 459.2h0M216 456.7h0M205.1 449.8h0M244 449.7h0M223.7 492.3h0M195.9 448.1h0M216.8 449.6h0M234.3 471h0M204.4 449.1h0M209.9 451.9h0M227.7 449.6h0M235.6 457.6h0M204.8 478.3h0M190.4 449.2h0M227.4 480.1h0M188.3 481.8h0M169.5 448.6h0M172 473.4h0M239.3 449.8h0M249.4 450.4h0M188.8 449.8h0M197.2 455.7h0M194.8 493.4h0M221.2 469.9h0M220.1 448h0M249.2 453.9h0M177.2 489.6h0M244.6 460.4h0M195.3 458.2h0M234.8 498.6h0M226.5 502.7h0M242.5 506.4h0M208.1 474h0M226.2 448.3h0M176.7 450h0M237.6 450.4h0M248.4 450.1h0M223.1 507.5h0M188.3 466h0M245.9 451.1h0M194.6 517.7h0M204.7 460h0M200.1 470.3h0M247.2 507.2h0M192.8 450.9h0M233.3 520.9h0M175 457.3h0M182.3 449.8h0M194.2 479.6h0M242.1 452.2h0M247 451.3h0M215.6 453.5h0M219 468.9h0M235.4 478h0M217.3 448.2h0M205 460.2h0M212.6 454.3h0M233.5 514h0M175.5 450.1h0M197.1 449.4h0M216.5 448.2h0M171.6 465h0M229.1 449.4h0M232.8 452.9h0M223.8 454.1h0M241.1 473.3h0M234.4 449.3h0M193.1 451.6h0M242 469.5h0M244.3 479.1h0M203.8 492h0M236.2 447.9h0M182.4 460.8h0M225.7 458.8h0M205.8 455.8h0M234.6 510.8h0M183.2 447.9h0M213.7 462.1h0M189.7 454.6h0M183 452.4h0M227.7 484.3h0M172.9 467.7h0M208.1 454.4h0M248 479.7h0M213.7 473.8h0M186.5 447.7h0M186.3 455h0M227.1 510.1h0M232.9 451.1h0M232.7 516.7h0M241.9 487.9h0M239.2 454.7h0M192.6 461.3h0M171.6 453.8h0M248.2 482h0M248.2 464.1h0M249.3 448.2h0M183.2 447.7h0M194.3 448.8h0M218.2 450.3h0M203.7 477.2h0M221.5 453.7h0M176.5 479.6h0M212.7 459.1h0M176.9 451.7h0M197.5 453.4h0M242.1 451.4h0M179.2 454.2h0M247.2 456.6h0M235.4 473.1h0M233.9 456.2h0M198 493.1h0M237.3 450.4h0M213.9 458.7h0M226.6 453.7h0M204.8 480.3h0M171.5 474.6h0M229.7 466.1h0M191.9 448.2h0M233.8 498.7h0M176.7 477.3h0M220.9 451.9h0M244.4 459.6h0M213.7 452h0M217.3 447.7h0M235.1 463.9h0M216.3 448.6h0M227.9 470.4h0M226.1 461.2h0M189.6 450.2h0M248.9 456h0M205.2 447.7h0M248.8 454.1h0M172.2 449.8h0"/>
<path d="M232.4 476.9h0M169.1 465.1h0M210.8 478.5h0M197 457.1h0M222.8 449.4h0M242.6 450.8h0M244.7 467.1h0M249.3 485h0M203.1 448.1h0M246.7 495.6h0M186.3 452.1h0M185.3 483.2h0M179.3 449.5h0M248.3 512.4h0M189 447.7h0M201.7 449.5h0M215.5 501h0M192.6 460.6h0M244.3 452.1h0M196.3 455.3h0M198.9 455.8h0M233.9 471.1h0M229.4 460.5h0M246.8 489.2h0M189.6 455.3h0M220.1 454.6h0M176.7 498.8h0M208.2 499.1h0M229 478.1h0M202.5 482.2h0M235.9 468.1h0M203.5 451h0M190.9 450h0M217.4 496.9h0M184.8 448.1h0M234 457.3h0M236.7 450.2h0M213.4 449.3h0M173.9 481.9h0M192.7 448.1h0M242.7 451.5h0M223.1 448.2h0M180.6 453h0M228.8 491.4h0M211.6 454.1h0M228.7 471h0M174.5 478.1h0M183 452.7h0M200.3 450.2h0M236.4 449h0M235.9 505.6h0M194.8 455.6h0M248.4 483.3h0M172.9 498.4h0M218.8 450.4h0M192.9 465.5h0M235.5 449.8h0M250 459.8h0M180.7 458.8h0M203.9 462.4h0M199.9 460.2h0M197.9 487h0M211 452.3h0M203.4 457.7h0M248.6 500.4h0M230.2 462.2h0M176.6 461.6h0M229.9 472.3h0M201 457.6h0M180.9 453.1h0M188.4 462.3h0M218.3 474.6h0M241.7 501.8h0M193.6 468.7h0M202.8 474h0M248.1 483h0M208 471.7h0M172.4 455h0M237 494.1h0M223.8 462.8h0M241.7 448.3h0M204.9 477.4h0M176.8 452.6h0M244.5 452.1h0M246.6 449.1h0M227.5 465.1h0M202.1 454h0M182 458.8h0M207.8 455.5h0M241.6 471.8h0M197 473.8h0M196.6 456.3h0M235 465h0M211.9 454.5h0M195.5 449.4h0M220.5 488h0M217.9 482.1h0M195.5 470.7h0M242.4 474.1h0M179.3 449.4h0M227.4 460h0M249 459.9h0M204.6 447.8h0M217.9 482.7h0M238.7 451.2h0M213.4 470.2h0M210.7 484.9h0M206.1 449.4h0M245.3 491.4h0M230.6 460.8h0M227.4 462.2h0M231.6 464.1h0M228 481.9h0M215 493.5h0M189.7 491.2h0M191.3 488.4h0M216.9 454.4h0M223 471h0M203.7 450.3h0M214.9 450.6h0M248.7 491.4h0M243.1 509.4h0M204.6 447.7h0M242.1 457.8h0M196.2 450.4h0M204.4 455.3h0M195.1 455.5h0M236.8 466.9h0M216.9 449.4h0M241.6 507.6h0M206.7 489.3h0M198.8 457.4h0M198.2 447.8h0M202.7 455.6h0M217.2 511.1h0M220.2 450h0M193.6 447.7h0M171.7 450.3h0M218.1 450.9h0M244 457.6h0M213.4 475.2h0M235.9 481h0M220.7 449.2h0M242.2 498.7h0M206.2 474.5h0M212.2 473.1h0M189.7 455.9h0M235.8 458.9h0M224.2 491.7h0M242 468.8h0M246.7 461.5h0M247.9 448.6h0M211.2 470.6h0M224.7 450.6h0M201.3 487.7h0M215.7 448.3h0M226 462.3h0M223.2 471.6h0M198.8 466.5h0M210.9 457.6h0M213.8 450.7h0M182.3 451.9h0M208.1 448.2h0M197.1 488.3h0M211.9 451.1h0M183.9 451.1h0M209.9 470.7h0M233.9 458.7h0M223 463.8h0M178 452h0M249.2 484.7h0M205.4 457.1h0M226.8 450h0M246.7 467h0M184.7 448h0M234.5 490.6h0M179.2 458.6h0M248.6 454.9h0M248.6 483.8h0M207.3 448.3h0M181.9 504.2h0M233.1 456.7h0M244.3 449.7h0M248 476.3h0M217.8 453.2h0M190.9 452h0M187.1 471.6h0M205.4 448.2h0M220.1 497h0M222.8 456.9h0M245.2 486.9h0M226.6 452.5h0M247.4 448.3h0M221.3 447.7h0M181.1 469.7h0M199.2 490h0M212.4 461.3h0M247.5 447.7h0M199.4 474.8h0M237.9 492.3h0M172.7 488.2h0M245.9 460.1h0M248.7 458.5h0M244.4 448.7h0M241.9 454.3h0M221.5 523.8h0M192.8 499.3h0M186.1 448.6h0M248.4 461.9h0M172.1 457.2h0M215.7 454.7h0M181.8 455h0M175.8 455.5h0M178.4 449.1h0M215.8 472.8h0M187.4 484.1h0M217.1 500h0M214.9 454.6h0M222.9 453.1h0M209.3 458.4h0M244.1 454.4h0M219.6 491.4h0M200.5 450.1h0M169.3 501.5h0M174.4 457.7h0M196.5 458.5h0M174.1 464.5h0M189.5 478.5h0M232.5 455.1h0M216.1 464h0M249.5 515.9h0M213.1 447.8h0M183.9 448.2h0M189.4 453.5h0M173.9 453.9h0M214.8 452.6h0M247.3 491.1h0M219.4 453.3h0M201.3 453.5h0M224 459.1h0M213.6 507.6h0M191.6 452.9h0M173.7 448.2h0M179.6 483.4h0M227.1 449.2h0M239.6 453h0M203.1 448h0M197.3 448.4h0M207 449h0M191.2 448.6h0M188.8 448.3h0M229.1 481.6h0M227.4 489.6h0M189.6 461.7h0M205.6 507.4h0M248.3 468.9h0M239 474.9h0M240 471.9h0M249.1 497.2h0M186.5 449h0M205.4 489.2h0M176.7 459.1h0M210.2 482.5h0M239 477.1h0M229.2 465.6h0M202.4 485.7h0M177.4 449.8h0M216.6 490.8h0M218.9 517.7h0M220.7 456.9h0M246.3 451.6h0M192.8 453h0M246.7 455.3h0M229.6 475.3h0M173.4 447.7h0M219.7 450h0M203 452.9h0M204.1 464.1h0M207.1 449h0M172.5 447.7h0M247.9 468.1h0M234.2 448.7h0M219.7 469.2h0M202.9 459.9h0M171.7 453.9h0M207.2 477.4h0M204.7 475.9h0M188.3 485h0M214.9 455.8h0M217.3 462.2h0M193 465.8h0M246.2 501.2h0M173 454.9h0M245.8 448.7h0M208.4 472.4h0M205.3 462.5h0M177 463.4h0M172.4 449.2h0M219.5 462.3h0M234.7 463.1h0M177.5 455.6h0M171.7 494.9h0M224.2 457.6h0M244.3 466.4h0M220.6 451.8h0M168.9 454.1h0M194.2 475.1h0M228.5 451.8h0M179.1 452.1h0M222.6 455.7h0M248.4 457.9h0M231.3 518.4h0M173.1 453.7h0M248.2 456.4h0M220.1 511.7h0M174.9 451.6h0M238.3 480.1h0M229.6 479.8h0M230.6 451.8h0M205.9 478.7h0M244.4 461h0M248.6 448.2h0M215.6 467.4h0M238.7 448.2h0M220.5 506.6h0M204.6 498h0M248.8 461.4h0M178 475.7h0M220.8 451.3h0M193.6 465.8h0M195.2 455.7h0M213.6 501.2h0M240.5 451.9h0M209.3 485.2h0M202.6 475h0M172.9 453.5h0M248.8 472.4h0M204.6 452h0M224.5 457.1h0M178.6 464.5h0M202.2 496.6h0M214.1 459.8h0M205.1 493.3h0M227.6 460.2h0M246.3 457.7h0M181.2 462.2h0M189.3 448.7h0M218.9 449.8h0M246.8 459h0M191.8 495.8h0M227.1 447.7h0M207 457.6h0M237.2 457.5h0M191.5 448.8h0M233.1 500.9h0M243.4 447.7h0M233 455.2h0M244.5 449.9h0M209.1 506.5h0M198.3 450.1h0M190 513h0M190 457.8h0M206 497.4h0M222.4 461h0M209 453h0M236.5 450.6h0M235.3 480.4h0M223.2 451.8h0M242.7 447.8h0M190.5 467.4h0M190.5 450.1h0M208.3 449.5h0M197.2 453.2h0M204.4 469.2h0M205.3 453h0M214.8 448.5h0M202 483.8h0M218.4 470.6h0M180.7 449.1h0M222.3 478.9h0M221.4 471.8h0M246.5 482.8h0M180.7 452h0M185 457h0M171.7 447.7h0M235.8 505.7h0M231.1 450.1h0M241.8 450.1h0M229.6 458.6h0M233.4 469h0M202.5 450.2h0M199.9 466.2h0M243.8 451.6h0M183.9 503.1h0M178.8 451.8h0M222.3 471.5h0M215.6 462h0M245.6 501.1h0M189.7 450.3h0M242.6 456.8h0M207.3 448.1h0M187 451.9h0M239.1 475.5h0M249.3 499.3h0M207.6 504.2h0M197.5 500.2h0M204.2 453.1h0M229.7 450.7h0M192.3 485.5h0M247.1 482.4h0M240.9 502.8h0M208.1 494.3h0M205.8 448.3h0M180.7 449h0M245.7 476.1h0M190.4 449.4h0M214.5 493.5h0M246.6 489.2h0M190.2 477.1h0M204.7 457.4h0M182.1 451.1h0M208.5 472.5h0M177 447.8h0M184.3 505.4h0M239.4 469.5h0M169.6 452.8h0M216.7 451.6h0M192.4 447.7h0M226.1 451h0M248.7 464.4h0M172 449h0M218.9 509.3h0M230.9 480.3h0M221.8 462.4h0M247.4 449.1h0M249.5 448.6h0M195.2 501.4h0M221.4 449.1h0M171.8 454.3h0M200.7 447.7h0M192.4 450.4h0M204.4 450.8h0M212.8 453h0M226.3 451.6h0M246.7 467.2h0M200.1 478.8h0M248.4 485.8h0M224 477h0M245.5 478h0M169.5 451.2h0M214.3 472.3h0M214.3 448h0M199.3 488h0M173.2 448.9h0M240.8 467.5h0M233.4 499.7h0M248.8 454.1h0M231.9 452.9h0M233.3 458.7h0M212.7 484.7h0M214 455.4h0M235.4 459.1h0M243.3 450.2h0M214.7 494.8h0M218.4 448.5h0M189.4 453.2h0M168.9 501.6h0M215.4 468.9h0M216.2 451.4h0M213.7 457.8h0M183.6 451h0M198.9 447.7h0M241.6 489.1h0M189.1 453.3h0M185.7 489.2h0M226.4 492h0M224.5 482.4h0M213.8 449.6h0M203.5 455.7h0M199.4 453.2h0M179.2 447.7h0M242.6 452.3h0M238 451.5h0M195.6 448.2h0M190.3 447.9h0M177.8 455.2h0M222.7 461.2h0M175.5 449h0M210.8 454.3h0M245 447.7h0M187.7 479.9h0M235.4 457.8h0M223.3 455.4h0M216.1 448.4h0M242.9 485.8h0M219.8 452.9h0M217 471h0M234.8 449.4h0M191.8 459.6h0M224.3 484.2h0M198.3 464.4h0M250 449.7h0M234.9 495.8h0M179.4 452.8h0M187.2 490.7h0M191.9 447.7h0M217.6 470.4h0M198.3 464.7h0M215.4 469.2h0M238.8 486.2h0M229.7 466.4h0M235.8 501.8h0M212 489.1h0M189.3 460h0M249.8 494.2h0M246.6 486.7h0M211.6 521.9h0M191.2 449.6h0M217.8 451.7h0M211.7 456.2h0M204.4 449.9h0M170.8 458.9h0M236.3 505.4h0M226.9 458.6h0M247.1 455.1h0M219.1 452.6h0M185.5 448.3h0"/>
<path d="M188.8 447.7h0M215.7 455.7h0M186 460.2h0M187.8 448.1h0M204.6 453.4h0M221.7 450.1h0M217.3 456.8h0M175.9 472.7h0M231.5 451.7h0M216.8 447.7h0M239.9 485h0M247.4 447.7h0M209.7 470.8h0M246.2 507.2h0M248.8 473.3h0M244 447.8h0M219.5 467.7h0M239.2 449.2h0M246.8 514.5h0M217.5 450h0M219.5 477.9h0M217.7 479.3h0M231.3 492.5h0M229.1 453.3h0M227.5 471.2h0M218.2 459.8h0M205.3 476.3h0M193.3 448.1h0M170.8 449.5h0M224.8 452.1h0M171.3 463.8h0M233 495.4h0M197.9 509.2h0M197.3 471.8h0M207.3 479.5h0M221.9 517.7h0M226.2 448.2h0M238.3 447.7h0M247.1 503.2h0M229.6 502.1h0M249 504.6h0M198.9 447.7h0M213.5 453h0M182.3 456.2h0M248.3 507.9h0M185.1 449.2h0M241.1 449.7h0M180.8 459.6h0M228.8 454.9h0M207.2 449.6h0M228.7 460.8h0M177.9 452.9h0M214.9 452.9h0M199.2 456.8h0M218.7 447.9h0M221.1 492.4h0M222.3 473.2h0M232.5 453.6h0M210.6 470h0M237 473.6h0M185.2 490.7h0M218.7 485.7h0M190.5 449.3h0M194.9 490.6h0M173.2 450.6h0M206.1 447.7h0M181.5 451.6h0M208.1 452.5h0M187.9 458.2h0M192.7 448h0M192.7 447.7h0M178.1 462.5h0M202.8 462.3h0M195.8 488.8h0M239.2 456.2h0M227.6 459.1h0M243.5 485.1h0M170.4 494h0M183.4 450.5h0M239.4 450.2h0M227.7 488.3h0M196.9 509.4h0M189.9 461.9h0M218.8 452.7h0M193.3 455.6h0M213.9 449.1h0M248.9 479h0M233.6 448.4h0M219.5 460.7h0M249.4 460.8h0M248.8 465.8h0M247.3 485.3h0M185.9 450.5h0M212 461.5h0M217.4 453.9h0M189.3 462.7h0M186.5 490.6h0M234.5 479.1h0M237.4 469.1h0M186.4 491.7h0M247.2 451.9h0M171.2 455.1h0M201.2 447.8h0M177.5 463.7h0M228.6 499.9h0M213.3 447.9h0M234.1 490.7h0M205.8 459.1h0M182.8 450.6h0M215.4 482.7h0M202 447.7h0M170.3 463.7h0M171.7 452.5h0M204.6 458.9h0M197.6 453.1h0M249.7 454.9h0M222.9 484h0M211.5 457.1h0M192.1 489.8h0M220 447.7h0M229.3 510.3h0M198.1 470.4h0M224.4 494.4h0M222 471.6h0M208.1 447.8h0M185 494h0M195.8 449.8h0M249.6 472.9h0M175.5 451.5h0M186.6 505.9h0M170.8 461.7h0M213.6 465.4h0M184.1 471.4h0M200.7 515.3h0M231.8 467.4h0M238.7 451.7h0M248.6 449.3h0M213.5 452h0M204.3 488.9h0M190.4 466.9h0M233.6 465.5h0M191.5 457.3h0M229.4 476.9h0M239.5 450.9h0M217.7 478.9h0M217.9 456.9h0M249 447.7h0M224 458.7h0M227.6 482.2h0M181 456.4h0M192.6 456.1h0M249.8 460h0M189.5 487.2h0M197.1 448.7h0M187.3 500.8h0M240.5 448.3h0M237.3 453h0M175.2 448.1h0M230.4 488.5h0M199.6 477.8h0M219 449h0M180 481h0M194.9 449.8h0M208.3 459.6h0M214.4 451.5h0M184.6 478.6h0M186.7 447.7h0M240 474h0M234.8 453.2h0M241.1 450.6h0M194.1 497.8h0M248.7 455.7h0M228.4 480.5h0M169.5 462.6h0M184.4 451.6h0M248.5 459.6h0M227 498.2h0M229.2 494.3h0M245.3 458.4h0M226.5 476.7h0M200.6 447.8h0M209.3 448.2h0M175.4 448.5h0M202.9 448.7h0M226.1 452.8h0M212 488.6h0M247.1 476.9h0M194.3 484.1h0M175.4 462.5h0M218.9 490.2h0M230.8 484.9h0M224 483h0M232.4 459.8h0M240.5 451.4h0M249.8 474.8h0M205.6 492.5h0M204.7 470.4h0M231.3 472.8h0M246.9 505.4h0M185.5 478.2h0M197.7 486.4h0M177.7 455.5h0M208.2 490.3h0M219.4 469h0M215.7 484.9h0M217.9 447.7h0M249.5 473.6h0M171 454.5h0M183.4 456.5h0M227.5 471.5h0M172.6 457.5h0M215.6 479.9h0M199 455.2h0M191.5 490.9h0M175.7 476.6h0M179.2 468.8h0M232.3 447.9h0M198.6 455.5h0M216.4 453h0M189.5 449.1h0M191.3 447.8h0M180 478.2h0M185.5 472h0M184.1 454.4h0M218.6 462.4h0M211.9 462.6h0M221.4 454.4h0M197.8 485.5h0M184.5 450.8h0M222.9 450h0M248.9 475.7h0M171.4 451.7h0M220 519.5h0M187.9 455.3h0M247.7 489.5h0M245.5 457.6h0M210.4 452.7h0M214.3 515.2h0M209.7 481.8h0M223.9 466.2h0M208.6 457.7h0M247.3 471.3h0M217.8 483.8h0M242 449.4h0M191.8 462.3h0M238.6 447.7h0M248.5 512.6h0M186.5 450.3h0M225.9 460.2h0M189.1 485h0M218.1 491.7h0M189 450.4h0M197.3 464.4h0M217.5 460.7h0M192.7 457.3h0M197.5 459.7h0M239.4 451.3h0M250 498.5h0M236 469.2h0M197.1 463.8h0M188.2 455.5h0M223.6 487.2h0M248.9 472.2h0M207.5 456.2h0M248.9 462.8h0M225.1 460.7h0M195.6 448.1h0M169 447.7h0M174.4 452.4h0M197.6 453.1h0M227.4 462.2h0M190.3 453.3h0M212.4 450.9h0M217.9 495.1h0M173.4 480h0M208.5 450.1h0M188 448.5h0M181.6 460h0M231.8 460.9h0M217 450.5h0M186 457.5h0M196.8 467.3h0M247 494.5h0M220.8 512.3h0M247.1 508.1h0M208.4 453h0M248.1 450.2h0M212.6 450.4h0M243.5 457.8h0M230.5 449.5h0M207.6 447.9h0M206.2 450h0M171.6 452.5h0M226.2 469.2h0M242.6 450h0M232.7 466.4h0M221.9 475.9h0M193.2 468.2h0M197.5 465.5h0M171.1 447.7h0M208.2 476.2h0M194.2 455.1h0M196.3 448.2h0M193.7 478.6h0M229.5 453.4h0M201.9 457h0M185.3 490.5h0M189.1 447.7h0M197.3 457.7h0M203 447.8h0M237 490.9h0M177.9 462.2h0M187.4 452.5h0M226 504.2h0M180.5 458.9h0M217.8 450.3h0M237.5 509h0M227.8 476.4h0M195.2 447.7h0M216.9 453.1h0M205 452.5h0M191 506.1h0M169.5 464.2h0M179.8 472.1h0M217.4 466.8h0M234.8 514.6h0M247.4 449.2h0M210.4 449.8h0M245.5 472.2h0M205.5 453.4h0M232.5 487.5h0M177.3 494.5h0M181.8 449.7h0M185 452.5h0M186.3 449.2h0M236.1 475.8h0M232.1 447.7h0M247.8 499.9h0M204.8 466.4h0M218.3 449.6h0M196.5 477.2h0M222.9 475.2h0M198.9 484.8h0M186.4 495.6h0M176.1 448h0M221.6 498.9h0M195.4 450.5h0M215.1 497.7h0M172 448.8h0M233.9 498.5h0M229.2 454h0M203.9 461.2h0M225.2 449.4h0M192.8 451.4h0M247.4 482.9h0M215.1 462.8h0M218 448.1h0M246.9 496h0M191.4 450.6h0M177.2 451.9h0M173.1 464.9h0M228.9 456.3h0M209.2 452.6h0M221.6 481.2h0M193.1 448.2h0M243.2 486.3h0M199.8 454h0M247.5 450.4h0M209 501.9h0M239.9 467.6h0M211 451h0M220.3 456.1h0M200.5 448.5h0M209.6 459.7h0M246.2 472.8h0M205.6 449.4h0M209.3 458.5h0M218.9 449.5h0M244.9 457.9h0M223.3 504.2h0M176.5 451.3h0M238.1 454.7h0M210.3 449.5h0M175.1 457.8h0M193.5 486h0M178.1 450h0M223.1 490h0M210 453.3h0M233.6 512.2h0M208.5 453.4h0M247.8 456.4h0M217.5 465.5h0M181.5 448h0M194 519h0M217.7 447.7h0M196.2 460.9h0M195.6 458.8h0M202.7 456.1h0M177.4 475.3h0M205.3 454.2h0M186.5 452.3h0M180.9 450.1h0M234.8 457.1h0M247.7 482.3h0M230.3 449h0M204.4 447.7h0M211.5 500.2h0M180 463h0M232.1 455.9h0M249.6 465h0M180.9 491.2h0M236.8 449h0M182.8 451.7h0M202.6 448.8h0M213.2 455h0M236.4 455.9h0M208.5 474.4h0M204.1 448.7h0M213.9 516.3h0M250 475.4h0M182.5 455.2h0M210.1 466.8h0M195.4 452.2h0M214.6 472.3h0M186 479.9h0M205.4 451h0M215.5 453.1h0M229.3 503.9h0M213.8 456.4h0M211.3 448h0M203.8 467.6h0M169.9 449.9h0M249.3 452.7h0M229.1 469.6h0M184.1 449.9h0M188.3 449.9h0M205.7 456.9h0M173.1 473h0M225.4 450.3h0M243.2 474.7h0M246.2 453.5h0M247.4 466.1h0M223.7 462h0M242.3 447.7h0M171.2 451.8h0M219.4 466.3h0M179.8 450.7h0M194 454h0M171.9 452.6h0M231.6 484h0M249.1 470h0M249.1 457.7h0M246.8 472.6h0M184.6 456.3h0M249.8 466.4h0M229.5 460.4h0M185.3 458.1h0M189.2 450.1h0M228.3 523.3h0M220.6 471.5h0M202.7 449.4h0M224.3 460.8h0M171.4 486.1h0M171.5 482.5h0M248.7 466.1h0M176.3 466.5h0M247.5 493.7h0M247.5 512.6h0M234.7 492.4h0M217.7 452.9h0M186.5 457.5h0M226.4 464.5h0M216.9 501h0M232 451.6h0M179.5 475.4h0M171.2 487.9h0M171.9 455.7h0M222.9 502.3h0M182.6 459.1h0M193.1 457.3h0M195 476.9h0M196.4 461.6h0M199.8 459h0M217.7 474.9h0M179.4 448.7h0M215.8 460.5h0M198.1 447.7h0M220.9 448.3h0M202 505.1h0M237.1 453.8h0M247.5 473.4h0M221.9 448.6h0M230.8 459h0M186.7 491.6h0M236.1 453.7h0M175 450.1h0M187.1 486h0M224.8 481.1h0M208.8 450.1h0M193.1 463.1h0M204.4 455.8h0M174.6 480.7h0M194.2 451h0M205.3 497.2h0M219 496.6h0M206.8 447.7h0M241.4 448.5h0M220.5 497.5h0M171.3 471.4h0M225.1 479.2h0M189.1 450.7h0M220.9 453.8h0M208.7 453.3h0M237.1 456.3h0M181.7 454.3h0M215.5 457.6h0M209.5 474.1h0M249 458.5h0M189.1 448.4h0M228.9 452.8h0M189.7 482.1h0M175.5 477.6h0M196.3 477h0M188.4 458.7h0M208.2 450.4h0M211.7 456h0"/>
<path d="M244.3 447.7h0M248 483.6h0M228.6 450.5h0M200.9 448.6h0M206.4 447.9h0M214.9 497.3h0M241.8 458.4h0M239.6 466.9h0M172.5 450.6h0M227.3 481.3h0M187.7 454.5h0M180.2 477.5h0M198.5 499h0M178.5 452.1h0M224.8 452.5h0M234.2 460.5h0M240 447.7h0M179.6 448.4h0M199.5 456h0M221.2 485.8h0M183.9 471.3h0M200.6 448.6h0M201.6 448h0M220.3 475h0M175.1 451.5h0M217.2 489.8h0M177 453.1h0M229.5 466.5h0M246 493.9h0M193.2 512.2h0M171.8 450.9h0M231.9 492.4h0M214.1 503.3h0M183 478.9h0M203.3 450.3h0M231 459.2h0M196.2 450h0M197.7 461.9h0M236.8 449.6h0M248.8 468.3h0M180.1 481.5h0M243.4 449.8h0M249 490.4h0M205.3 459.2h0M186.7 478.5h0M241 479.2h0M232 450.4h0M242.1 498.5h0M176.9 469.2h0M224.8 484.4h0M182.4 448.2h0M191 490.2h0M187.8 459.5h0M181.2 452.5h0M230.6 458h0M207.5 503.8h0M188.9 453.7h0M181.1 451.2h0M193.9 495.1h0M231.3 488.9h0M212.3 448.5h0M237.6 449.7h0M201.5 450.3h0M180.2 476.5h0M219.5 454.9h0M209.2 500.5h0M249.3 456.1h0M177.2 499.8h0M208.9 451.8h0M172.7 452.4h0M231.6 450.7h0M198.2 455.2h0M199.5 462h0M196.8 449h0M249.4 482.5h0M235.9 523.7h0M187 466.7h0M223.6 448.5h0M220.1 462.3h0M226.7 448.8h0M192.6 492.3h0M249.1 460.3h0M235.2 451.2h0M187.8 452.1h0M236.5 462.6h0M214.9 515.2h0M230.8 454.9h0M248.1 506.7h0M206.8 521.8h0M247 494.1h0M182.4 474.2h0M214.3 491.1h0M184.2 469.3h0M177.2 451.2h0M238.9 455.9h0M202.5 447.7h0M191.9 447.7h0M204.9 485.9h0M184.5 458h0M222.5 502.6h0M236.5 448.3h0M199.7 510.1h0M189.1 450.4h0M177.5 477.6h0M245.6 484.5h0M197.2 451.7h0M192.1 463.3h0M197.1 483.3h0M204.8 456.6h0M205.6 454.3h0M208 488.9h0M238.7 467.2h0M239.6 458.4h0M228.6 464.2h0M189.5 504.1h0M210.8 475h0M184.3 454h0M195 451.6h0M214.8 449.8h0M209.3 483h0M236.2 454.2h0M196.5 470.9h0M235.8 447.7h0M187.1 450.7h0M247.3 456.3h0M218.2 449h0M187.7 453.1h0M239.2 450.4h0M213.2 458.4h0M208.3 466.9h0M215.8 448.3h0M247.3 455.8h0M246.6 470.7h0M201.7 448.1h0M233.7 467.5h0M180.9 463.6h0M248.8 447.7h0M216.9 451.1h0M199.5 450.6h0M181.7 473h0M187.5 482.1h0M202.4 450.3h0M188.5 451.1h0M220.9 455.1h0M247.6 480.7h0M222.7 455.7h0M201.2 447.7h0M219.5 505.2h0M223.8 456.2h0M244.7 449.9h0M189.6 489h0M185.7 448.7h0M246.1 459.5h0M208.5 453.7h0M241.3 455.5h0M249.6 492.8h0M247.8 453.1h0M169.4 453.2h0M179.4 447.7h0M198.1 469.7h0M174.8 455.8h0M244.3 487h0M219.8 497.1h0M246.6 455.8h0M198.1 454.2h0M193.6 475h0M190.9 449.5h0M190.8 452.2h0M174.2 450.4h0M216.8 451.7h0M201.8 458.1h0M247.5 511.9h0M215.1 493.3h0M213 452.5h0M173.3 468h0M222.1 507.6h0M247.3 460.7h0M193.4 454.1h0M171.4 453.6h0M223.7 494h0M199.8 473.3h0M224.5 492.3h0M249.4 448.7h0M217.3 482.2h0M243.2 490.2h0M174.8 453.6h0M177.7 455.4h0M219.7 470.3h0M186.8 462.3h0M236.6 451h0M192.5 470.2h0M195.9 453h0M236.3 457h0M238 454.4h0M246.4 457.5h0M206.4 459.2h0M241.1 455.2h0M212.2 457.7h0M237.7 456.3h0M247.4 448.8h0M203.5 460.1h0M174.6 474.2h0M232.7 449.4h0M246.6 455.5h0M197.7 455.4h0M178.2 451.6h0M245.4 447.7h0M233.9 447.7h0M227.9 468.3h0M215.1 514.7h0M248 451h0M220.9 460.4h0M234 448.9h0M169.8 451.6h0M235.9 466.5h0M181.9 447.7h0M200.3 465.3h0M194.5 461.5h0M231.7 512.6h0M169.5 459.2h0M172.9 470.1h0M243.9 476.2h0M188.4 466.2h0M238.9 496.3h0M221.8 480.9h0M236.4 509.2h0M200.3 447.7h0M224.1 459.3h0M232.4 497.5h0M224.7 455h0M215.9 449.6h0M247 452.5h0M178.9 447.7h0M248.2 471.1h0M194.7 458.8h0M191.1 467.5h0M202.5 495.6h0M195.8 470.7h0M212.7 454.2h0M218.6 479h0M181.1 452.2h0M206.3 454.9h0M188.7 448.4h0M187.4 490h0M195.7 451.1h0M188.9 474.4h0M247.5 476.6h0M222.6 448.6h0M182.5 463.7h0M191.7 485.3h0M191.5 448.5h0M248.9 448.4h0M194.3 495.6h0M206.3 468.3h0M179.7 470.7h0M169.1 448.5h0M199.3 467.6h0M201.3 493.7h0M241.4 480.5h0M248.2 453.2h0M186.3 454h0M206.2 462.2h0M191.2 453.7h0M248.3 468.5h0M239.7 448.8h0M219.3 447.7h0M193.6 481.4h0M199.3 500.8h0M183.5 462.1h0M247.2 509.1h0M177.5 459.6h0M195.1 460.6h0M203.5 484.8h0M180 456.6h0M214.1 457.7h0M195.4 452.8h0M197.5 449.2h0M223.6 464.2h0M232.4 448.6h0M200.3 473.4h0M224 450.5h0M199.7 471.4h0M210.5 467h0M199.5 447.7h0M208.1 447.7h0M216.4 470.7h0M208.7 474.5h0M244.4 449.9h0M213.9 476.8h0M183.4 461.2h0M227.3 463.5h0M235.1 495.3h0M182.5 458.1h0M206.6 466.5h0M176.5 452.5h0M219.2 491.2h0M225.4 461h0M248.5 451h0M214.7 465.3h0M220.9 496.5h0M207 474.3h0M188.2 455h0M249.1 456.3h0M190.6 454.9h0M196.4 450.8h0M180.7 451.1h0M213.7 450h0M175.5 482.1h0M184.1 472.6h0M249.8 491.3h0M177.8 467.3h0M181.1 447.7h0M192.4 503.6h0M200.7 460.5h0M187.2 459.5h0M247.8 476.3h0M195.4 471.4h0M200.7 447.7h0M247.6 449.8h0M220.3 517h0M198.4 453.5h0M182.8 493.5h0M189.6 461.6h0M208.6 468.1h0M226.6 453.5h0M213.4 449.4h0M202.2 502.8h0M187.5 468.6h0M220 464.6h0M173 454.6h0M203.5 461.4h0M175.2 448h0M183.4 456.5h0M219.1 462.4h0M177.8 451.7h0M186.5 450.1h0M191.3 482.8h0M203.5 447.7h0M174.1 450.1h0M210.5 451.4h0M209.7 451.8h0M205.6 448.2h0M222.3 455.9h0M202.8 450.8h0M186.4 481.4h0M214.9 452.3h0M247.7 510.3h0M249.7 469.8h0M243.4 452.2h0M201.9 495.8h0M206.8 448.9h0M247 452.1h0M192.7 474h0M198.2 467.2h0M202 469.5h0M187.7 448.3h0M240.6 487.9h0M209 461.6h0M209.9 448.2h0M199.6 472.2h0M206.6 452.7h0M186.1 488.7h0M191 460.9h0M174.1 500.4h0M213.1 481h0M202 457.9h0M239.9 451h0M212.4 449.2h0M232.6 451.6h0M203 455.8h0M217.8 458.3h0M236.3 448.9h0M249.9 499.9h0M246.5 476.4h0M210.9 458.4h0M203.7 454.8h0M248.7 468.2h0M248 516.7h0M206.2 447.7h0M238 502.1h0M226.9 447.8h0M229.4 447.7h0M180.2 464.6h0M207.4 448.7h0M237.2 478.8h0M206.7 464.6h0M224 507.4h0M215.2 451.7h0M189.1 479.6h0M244.5 509.4h0M170 461.6h0M224.1 448.8h0M199.8 461.1h0M175.4 465.3h0M221.9 452.9h0M179.5 450.9h0M223.1 451h0M196.3 468.8h0M229.5 448.8h0M188.5 453.9h0M203.8 448h0M172.3 464.3h0M244.5 497.3h0M215 453.4h0M194.7 453.2h0M236.2 449.8h0M247.2 456h0M207.5 473.7h0M238.6 493.3h0M209.3 451.9h0M169.3 481.5h0M202.1 454.4h0M218.4 453.9h0M198 448.3h0M202.9 489.7h0M202.9 448.8h0M177.5 448.3h0M231.4 448.2h0M201.2 448.6h0M241.9 460.1h0M202.1 501.5h0M212.5 465.4h0M218.1 447.7h0M203.8 461.1h0M198.9 448.1h0M234 463.2h0M190.6 448.1h0M222.6 466.1h0M237.1 506.5h0M168.7 453.5h0M224.3 476.1h0M212.2 476h0M195.8 489.4h0M219.5 454.6h0M230 449.3h0M179.7 476.6h0M210.7 449h0M210.9 457.1h0M240.5 487.7h0M188.7 480.8h0M208.7 447.7h0M182.1 449.7h0M198.8 488.5h0M247.7 497.3h0M212.8 461.5h0M229.1 454.7h0M195.7 509.5h0M183.5 448.3h0M199.3 457.1h0M218.3 447.7h0M235.5 485h0M187.1 484.9h0M234.4 478.8h0M224.2 453.5h0M183.3 454.9h0M175.1 449.1h0M192.4 452.4h0M200.9 453.2h0M220.3 451.2h0M247.2 449.2h0M217 475.9h0M243.4 483.7h0M199.8 452.2h0M195.5 471.8h0M221.9 447.7h0M182.6 449h0M205.5 459.3h0M175.3 453h0M219.8 491.4h0M248.7 465.6h0M224.9 453.8h0M196.3 451.8h0M208.3 448.4h0M237.4 462.8h0M214.1 475.6h0M215.3 465h0M194.8 482h0M238.9 502.3h0M209.5 452.8h0M249.2 505.8h0M223.7 465.3h0M195.5 474h0M224.9 452.1h0M234.5 497.1h0M241 452.3h0M181.1 474.6h0M177 458.9h0M195.7 482.9h0M208.3 506.5h0M231.6 454.6h0M228.7 498h0M218.3 480h0M187.4 497h0M203.2 458.5h0M197.7 452.8h0M188.1 448.7h0M208.4 453.6h0M247.1 482.1h0M207.7 454.8h0M218.6 449.3h0M191.2 471.2h0M207.7 457.7h0M181.1 451.6h0M184.3 455.1h0M197.3 451.2h0M231.4 462.6h0M206.1 478.4h0M234.9 479.5h0M177.5 452.7h0M200.6 462.8h0M202.5 450.9h0M193.5 475.2h0M193 482.7h0M249.2 472.4h0M200.6 500.7h0M231.2 480.5h0M231.6 462h0M180.2 451.4h0M211.7 460.4h0M177.2 451.7h0M235.2 458.6h0M206.2 474.3h0M181.1 449.9h0M212.1 459.8h0M214.2 448.3h0M233.7 487.8h0"/>
<path d="M233.9 455.4h0M246.8 471h0M219.9 460h0M248.5 455h0M209.3 449.5h0M249.7 494.1h0M218.8 464.7h0M223.9 448.8h0M191.5 463.5h0M177.2 449.6h0M177.8 450.3h0M195.5 500.9h0M177.9 451.7h0M173.3 473.3h0M248.7 496.9h0M246.3 453.4h0M222.6 466.7h0M189.5 483.7h0M196.6 477.7h0M246.3 487.1h0M180.3 450.3h0M194.9 451.1h0M246.6 500.8h0M227.6 447.7h0M224 474.4h0M234 485.7h0M195.7 482.9h0M248.5 480.7h0M201.1 461.8h0M232.4 453.9h0M249.8 485.8h0M192.7 451.1h0M181.9 493.2h0M221.4 455.1h0M179.3 455.6h0M211.5 449.7h0M174.4 448.9h0M206 508.2h0M247.6 456.2h0M179.2 466.1h0M184.7 496.1h0M183.4 451.3h0M194.3 449.5h0M182.4 453.6h0M248.1 460.6h0M185.4 461.1h0M208.1 450.5h0M234 469.7h0M209 450.2h0M194.4 449.2h0M177.6 457.2h0M249.2 451.4h0M214.4 455.9h0M237.4 461.8h0M197.1 481.2h0M226.9 448.1h0M208.3 448.5h0M205.5 447.7h0M211.4 483.6h0M182 469.1h0M199.2 448h0M248.1 520.8h0M180.4 453.5h0M236.1 489.3h0M248.5 471.4h0M195.9 449.2h0M181 458.1h0M242.9 460.9h0M194 449.6h0M243.6 453h0M206.8 466.2h0M210.3 491.5h0M233.2 515.2h0M190.2 497.3h0M190.8 451.2h0M225.8 456.2h0M198.4 511.5h0M222.7 467.4h0M249 507h0M206.2 458.2h0M197.3 508.7h0M193.6 449.3h0M220.7 453h0M188.7 449.7h0M219.2 463.6h0M192.7 476.9h0M235.2 459.7h0M169.1 448.7h0M206.4 450.3h0M249.9 464.1h0M208.2 455.3h0M216.5 452.5h0M247.2 460.4h0M215.2 464.5h0M238.8 461.4h0M168.9 452.3h0M237.3 472h0M234.9 468.9h0M171.5 448h0M211.6 447.7h0M249.3 469h0M205.4 457.1h0M170.8 447.8h0M188.4 460.8h0M249.6 518.6h0M189 486.1h0M217.8 450h0M226.5 487.8h0M247.7 451.3h0M211.4 452.4h0M175.6 454.3h0M202.8 452.2h0M218 454.3h0M182 459h0M182.9 451.5h0M230 496.7h0M242.3 475.4h0M170.2 465.6h0M219.7 453.1h0M169.3 450.7h0M218.4 452.3h0M236.9 447.7h0M197.3 488.4h0M186.7 481.7h0M249.1 469.9h0M206.1 495.6h0M180.8 447.7h0M222.7 456h0M174 452.9h0M220.6 447.9h0M235.1 448.9h0M184.3 455.1h0M200.5 451.4h0M190.3 459.2h0M219.9 448.9h0M202 451.4h0M214.9 455.2h0M194.5 448.8h0M188.8 455.1h0M244.2 461.5h0M184.6 480.3h0M197.8 450h0M247.3 496.6h0M235.5 450h0M236.9 455.2h0M236.7 455.7h0M226.5 448h0M219.2 490.6h0M209.8 455.1h0M248.6 449.5h0M204.5 447.7h0M213.1 471.5h0M206.8 449.1h0M231 451.3h0M170.1 449.2h0M212.9 479.5h0M233.2 469.7h0M225.2 467.3h0M198.5 450.2h0M220.2 450.4h0M191.9 483.8h0M171.1 454.4h0M246.6 459h0M197.4 449.7h0M194.4 468h0M175.5 452.5h0M223.6 450.6h0M212 464.9h0M203.1 455.3h0M217.5 447.7h0M173.7 470.4h0M210.7 454h0M226.2 451.4h0M241.9 447.7h0M189.4 479.3h0M238.9 454.5h0M234.6 468.1h0M182.5 458.4h0M248.8 479.6h0M182.8 488h0M189.2 454.2h0M225.8 447.7h0M199 449.5h0M246.6 500.3h0M203.8 497.6h0M206.9 469.1h0M198.8 473.9h0M248.6 472.4h0M179.7 466.9h0M199.6 448.1h0M226.8 455h0M239.5 462.1h0M223.2 450.7h0M224.8 516.5h0M192.6 451.1h0M237.6 474.3h0M173.4 451h0M217.3 488.2h0M172 457.5h0M247.9 470.6h0M207.6 450.3h0M189.4 448.9h0M248.8 459.1h0M234.8 513.7h0M200.5 456.1h0M193.7 485.7h0M243.3 451.1h0M214.4 507.4h0M170.5 449.8h0M219 449.8h0M249.8 447.7h0M188.3 470.7h0M242.2 449.4h0M192.3 486h0M246.9 489.2h0M200 455.1h0M189.8 448h0M202.1 450.7h0M247.4 475.3h0M218.8 451.5h0M184.3 458.1h0M233 451.1h0M249.3 482.1h0M226 449.2h0M201.7 450.7h0M191 482.6h0M234.8 483.9h0M180.9 450.6h0M192.3 454.5h0M178.4 453.2h0M235.2 501.1h0M220.3 459.1h0M229.7 447.8h0M188.2 449.6h0M182.9 466.2h0M220.6 462.8h0M238.4 489h0M178 457.2h0M232.8 522.5h0M220.7 449.9h0M189.5 505.3h0M219.4 465.1h0M241.1 496.1h0M217.9 451.1h0M177.3 448h0M172.7 472.8h0M185.3 482.8h0M198.3 462.9h0M197.3 470.6h0M206.5 479.5h0M227.6 450.9h0M173.5 449h0M222.2 499.5h0M233.9 512.7h0M203.7 449.8h0M224 449.4h0M235.3 506.8h0M229.8 455.4h0M215.3 457.2h0M191.5 456.6h0M226.5 476.5h0M197.3 447.8h0M241.3 459.9h0M207.4 452.8h0M233.6 485.4h0M202.8 502.2h0M248.2 459.5h0M172.7 465.4h0M235.2 450.1h0M243.1 450.3h0M196.4 448.5h0M248.7 452.5h0M213.2 448h0M201 455.9h0M205.7 449h0M202.6 472.4h0M230.4 447.7h0M205.8 454.1h0M203.8 455.6h0M200.1 515.3h0M197.6 453.5h0M177.8 449h0M210.5 476.3h0M219 474.7h0M207.6 451.5h0M223.1 449.2h0M228.9 449h0M228.7 482.3h0M215.9 500.7h0M235.3 461h0M193.6 449.6h0M248.4 458.7h0M220.5 519.4h0M222.4 493.9h0M204.8 490.3h0M201.8 508.6h0M213.3 450.9h0M206.5 478.4h0M188 450.8h0M221.1 464.9h0M227.8 456.9h0M247 453.1h0M176.4 448.4h0M232.7 489.9h0M179.2 452.1h0M238.7 451.7h0M218.5 480h0M239.4 473.1h0M236.3 453.2h0M247 458.1h0M225.9 507.4h0M190.4 515.6h0M203.5 453.1h0M181.7 450.9h0M223.6 458.9h0M248.4 509.9h0M185.9 460.2h0M187.9 448.5h0M179.9 452.4h0M232.7 453.1h0M216.3 522.7h0M248.2 449.9h0M185.1 448.4h0M225.1 448.7h0M214.6 447.7h0M169.2 481.6h0M215.9 468.6h0M200.2 452.6h0M233.7 451h0M247.4 489h0M198.8 449.6h0M249.3 504.4h0M206.6 522.1h0M216.1 474.2h0M235 452h0M236 447.7h0M213 471.5h0M190.3 456.6h0M208 455.7h0M209 450.2h0M198 448.2h0M232.4 471.3h0M230.3 515.6h0M221.7 457.3h0M203.7 451.5h0M221.1 448.4h0M217.3 450.3h0M189.6 463.9h0M244.1 511.4h0M220.1 499.9h0M203.4 473.7h0M192.2 453.9h0M182.2 451h0M211 455.9h0M183.5 495.6h0M203.2 500.7h0M248.9 473.6h0M208.5 457.4h0M216.7 453.9h0M224.3 469.4h0M221 468.9h0M231.8 467.3h0M190 450.6h0M207.1 501.7h0M192 478.7h0M233.3 450.2h0M200.3 459.2h0M244.1 476h0M172.9 476.4h0M172.5 449.1h0M247.8 452.3h0M199.7 459.6h0M211.6 493.8h0M247 455.3h0M215 466.4h0M244.4 459.3h0M224.5 476h0M199.8 447.8h0M230.7 448.1h0M218.6 469.1h0M201.7 511.1h0M232.8 448.5h0M215.1 467.3h0M202.6 462.2h0M179.9 449.2h0M215.5 457.9h0M198.1 465.7h0M235.3 449.5h0M236.3 450.2h0M244.3 448h0M208.7 508h0M183.9 451h0M199.9 461h0M184.9 470.7h0M180.7 452.1h0M226.1 461.9h0M181.7 462.4h0M215.3 450h0M183.1 447.9h0M231.2 463.4h0M199.2 448.1h0M210.7 459.9h0M215.4 448h0M193.1 452h0M188.6 504.8h0M183 479.7h0M186 476.1h0M207.2 515.3h0M178 450.9h0M224.2 469.8h0M190.2 463.6h0M239.6 461h0M201.8 470.6h0M201.5 463h0M188.7 460.5h0M194.6 447.7h0M247.3 503.4h0M193.8 465.2h0M199.1 480.9h0M219.5 490.3h0M187.1 456.6h0M175.2 448.5h0M219.1 452.2h0M192.4 492.4h0M220.5 449h0M208.1 452.4h0M196.8 454.6h0M204.2 463.9h0M224.3 453h0M210.7 459.1h0M247.8 516.2h0M207.8 478h0M178.4 452.5h0M186.8 459.6h0M234.8 447.7h0M182.2 507.8h0M224 460.4h0M237.2 509.4h0M177.4 461.8h0M201.4 468h0M220.6 451.1h0M202.8 447.9h0M204.8 455h0M208.7 449.2h0M188.8 453.4h0M240.3 485.4h0M218.7 478.5h0M205.1 450.6h0M215.8 454.5h0M229.3 477h0M213.6 448.9h0M178.8 455.8h0M184.6 491.5h0M223.8 449.7h0M203.1 454.5h0M191.6 481.1h0M220.6 481.5h0M247.5 463.4h0M194.3 450.8h0M245.2 451.6h0M191.4 479.4h0M202.8 449.6h0M175.5 498.6h0M201.4 464.9h0M225.7 450.6h0M192.2 486.9h0M207.7 451.1h0M209.6 447.9h0M173.9 470.7h0M214.6 480.8h0M219.8 494.9h0M180 450.3h0M199.2 455.6h0M178.3 453.6h0M212.5 467.1h0M174.2 502.5h0M217.9 485.9h0M174.5 450.1h0M199.3 489h0M249.8 467.2h0M241.3 451.4h0M232.9 452.4h0M187.3 484.6h0M202.4 456.4h0M246.7 502.5h0M189.9 465.2h0M242.6 456.6h0M198.6 447.7h0M227.6 470.7h0M219.4 485.6h0M230.4 455.1h0M205.9 490h0M245.1 460.1h0M201.8 449.7h0M202.1 486.5h0M238.1 493.8h0M182.7 447.9h0M214.9 463.7h0M190 492.4h0M179 450.5h0M238.2 498h0M232 448.1h0M209.6 453.6h0M203.3 470h0M234.6 447.9h0M184.3 448h0M215.8 454h0M216.3 452.5h0M220.5 453.7h0M240 464.9h0M190.1 454h0M238.5 466.5h0M225.3 450.5h0M196 463.6h0M173.4 447.7h0M217.9 482.9h0M227.9 519.5h0M183.8 503.1h0M216.7 464.4h0M200.8 459.7h0M244.6 458.6h0M217.3 461.2h0M240.2 458.8h0M208.1 449.7h0M246.6 448.1h0M235.4 481.3h0"/>
<path d="M230.6 475.6h0M170.4 448.4h0M210.2 447.7h0M232 467.5h0M179.3 508.4h0M249.3 492.9h0M212.7 496.5h0M233.3 451.8h0M221 449.5h0M228.3 467.6h0M169 450.3h0M222.6 465.9h0M208.6 456.8h0M198.7 457.4h0M184.7 458.7h0M235.8 496.6h0M213 476.7h0M210 450.8h0M229.6 506.8h0M175.4 449.3h0M185.9 462.9h0M216.1 478.3h0M172 453.2h0M219.7 506.3h0M249.3 451.6h0M225.3 455.3h0M227.9 506.7h0M187.8 475.9h0M210.1 451.7h0M175.6 465.3h0M249.7 483.6h0M220.5 468.8h0M175.9 450.1h0M193.3 480.4h0M231.4 449h0M174.3 456.5h0M238.3 453.7h0M247.1 455.9h0M247.4 459.3h0M185.7 454.9h0M175.7 480.5h0M207.5 455.4h0M200.9 454.4h0M204.1 452.3h0M232.8 466.7h0M221.2 449.4h0M208.3 458.7h0M183.9 472.7h0M221.1 454.6h0M227.8 456.3h0M198.7 493h0M246.1 486.4h0M211.5 449h0M192.8 451.7h0M178 458.6h0M172 452h0M189.3 477.6h0M221.1 469.5h0M201.5 496.4h0M186.2 450.3h0M243.9 453.5h0M200.6 454.2h0M222 450.1h0M212.6 475h0M207.3 456.8h0M249.3 518.8h0M245.3 478.4h0M214.5 448.1h0M223.6 479.2h0M210.2 452.3h0M247.7 489.8h0M231 507.4h0M228.1 466.4h0M248.1 466.6h0M187.2 468.7h0M204.9 447.7h0M206.5 450.4h0M199.6 447.7h0M193.6 452.8h0M219 495h0M247.2 468.3h0M202.3 456.6h0M170.1 449h0M222.8 448.3h0M217.5 449.1h0M181.5 489.3h0M246.6 463h0M247.9 519.2h0M217.6 448.3h0M225.4 453.7h0M241.9 471.4h0M220 457.5h0M198.2 451.4h0M190.4 473.8h0M198.4 447.9h0M190.6 478.6h0M179.4 447.8h0M174.1 448h0M199.4 470.6h0M232.8 462.1h0M211.1 456.3h0M209.6 456.5h0M213 448.8h0M201.7 454.4h0M237.6 459h0M238.3 453.2h0M227.6 447.7h0M181.7 460.9h0M198 450.2h0M229.2 460.3h0M203.1 470.6h0M246.4 457h0M205.1 459.5h0M190.6 487.2h0M249 489h0M177.7 450.5h0M198.9 448.9h0M179.1 476.8h0M226.6 457.5h0M213.2 449.1h0M248.3 483.6h0M222.9 449.6h0M177.1 471.3h0M227.5 451.2h0M248.1 454.1h0M212.6 488.4h0M231.5 448.4h0M213.9 456.2h0M169.3 466.8h0M222.4 448.2h0M237.5 449.4h0M201.3 473.6h0M220 477.3h0M241.3 449.1h0M229.4 474h0M229.1 450.5h0M176.3 451.6h0M249.4 455.7h0M185.6 455h0M184.9 462.2h0M213.6 457.4h0M172 451.2h0M223.2 468.3h0M211.4 450.2h0M231.9 451.3h0M175.1 454.4h0M188 456.3h0M249.3 457h0M225.8 452.2h0M227.9 460.7h0M180.6 448.6h0M205.4 456.7h0M198 453.6h0M197.3 449.1h0M246.6 515.5h0M246.6 460.1h0M183.5 507.7h0M169.9 481.6h0M193.8 469.8h0M247.4 452.9h0M186.9 448.5h0M246 450.3h0M191.3 459.9h0M236.6 454.1h0M188.1 452.3h0M190.9 451.1h0M220.7 447.7h0M178.6 447.7h0M206.3 451h0M177.9 476.7h0M203 466.8h0M194.8 493.6h0M235.7 460.3h0M216.8 449.1h0M182.8 448.2h0M248.1 502.7h0M196.2 461.6h0M186.7 450.7h0M206.7 470.2h0M211.8 465.4h0M196 453.1h0M237.1 463.4h0M230 473h0M202 451.9h0M209.5 454h0M179.1 460.9h0M229.5 447.7h0M195.5 466.9h0M201.2 469.3h0M207.9 448.9h0M204.9 477.8h0M198.3 454.9h0M224.8 458h0M188.7 448.2h0M205.7 463.8h0M175 454h0M177.7 455.3h0M214.7 483.6h0M181.6 453.1h0M223.5 454.8h0M226.9 518.1h0M207.2 449.4h0M211.7 449.6h0M188.1 447.7h0M179.7 471.1h0M192.6 448.3h0M187.2 466.8h0M187.2 447.7h0M216.2 449.6h0M188.1 449.6h0M203.3 493.8h0M215.4 462.8h0M198.1 453.5h0M213 451.8h0M195.2 448.8h0M231 447.7h0M186.3 451.9h0M176.8 460.6h0M207.6 448.6h0M177.3 449h0M247.5 461.8h0M249.8 517.3h0M185.5 454.4h0M229.5 458.9h0M234.9 513.5h0M201.1 493.5h0M235 464.6h0M239.9 494.5h0M192 450.7h0M239.5 450h0M249.7 467.8h0M201.1 450.7h0M193.4 456.1h0M201.8 466h0M204.1 463.6h0M188.7 469.3h0M227.3 452.1h0M232.5 460.5h0M227.3 495.3h0M180.6 451.6h0M243.8 462.2h0M210.1 473.3h0M231.8 457h0M236.1 479.4h0M187.2 485.1h0M229.5 454.1h0M238.6 462.4h0M191.3 480.9h0M240.1 459.3h0M233.7 494.5h0M195.7 452.4h0M247.5 474.9h0M197.9 451.1h0M221.8 460.7h0M194.3 485.8h0M176.9 447.7h0M208.7 485.4h0M195.8 472.1h0M203.6 498.2h0M188.8 451.7h0M247.7 458.5h0M174.2 456.1h0M227.7 455.8h0M228.9 459.1h0M229.2 453.6h0M244.6 450.9h0M208.1 449.2h0M186.9 460h0M195.5 456.6h0M194 448.9h0M208.4 453.2h0M213 452.1h0M182 449h0M176.2 448h0M217.3 473.6h0M181.3 453.7h0M231.1 448.3h0M196.8 457.1h0M208.5 476.7h0M229.5 474.5h0M181.4 479.1h0M210.4 447.7h0M217.5 487.7h0M247.5 447.9h0M175.2 468h0M224.6 496.9h0M232.3 453.8h0M225 448.2h0M171.1 450.7h0M170.2 468h0M171.2 486.9h0M202.5 457.8h0M175.6 448.4h0M199.1 457.3h0M245.6 454h0M248.7 459.2h0M193.3 457.5h0M197 447.9h0M195.5 520.3h0M175.5 449.6h0M198.1 509.7h0M203.7 454.1h0M175.8 471.3h0M190.2 472.1h0M191.9 456.3h0M206.2 461h0M194.1 505.1h0M206.4 448.8h0M233.6 451.4h0M204.4 452.7h0M173.9 456.6h0M208.5 452.1h0M185.1 464.5h0M185.8 453h0M238.3 448.6h0M238.3 464.4h0M224.1 455.5h0M175.7 457.6h0M176.1 453.1h0M227.7 465.9h0M180.8 454.3h0M245.6 504.7h0M205.8 490.1h0M240.2 473.5h0M248.8 485.4h0M191.1 468.1h0M218 522.9h0M170.8 486.6h0M209.3 449.5h0M223.3 448h0M193.6 481h0M227.7 483.2h0M204 485.6h0M224.8 478.1h0M209.2 449h0M180.8 482.6h0M204.5 457.5h0M178.8 449.3h0M248.7 466.3h0M207.4 449.5h0M246.3 449.7h0M220.7 454.3h0M190.6 493.5h0M222.2 470.2h0M208.1 448.2h0M214.5 456h0M207.2 463.7h0M182.2 448.7h0M246.6 450.1h0M221.8 448.3h0M247.2 464.6h0M233.7 488.8h0M176.7 478.8h0M171.4 471.9h0M217.2 461.3h0M173.6 455h0M196.6 460.4h0M229.7 460.9h0M192.9 476.1h0M246.2 463.6h0M229.4 456.5h0M206.4 448.7h0M201.1 465.3h0M205.5 448h0M192.9 449.5h0M213.8 447.8h0M236.6 452.1h0M220 451h0M220.8 464h0M211.2 456.1h0M248.9 478.7h0M195.3 449.4h0M224.9 474.7h0M202.9 452.2h0M192.5 464.1h0M169.1 449h0M217.3 449.1h0M173.8 468.7h0M248.1 463.4h0M210 462.4h0M201.8 482.4h0M203.5 457.4h0M233.3 450.4h0M220.1 448.9h0M247.5 515.3h0M209.7 456.2h0M191.9 461.3h0M207.2 447.7h0M249.7 516.3h0M206.4 486.5h0M188.9 452.2h0M209.9 453.5h0M176.8 475.9h0M178 468.7h0M243.6 486.3h0M210.9 449h0M236.1 486.4h0M177.6 484h0M223 451.8h0M193.2 466.4h0M177.8 472.1h0M230.5 459.9h0M208.9 448.1h0M227 491.3h0M224.2 454.4h0M186.2 449.8h0M215.3 450.4h0M225.9 519.3h0M228 487h0M206 467.5h0M203.8 465.4h0M206.7 454.1h0M203 449.6h0M234 508.1h0M212.3 475.4h0M194.7 488.2h0M243.8 464.3h0M187.1 513.3h0M248.9 471.8h0M215.2 462.8h0M193.9 509.1h0M200.8 473.2h0M199.5 462.1h0M219.2 487h0M172.6 455h0M249.7 509.8h0M200.1 479.7h0M231 449.4h0M244.6 505.7h0M228 512.1h0M184.9 497.6h0M219.6 469.9h0M241.1 449.1h0M173.7 467h0M201.2 447.7h0M198.7 455.6h0M227.2 457.5h0M243.4 450.6h0M220.1 456.9h0M237.7 448.3h0M169 448.4h0M177.4 464.6h0M223.3 447.7h0M242.7 507.4h0M181.8 458.2h0M211.1 454.1h0M191.8 450h0M237.5 451.9h0M220.7 467.1h0M219.2 484.6h0M249.4 451.6h0M188.5 480h0M247.8 451.1h0M226.3 450.4h0M172.6 451.2h0M188.8 459.4h0M214.8 506.2h0M216.8 455.8h0M186.6 447.7h0M195.5 457.1h0M248.3 454h0M232.3 502.3h0M238 452.7h0M228.1 486h0M215.3 447.7h0M200.3 451h0M187.8 448h0M185.3 458.4h0M207.1 448.9h0M191.6 512.7h0M242.3 496h0M203.7 455.6h0M238.5 502.8h0M204.2 451h0M234.4 501.3h0M245.8 454.9h0M224.9 447.7h0M178.1 449.4h0M183 477.4h0M206.3 447.7h0M237.8 478.2h0M222.6 449.6h0M231.7 517.5h0M200.1 464.8h0M198.9 461.8h0M228 463.3h0M189 453.7h0M179.2 459.2h0M219 450.2h0M192.3 449.5h0M205.8 452h0M247 469.2h0M220.1 482.8h0M173.6 447.7h0M247.8 456h0M240.7 457h0M210.7 455.3h0M179 482.7h0M172.3 453h0M225.2 451.6h0M247.5 452.6h0M184.3 454.9h0M194.8 451.8h0M226.9 479.8h0M239.2 519.3h0M183 462.8h0M200.5 482.9h0M231.8 484.8h0M225.3 460.9h0M189.9 448.8h0M248.3 454.9h0M243.7 486.7h0M191.3 499.9h0M172.6 447.7h0M210.5 472.7h0M239.8 467.7h0M217.1 467.2h0M224.1 450.2h0M206.3 448h0M222 519.1h0M194 468.1h0M178.6 447.7h0M246.6 449.3h0M249.3 455.6h0M247.4 469.5h0M197.5 474.9h0"/>
</g>
<path d="M168.7 447.7L168.9 449.4L170.6 451L176.4 456.4L183.5 461.6L190.5 464.2L199.9 465.8L209.3 467.7L215.1 467L218.6 463.5L223.3 461.6L230.4 459.2L237.4 456.4L244.4 452.9L248.2 450.8L248.9 447.7Z" fill="#000" fill-opacity=".45" stroke="none"/>
<path d="M169.4 447.7L170.3 450.8L176.4 454.1L185.8 457.6L195.2 459.9L202.2 460.6L211.6 458.8L221 456.9L230.4 455.2L239.8 452.9L246.8 450.8L248.4 447.7Z" fill="#04103a" fill-opacity=".55" stroke="#1458ee" stroke-width=".9" stroke-linejoin="round"/>
<path d="M168.9 447.7L169.4 450.3L171.7 451.7L177.6 453.4L183.5 454.5L195.2 456L206.9 455.6L218.6 454.5L230.4 452.9L242.1 451.3L247.3 450.3L248.7 447.7Z" fill="#1458ee" stroke="#1458ee" stroke-width=".8" stroke-linejoin="round"/>
<path d="M168.7 447.7L168.9 449.4L170.6 451L176.4 456.4L183.5 461.6L190.5 464.2L199.9 465.8L209.3 467.7L215.1 467L218.6 463.5L223.3 461.6L230.4 459.2L237.4 456.4L244.4 452.9L248.2 450.8L248.9 447.7Z" fill="none" stroke="#1458ee" stroke-width="1.1" stroke-linejoin="round"/>
<path d="M164 445V529.1H251" stroke="#000" stroke-width=".95" fill="none"/>
<path d="M165.3 529.1v1.8M188.4 529.1v1.8M211.5 529.1v1.8M234.6 529.1v1.8M164 447.3h-2M164 466.7h-2M164 486.2h-2M164 505.6h-2M164 525h-2" stroke="#000" stroke-width=".8" fill="none"/>
<text x="165.3" y="536.8" font-size="6.2" text-anchor="middle">0</text>
<text x="188.4" y="536.8" font-size="6.2" text-anchor="middle">3</text>
<text x="211.5" y="536.8" font-size="6.2" text-anchor="middle">6</text>
<text x="234.6" y="536.8" font-size="6.2" text-anchor="middle">9</text>
<text x="159.9" y="449.6" font-size="6.6" text-anchor="end">1.00</text>
<text x="159.9" y="469" font-size="6.6" text-anchor="end">0.75</text>
<text x="159.9" y="488.5" font-size="6.6" text-anchor="end">0.50</text>
<text x="159.9" y="507.9" font-size="6.6" text-anchor="end">0.25</text>
<text x="159.9" y="527.3" font-size="6.6" text-anchor="end">0.00</text>
<text x="145.6" y="489.5" font-size="6.4" text-anchor="middle" transform="rotate(-90 145.6 489.5)" textLength="98" lengthAdjust="spacing">Proteasomal C Terminal Cleavage</text>
<text x="210.7" y="543.6" font-size="7.6" text-anchor="middle" textLength="54.5" lengthAdjust="spacingAndGlyphs">Binding Affinity</text>
<text x="173.6" y="526.6" font-size="5.4" textLength="64.5" lengthAdjust="spacingAndGlyphs"><tspan font-style="italic">R</tspan> = − 0.23, <tspan font-style="italic">p</tspan> &lt; 2.2 × 10<tspan dy="-2" font-size="3.4">−16</tspan></text>
<clipPath id="c3"><rect x="284.5" y="444" width="84.5" height="83.5"/></clipPath>
<g clip-path="url(#c3)"><g filter="url(#bl)" fill="#000"><rect x="320" y="451" width="19" height="22" fill-opacity=".62"/><rect x="322" y="451" width="15" height="47" fill-opacity=".3"/><rect x="347" y="451" width="17" height="15" fill-opacity=".6"/><rect x="349" y="451" width="13" height="31" fill-opacity=".25"/></g></g>
<g clip-path="url(#c3)" fill="none" stroke="#000" stroke-width="1.55" stroke-linecap="round" stroke-opacity="0.46">
<path d="M359.2 448.1h0M356.6 482.3h0M328.2 450.9h0M341 453.8h0M328.2 454.3h0M359.2 462.2h0M345.9 448.6h0M339.5 456.7h0M353.7 470.9h0M343 449.9h0M333.7 457.6h0M350.3 449.9h0M331.5 449.8h0M323.2 448h0M354.1 448.1h0M334.2 468.1h0M333.1 483.8h0M349.4 449.5h0M353.2 448h0M360.3 455.5h0M336.9 482.1h0M353.5 456.2h0M326.2 465.5h0M326.2 474.3h0M331 449.5h0M314.4 494.3h0M304.2 507.2h0M353 460h0M332.6 479.6h0M319.9 487.8h0M325.9 471.5h0M355.8 476.8h0M335.3 455h0M314.4 487.8h0M327.9 479.9h0M341.8 468.1h0M327.8 448.2h0M337.1 459.3h0M330.3 449.3h0M350.5 471.9h0M331.2 454.9h0M352.9 468.4h0M333.8 448.1h0M362.1 449.2h0M353.9 470h0M327.5 503.1h0M337.7 454.6h0M337.5 483h0M321.8 474.2h0M356.8 482.9h0M334.7 455.1h0M329.2 471.6h0M330.1 458.2h0M303.9 481.9h0M329.3 522.7h0M337.1 455.5h0M330.4 451.5h0M351 450.4h0M331 450.3h0M324.7 455.2h0M333 489.8h0M359.7 474.3h0M313.1 480.9h0M357.2 467.7h0M310.9 465.2h0M342.3 470.5h0M338.1 454.8h0M305.6 470.8h0M360.2 451.2h0M355.2 448.3h0M329.5 448h0M330.5 454.1h0M338.2 472h0M345.4 457h0M302.9 501.7h0M335.2 456h0M349.5 465.9h0M327.4 457.9h0M342.9 481.9h0M296.8 504.7h0M319.8 478h0M355.2 448.9h0M327.6 494h0M299.6 472.2h0M331.4 449.1h0M320.5 471.1h0M354.8 450h0M328.7 465.7h0M354.8 451.9h0M332.4 496.3h0M335.3 465.9h0M300.2 503.6h0M325 453.2h0M327.9 491.2h0M351.5 448.3h0M326.2 451.6h0M357.7 462.2h0M324.7 481.7h0M320.7 456.7h0M350.7 477.5h0M321.9 456.6h0M349.6 472.3h0M336.5 462.3h0M352.2 460.1h0M330.9 456.4h0M351.7 476.9h0M333.3 469.5h0M355.9 454.1h0M357.4 463.1h0M329.5 494.3h0M347.4 477.3h0M334.1 449.1h0M306.2 489.5h0M355.2 451.1h0M352.3 473h0M348.1 448.5h0M337.1 450.6h0M353.7 490.3h0M355 456.8h0M326.2 449h0M337.8 452.9h0M329.9 454.2h0M324 495.5h0M327.3 503.6h0M334.5 452.1h0M344.3 486.7h0M340.9 506.2h0M328.8 463.1h0M328.8 484.8h0M353.8 451.3h0M326.9 457.3h0M355.1 450.2h0M304.9 492.4h0M308.2 486.2h0M326.2 460h0M330.6 448.8h0M347.8 454.8h0M346.6 452.9h0M346.6 466.2h0M324.5 462.6h0M337 448.3h0M345.8 475.5h0M333.8 486.3h0M334.1 504.4h0M333.1 449.3h0M342.1 452.9h0M356.8 468.9h0M328.9 449.7h0M340.3 448h0M351.7 449.8h0M316.9 469.2h0M348.4 453.5h0M350.2 448h0M353.5 471.4h0M335.4 449.2h0M328.9 449h0M356.5 448h0M359.1 455.5h0M320.1 490.6h0M360.6 449.1h0M345.7 448.7h0M354.5 474.2h0M334.5 456.4h0M350.4 450.4h0M349.6 454.3h0M325.1 455h0M336.7 472h0M334.1 465.4h0M358 448.3h0M334.8 453.3h0M357.6 452.6h0M314.6 470.1h0M326.2 491.2h0M299.6 476.8h0M355.2 474.4h0M332.1 482.3h0M352.3 449.9h0M347.1 455.1h0M325.9 483.1h0M316.5 454h0M362.2 449.2h0M316.3 518.8h0M314.5 468.6h0M310.3 468.2h0M316.2 479.7h0M351.5 452.5h0M356.7 451.8h0M358.4 451.8h0M362.4 452.2h0M329.5 450.4h0M309 478.3h0M333.5 466.4h0M350 448.8h0M333.1 473.1h0M324.6 449.2h0M320.1 507.5h0M318.9 468h0M328.7 456.8h0M328.6 465.1h0M360.1 449.2h0M333.7 448h0M326.7 490.9h0M324.3 448.5h0M333.3 496.4h0M338.9 455.3h0M364.6 457.6h0M312.6 478h0M353.6 475.5h0M327.4 478.1h0M337.8 465h0M326 473.6h0M324.1 503.5h0M308 482.3h0M335.5 456.2h0M359.3 455.2h0M326.5 475.5h0M327.2 476.5h0M330.1 448.6h0M350.7 465h0M331.3 485.3h0M332.4 456.2h0M324.9 449.8h0M339.1 491.5h0M321.2 454.8h0M330.7 450.4h0M356.8 473.5h0M358.1 450h0M330 448h0M353.7 451.9h0M330.7 487.4h0M332.1 454.9h0M352.5 474.7h0M318.6 466.5h0M359.8 448.6h0M309.6 478.2h0M318.3 482.1h0M319.1 457.7h0M328.9 498.8h0M355.9 459.4h0M311.8 486h0M317.4 483.6h0M359.9 453.4h0M335.7 458.6h0M357.1 458.8h0M349.7 468.3h0M349.1 458h0M332 482.4h0M328 474h0M353.6 462.8h0M308.3 479.9h0M333.8 484h0M339.2 449.1h0M327.1 448.2h0M312.7 498.2h0M354.5 495.4h0M329.3 450.1h0M357.1 451.3h0M328.7 453.6h0M328.6 453.8h0M349.2 450.5h0M350.3 449.3h0M351.6 472.9h0M334.6 448.5h0M354.3 475.1h0M337.3 455h0M332 449.1h0M329.7 448.9h0M361.1 450.8h0M323.2 472.2h0M326.1 505.9h0M349.1 458.2h0M333 452.3h0M326.9 449.6h0M334.9 518.7h0M325.5 449.5h0M354.3 469h0M325.1 483.2h0M332.7 467.3h0M350.3 461.4h0M353.7 458.7h0M333 511.7h0M357.1 481.3h0M330.4 491.1h0M335.7 451.8h0M310.6 467.6h0M308.2 506.3h0M335.1 452.4h0M341.4 453.8h0M350 468.6h0M327.2 480.4h0M353 453.6h0M327.9 463h0M327.5 462h0M356.6 453.8h0M356.2 481.8h0M330.4 476.5h0M361.1 488.1h0M348.8 467.8h0M345.7 473h0M333.1 448h0M331 476.7h0M308.8 469.4h0M355.8 453.2h0M326.8 459.2h0M353.8 469h0M354.5 450.6h0M330.9 452.7h0M356.1 473.6h0M331 453h0M360.1 457.7h0M328.8 454.9h0M321.2 453.1h0M353.7 470h0M329 456.6h0M332.4 454.3h0M333.4 450.8h0M328.3 498.7h0M323.3 479h0M329.8 481.4h0M350.7 461.4h0M330.3 460h0M339 500.2h0M360.8 459.9h0M358.9 453.4h0M339.4 454.3h0M324.9 452.6h0M296.4 477.1h0M326 450.2h0M332.5 498.9h0M315.6 464.7h0M349.2 449.2h0M363.6 467.1h0M336.3 455.9h0M359.5 474.2h0M326.5 449.5h0M348 450.3h0M352.4 456.5h0M320.6 467.9h0M320.8 467.9h0M310.3 487.4h0M300.8 488.3h0M331.8 464.5h0M348.9 448h0M333.8 454h0M324.4 450.6h0M327.5 473.7h0M335.8 452h0M338.1 449.3h0M326.7 452.4h0M310.8 479.6h0M332 470.5h0M357.9 473.8h0M356.2 449.8h0M316.1 477.8h0M319.4 512.5h0M322 457h0M328 448.4h0M332.7 451.2h0M295.3 479.7h0M320.3 479.1h0M328.6 452.2h0M326.3 474h0M330 485.5h0M334.6 463.1h0M348.2 448.4h0M325.2 449.3h0M323.4 449.5h0M358.6 453.8h0M323.9 448.5h0M361.1 448.5h0M328.3 448.2h0M310.3 472.2h0M334.4 450.3h0M359 449.5h0M329.9 474.3h0M355.2 474.2h0M354.1 449.3h0M303.9 495.2h0M359.2 462.6h0M351.1 475.7h0M335.3 468.5h0M328 453.4h0M351.6 450.2h0M350.4 467.6h0M303.7 499.2h0M329.2 464.8h0M329.5 449h0M340.4 450.6h0M335.3 451.2h0M328.9 451.2h0M327.8 491.5h0M328.2 448.5h0M328 497.7h0M327.6 452.6h0M360.3 480.7h0M356.8 459.2h0M299.9 491.8h0M332 448.6h0M334.1 451.6h0M331.6 462.5h0M349.1 449.6h0M334.7 449.8h0M331 450.7h0M328.2 453.4h0M311.7 473.1h0M356.9 449.4h0M329.4 452.3h0M332.2 448h0M323.1 476.3h0M329.6 449.2h0M331.5 449.7h0M298.5 508.5h0M330.4 449.2h0M327.4 455.5h0M312.6 495.2h0M321.8 464.1h0M346.4 448.9h0M321.8 463.3h0M325.6 459.2h0M323.2 472.6h0M307.3 513.7h0M354.5 450.1h0M332.7 448.5h0M355.7 451.5h0M357.6 490.8h0M349.7 450.6h0M328.4 448h0M332.4 448.6h0M337.2 458.5h0M351.2 457.5h0M297.2 483.4h0M339 462.3h0M315.5 474.5h0M335.5 465.5h0M328.5 452.5h0M327.3 457.4h0M329.6 448.9h0M353.3 452.3h0M351.2 452.9h0M360.2 448h0M330.8 501.6h0M327.1 456.3h0M323.1 479h0M355.6 465.1h0M356.9 465.3h0M338 452.8h0M331.5 449.4h0M354 462.7h0M330.8 510.9h0M323.5 474.4h0M355.4 449.4h0M328.9 472.7h0M354.7 448h0M320.1 458.3h0M357.5 469.1h0M329.9 448h0M351.9 451.4h0M333.1 506.6h0M362.9 457.4h0M334.1 448h0M324.6 448.1h0M341.6 491.6h0M334.6 473.5h0M320.8 488.4h0M333.3 472.9h0M356.8 453.6h0M365.3 449.9h0M346.5 468.4h0M332 448h0M313 490.2h0M362.5 480.4h0M341.5 449.6h0M324.3 466.1h0M331 449.3h0M321.2 483.2h0M342.1 467h0M328.4 460.6h0M350.5 460.3h0M361.3 455.9h0M324 452h0M329.7 448.8h0M333.7 451.5h0M336.6 489h0M347 455.3h0M326.2 455.5h0M320.2 461.3h0M359 464.9h0M330.8 456.9h0M354.2 449.7h0M331.9 448.5h0M352.7 456.5h0M360.1 451.7h0M315.7 491.8h0M352.1 449.2h0M320.7 473.6h0M354.2 449.1h0M352.8 464.8h0M330.7 448.5h0M331.6 448h0M324 461.1h0M319.7 494.6h0M310.2 486.2h0M359.7 448.8h0M334.6 484.6h0M332.4 454.9h0M323.4 482.7h0M346.7 471h0M348.3 458h0M349.9 454h0M324 453.8h0M360.5 448h0M359.9 448.5h0M302.5 484.8h0M329.6 516.9h0M352 450.2h0M350.2 453.9h0M348 496.6h0M336.9 452.6h0M334 448.7h0M321.1 462.1h0M322.5 453.7h0M326 452.8h0M354.8 448.4h0M335 466.8h0M324.6 454.2h0M351.7 453.7h0M327.6 462.6h0M352.1 458.9h0M321.1 475.3h0M330 483.4h0M321.2 469h0M325.5 448h0M321.6 455h0M319.3 475.7h0M327.2 449.5h0M334.7 474.3h0M327.8 450.6h0M359 451.7h0M328.7 465.6h0M316.4 474.3h0M322 490.5h0M334.2 463.1h0M330.5 459.6h0M330 473.9h0M330.6 477.8h0M358.6 497.5h0M328.8 494h0M323.9 483.4h0M351.4 474h0M330.8 485.5h0M353.3 454.2h0M311.4 463.9h0M353.7 450h0M327 471.5h0M334.6 450.3h0M354.7 471.6h0M306.6 485.5h0M321.9 490h0M327.5 500h0M317.6 506.2h0M334.9 511.2h0M312 472.1h0M328.9 453.7h0M317.7 477.6h0M328.4 448h0M357.6 450.2h0M337.1 451.9h0M361.6 458.5h0M351.8 448.9h0M358.7 461.3h0M355.4 455.6h0M319.6 465h0M352.4 448.8h0M327.6 491.7h0M326.2 469.4h0M321.2 523.8h0M332.4 456.6h0M351.7 451.6h0M330.5 448h0M359.8 448.4h0M309.4 477.1h0M323.8 463h0M333.7 499.2h0M326.1 475.1h0M336.5 455.3h0M303.8 509.7h0M321.6 488.5h0M331.7 475.3h0M326.6 452.4h0M325.4 484.6h0M359.3 451.3h0"/>
<path d="M331.5 504.7h0M325.7 448.7h0M321.2 475.6h0M352.8 474.4h0M354.2 450.6h0M324.8 451.3h0M337.2 448.4h0M363.1 461.4h0M331.9 466.8h0M311.1 460.4h0M344.3 470.4h0M323.3 458h0M311.9 475.3h0M328.3 499h0M328.1 460.3h0M334.3 486.8h0M353.6 448.8h0M322.5 448.7h0M337.9 450.6h0M334.8 464h0M329.5 462.7h0M338.3 449h0M323.7 464.3h0M329.9 463.4h0M335.6 476.1h0M358.1 452.9h0M331.9 469.5h0M325.7 456.1h0M356.3 449.4h0M335.5 461.2h0M329.8 449.5h0M359.2 474.9h0M290.6 517.9h0M356.8 471.3h0M360.7 460.5h0M317.4 516.1h0M345.9 455.7h0M330.8 454.7h0M316 513.9h0M295.2 504.9h0M324.5 452h0M322.4 479.9h0M335.8 484.9h0M325 475.3h0M334.2 450.4h0M332.1 490.2h0M350.6 451.2h0M335.2 463.9h0M330.5 449.6h0M355.5 449.9h0M325.7 508.9h0M324.7 493.1h0M338.6 455.2h0M338.3 464.2h0M335.5 460h0M353.7 449.7h0M355.3 449.8h0M333.2 471.2h0M352.6 486.6h0M340.5 448.9h0M336.7 479.8h0M348.5 456.6h0M344.5 452.3h0M359.2 451h0M309.3 479h0M350 452.3h0M322.1 452.1h0M327.3 481.4h0M350.5 451.3h0M308.9 474.4h0M327.4 451.9h0M333.6 448h0M333.1 476.5h0M322 487.9h0M324.9 457.1h0M345.6 464.8h0M324.7 484.9h0M331 457.4h0M330.1 456.5h0M333.8 491.2h0M331.6 467.9h0M363.9 477.3h0M347.2 458.7h0M332.5 448.2h0M353.6 448.9h0M362.9 452.4h0M326.4 462.9h0M357.2 452.3h0M324.6 457.4h0M323.5 451.7h0M353.9 452.3h0M327.7 454.2h0M350.7 448.6h0M340.6 449.5h0M333.8 483.1h0M350 449.9h0M344.2 459h0M354.8 450.1h0M350 451.7h0M360.7 471.6h0M326.6 451.4h0M326.6 460.9h0M351.5 451.7h0M326.8 457.5h0M333.3 466.3h0M328.4 467.1h0M324.3 498h0M359.1 461h0M331.2 463.6h0M352.7 467.1h0M335.6 452.3h0M320.2 459.2h0M359.5 448.8h0M329 457.7h0M358.3 465.1h0M321.1 461.7h0M337 456.2h0M335 453h0M325.5 453.3h0M327.3 449.8h0M305.3 482h0M326.8 451.4h0M295.2 499.1h0M319.7 482.8h0M329.3 458.4h0M352.7 463h0M331.6 449h0M325.6 484.9h0M334.4 450.3h0M332.8 463.6h0M364.7 449.1h0M324.1 474.4h0M355.6 454.4h0M330.9 462.6h0M328.1 475.1h0M319.8 459.9h0M328.4 474.8h0M315.6 495.4h0M319 478.5h0M328.9 469.4h0M300.9 483.6h0M347.8 463.9h0M293.8 523.6h0M332.3 454.1h0M356.8 452.2h0M323.7 479.6h0M332.7 449.5h0M320.4 464.2h0M326.7 448.5h0M347 449.1h0M328.7 471h0M328.9 466.1h0M327.5 458.7h0M334.3 453.8h0M356.5 483.8h0M324.1 449.9h0M332.7 458.4h0M319.5 492.6h0M334.5 448.5h0M336.5 513h0M328.2 478.8h0M338.9 458.8h0M326.4 451.3h0M355.3 456.6h0M326 517.7h0M346.5 500.9h0M351.4 457.5h0M351.8 464.2h0M329.5 448.2h0M314.1 496.9h0M359 450.3h0M329.3 505.8h0M329.1 448.5h0M327.2 462.4h0M349.3 448.1h0M331.2 454.6h0M359 448h0M325.4 463.3h0M324.7 450.1h0M321.8 455.1h0M324 448.7h0M352.8 470.5h0M330.9 457.9h0M352 460.8h0M353.1 449.9h0M309.1 489.9h0M342.2 450.9h0M310.6 490h0M341.1 474.8h0M332.7 457h0M358.2 449h0M332 485.9h0M347.8 449.1h0M333.6 455.2h0M327.8 461.3h0M348.6 486.6h0M335.7 459.2h0M358.9 448h0M349.7 451.1h0M346.4 450.2h0M329 457.1h0M329.3 465h0M323.3 453.9h0M321.7 455.9h0M331.5 450.3h0M307 490.8h0M325.6 511.7h0M353.9 453.2h0M307.3 481.6h0M327.7 458.6h0M332.9 451.2h0M316.1 463.4h0M322 472.4h0M332.4 468.2h0M312.4 489.6h0M327.1 458.3h0M358.1 448.6h0M332.6 451.6h0M352.5 464.2h0M346.8 453.5h0M325.2 464.2h0M328.3 462.4h0M340.3 453.9h0M356 452.1h0M323.8 462.7h0M321.5 452.5h0M347.7 450.4h0M317.6 458.1h0M327.1 457h0M355.2 453.3h0M340.8 453.1h0M323.1 463.1h0M349.5 448.4h0M323.4 507.7h0M350.7 458.5h0M355.3 449.3h0M329 454h0M326.5 452.4h0M355.5 462.5h0M352.3 465.1h0M326.1 455.8h0M335.8 448.8h0M315.6 463.1h0M327.4 487.3h0M364.2 454.7h0M332 453h0M344.1 473.3h0M358 463.4h0M345.7 448.2h0M319.8 520.2h0M323.4 455.7h0M344.2 463.3h0M356.2 458.2h0M329.9 456h0M353.9 448.8h0M301.5 478.3h0M335.9 462.7h0M331.7 504.5h0M332.9 448.4h0M330.3 485.4h0M355.2 453.6h0M329.8 511.4h0M329.8 448h0M328.3 474.2h0M337 488.8h0M353.5 448.7h0M320.6 489.8h0M349.9 474.9h0M315.7 495.7h0M320.7 457.8h0M356.5 457.5h0M354.1 464.6h0M332.1 477.7h0M326.4 451.3h0M331.5 457.1h0M329 454.9h0M330.6 450h0M306.3 500.5h0M350.7 448h0M323.1 457.1h0M351.4 452.6h0M347.2 450.1h0M353.5 448.1h0M363.7 449h0M340.2 489h0M352.4 452.2h0M344 454.1h0M322.5 485.2h0M331.3 483h0M357.5 454.3h0M343.1 470.7h0M328.6 502.9h0M323.2 451.5h0M356 451.3h0M363.2 452.6h0M334 470.5h0M329.5 457.6h0M353.9 453h0M328.4 486.6h0M343.4 449.3h0M353.3 448.6h0M290.1 496.8h0M355 451.6h0M355.7 449.5h0M349.4 463.2h0M320.6 452.4h0M329.5 452.5h0M356 479.2h0M329.9 451.7h0M355.8 449.3h0M334.5 459.9h0M323.8 451.3h0M320.1 516.9h0M327.3 473.3h0M326.6 455.4h0M332.8 449.7h0M339.1 450.1h0M333.8 452.7h0M329.9 481.4h0M316 476.5h0M323.8 449.4h0M351.9 482.6h0M329.8 457h0M347.8 463.1h0M325.3 452h0M303.8 522.4h0M329.8 450.3h0M353 467.4h0M327.4 477.6h0M341.9 489.8h0M334.9 457.3h0M353.9 450.3h0M354.6 451.3h0M309.7 487h0M360.7 451.8h0M331.4 448.8h0M325.3 461.4h0M349.5 458.1h0M325.7 484.5h0M324 507.9h0M335.1 451.4h0M334.6 449.1h0M349.1 460.5h0M340.4 449.3h0M332.4 481h0M355.4 461h0M337.2 448h0M357.4 458h0M316.3 482.5h0M346.4 450h0M332.5 455.5h0M320.1 461.9h0M329.4 448h0M321.2 459.7h0M350.5 454.2h0M332.8 467.7h0M356.9 449.3h0M326.3 460.7h0M343.1 466.8h0M334.6 504.9h0M319.2 509.9h0M311.5 459.6h0M327.7 474.9h0M332.1 461.5h0M350.1 456.1h0M363.6 448.7h0M320.6 478.9h0M351.8 479.9h0M354.6 457.7h0M352.6 452.8h0M326.1 454.4h0M330.4 476.6h0M325.5 457h0M328.3 483.7h0M347.2 452.7h0M330.8 448.8h0M354.6 450.1h0M344.5 450.2h0M328.5 470.6h0M355.4 470.6h0M350 473.2h0M323.5 500.2h0M333.4 465h0M330.6 451.3h0M351.3 448h0M329.7 448h0M328.2 448h0M349.1 451h0M338.4 515.4h0M353.9 475.9h0M355.4 485.3h0M325.9 450.8h0M332.1 454.5h0M355 448.3h0M356.8 449.3h0M351.8 453.9h0M326 453.7h0M338.4 448.7h0M318.9 451.5h0M345.8 458.4h0M365 449.7h0M356.8 492.4h0M309.3 504.8h0M323.5 509.4h0M299.6 482.9h0M355.3 472.8h0M358 455.6h0M328 464.9h0M332.2 490.4h0M322.9 491.2h0M335.3 469.6h0M309.8 506.5h0M336.6 454.8h0M325.8 449.1h0M304.1 503.1h0M355.4 455.1h0M343.7 450.2h0M321.1 504.9h0M362.9 449.9h0M294.6 477.9h0M323.3 458.1h0M351 450.2h0M330.9 453.7h0M337.5 463.3h0M313 475.6h0M329.8 458.9h0M356.7 488.1h0M331.7 472.4h0M322.8 466.7h0M349.9 456h0M325.5 458h0M305.6 463.6h0M328.8 468.7h0M353 450.5h0M331.3 480.7h0M324.1 453.7h0M320.4 458.5h0M353 459.8h0M327.5 448h0M321.4 458.4h0M347.9 477.3h0M347.8 469.6h0M315.4 488.3h0M323.8 466.4h0M359.1 448h0M328 451.8h0M339.7 489.7h0M327.9 453.5h0M351.1 453.4h0M321.2 460.5h0M326.7 449.2h0M324.5 448.9h0M355.8 449.9h0M349.5 454h0M335.6 448.7h0M334.5 453.2h0M360.3 448h0M302.1 515.5h0M335.9 461h0M353.9 449.1h0M300.3 474.6h0M324.8 449.1h0M324.9 479.1h0M334.7 448.7h0M352.5 489.6h0M328.2 468h0M351.1 449.2h0M314.6 471h0M335.4 479.3h0M346.3 489.4h0M317.7 499.3h0M330.5 448.6h0M356.5 480.4h0M327.2 449.6h0M353.4 448.1h0M331.4 467.6h0M333.1 455.7h0M329.3 450.2h0M360.7 451.6h0M363.4 448h0M353.8 455.4h0M323.8 454.9h0M327.8 497.1h0M316.7 480.6h0M356 448h0M326.6 492h0M324.4 458.9h0M331.9 491.4h0M328.6 452.1h0M335 469.7h0M351 466.9h0M328.1 488.3h0M323.1 469.2h0M335.7 502.8h0M328.5 453.4h0M345 456.2h0M326.6 458.5h0M322.8 484.3h0M358.2 450.8h0M361.1 485.6h0M326.6 513.5h0M307.4 488.2h0M355.4 448.4h0M363.5 448h0M329.4 450h0M334.3 454.2h0M351.6 448h0M328.3 463.6h0M331.7 486.3h0M360.7 457.3h0M354.7 461.2h0M330.6 449.1h0M326.5 448.7h0M330.6 453h0M343.9 467.1h0M330.3 467.5h0M324.9 459h0M330 459.1h0M353.5 455.1h0M342.8 481.2h0M359.3 448h0M322.1 454.4h0M358.3 448h0M323.8 460.7h0M353.9 467.5h0M339.2 517.7h0M356.1 448.9h0M328.6 510.1h0M352.1 456h0M313.1 479.1h0M307.8 486h0M316.6 475.8h0M321.8 458.4h0M328.3 476.3h0M330.9 457.1h0M329.4 472.6h0M310.6 475.9h0M345.8 454.1h0M348.2 448.9h0M350.2 479.8h0M323.7 457.8h0M327.9 494.6h0M335.8 460.1h0M351.4 464h0M320.2 487.2h0M322 457.5h0M316.8 467.5h0M358 480.8h0M347.9 463.8h0M327.1 490.7h0M333.7 449.6h0M334.9 466.7h0M305.2 480.6h0M352.2 451.2h0M332.3 469.6h0M324.3 448.5h0M320.3 480.3h0M361.9 448.3h0M314.6 487.6h0M360.2 448h0M358.1 456.8h0M318.5 467.2h0M334.5 448h0M328 448.5h0M324 507h0M327 468.1h0M332.5 492.3h0M357.2 448.7h0M305.8 481.6h0M345 449.8h0M350.3 449.1h0M317.8 479h0M359 463.7h0M351.2 448.1h0M331.1 448.4h0M324.5 452.8h0M359.9 448h0M330.9 448h0M354.4 454h0M289.7 490.5h0M325.4 448h0M354.1 448h0M356.6 448.8h0M295.3 522.7h0M324.8 466.3h0M357.3 451.8h0M327.1 450.9h0M328.3 464.9h0M336 448h0M334.2 460.8h0"/>
<path d="M330.1 503.2h0M332.1 448.4h0M327.4 461.6h0M337.7 455.3h0M365.2 455.6h0M301.6 513.1h0M352.1 476.1h0M334.2 451.3h0M331.8 486.4h0M332.3 499.6h0M331.9 449.8h0M341.5 481.8h0M312 482.8h0M332.1 448.7h0M356.6 457h0M332.3 458.4h0M304.9 495.7h0M352.2 477.7h0M360.8 449.1h0M350.2 459.2h0M317.1 486.5h0M337.1 475.5h0M325.8 462.7h0M309.3 488.4h0M356.7 471.4h0M323.8 488.6h0M333.5 469.5h0M327 498.2h0M323.4 504h0M326 448.8h0M326.6 459.8h0M348.8 452.5h0M350.3 482.8h0M326 455.4h0M311.1 478.8h0M321.5 451.9h0M335.3 465.9h0M321.1 461.3h0M322.5 451.8h0M331.2 450.4h0M324.1 451h0M354.2 483.5h0M350.2 450.1h0M320.9 464.8h0M314.7 467.9h0M335.1 450.6h0M349.3 464.4h0M319.8 496.7h0M329.4 448h0M354.3 479.5h0M330.2 448.5h0M324.6 450.5h0M324.4 451.8h0M357.7 479.6h0M295.2 484.4h0M354 448.9h0M355.7 481.2h0M356 448h0M296.6 519.8h0M317.4 463.3h0M357 450h0M350.8 453.8h0M353.4 458.3h0M351.4 455.3h0M304.2 478h0M318.4 486.2h0M328.2 449.7h0M330.5 491.3h0M329.5 448h0M315.5 460.6h0M331 449.5h0M342 449.4h0M313.4 490.2h0M333 463.2h0M357.3 463h0M329.3 450.3h0M326.3 480.6h0M354.8 482.3h0M334.7 472.8h0M350.6 455.6h0M354.4 457.1h0M318.4 464.5h0M356.6 456.3h0M330.6 460.6h0M328 459.1h0M328.9 451h0M344.9 455.3h0M339.8 518.3h0M335 451.9h0M362.7 459.4h0M316.6 467.4h0M329.5 452.9h0M332.4 508h0M354.7 451.9h0M337.5 448.7h0M346.7 457.1h0M328.5 449.3h0M309.6 476.3h0M352.2 450.7h0M350 449.2h0M327.9 469.7h0M315.1 465.4h0M330.7 449.9h0M353.8 481.3h0M333.7 463.7h0M330 474.8h0M319 477.8h0M328.3 466.2h0M326.8 467.8h0M337.2 470.9h0M333 448.3h0M327.6 461.4h0M349.6 459.1h0M326.6 451.4h0M353.1 448h0M355.3 448h0M363.7 455.7h0M351.7 453.1h0M332.1 454.1h0M323.7 475h0M336 482.4h0M322.6 463.8h0M357.1 471.7h0M315.5 506.7h0M333.5 455.6h0M350.9 464.9h0M326.7 454.3h0M360.4 454h0M335.4 490.7h0M317.7 488.4h0M354 472h0M315 470.9h0M332.1 448.7h0M321.9 462.1h0M334 480.1h0M324.9 449.3h0M309.9 498.1h0M310.5 465.3h0M352.5 461.5h0M343.7 451.1h0M332.7 462.7h0M336 448h0M351.7 461.2h0M302.2 523.2h0M326.1 496.8h0M332.6 449.6h0M323.2 461.8h0M350.1 452.4h0M352.9 460.2h0M333.2 450.8h0M327.7 450.4h0M312.8 482h0M337.3 483.2h0M361.8 454.5h0M331.7 475.7h0M333.8 492.2h0M348.4 451h0M320.2 468.3h0M326.2 472h0M314.4 487.3h0M330.5 448.4h0M333.5 467.3h0M334.5 448.2h0M334.2 450.8h0M326.6 466.8h0M326.7 452.9h0M320.9 470.2h0M326.7 492.8h0M327.5 458.6h0M358 448h0M313.3 488.8h0M335.8 495.2h0M352.5 473.9h0M327.2 469.7h0M352.7 455.5h0M326.1 448.5h0M339.8 483.2h0M353.3 454.8h0M335.4 516.8h0M312.3 504.8h0M354.2 480.4h0M352.6 448.8h0M330.4 462.1h0M325.9 448.8h0M336.3 468.2h0M311.8 519.1h0M358.1 462.8h0M355.7 499.9h0M331.3 448.1h0M332.2 488h0M337.9 448.5h0M351.1 453.2h0M336.3 460.1h0M314.8 499.1h0M331.2 448.5h0M314.7 457.4h0M356.4 452.1h0M349.6 451.3h0M335.9 448h0M355.4 448.6h0M353.6 448.5h0M330.1 468.3h0M352.3 473.5h0M327.1 475.4h0M354.3 484.3h0M351.6 456.1h0M303.3 474.8h0M345.6 460.9h0M333.8 466.5h0M353.4 464.6h0M316.8 466.6h0M333 453.5h0M316.2 484.3h0M337.2 501.7h0M331.3 465.1h0M334.4 509.1h0M335 452.4h0M317.2 470.7h0M336.9 480.4h0M357.7 450.9h0M334.2 464.5h0M352.2 449h0M308.6 505.6h0M347 455.3h0M325.2 467h0M336.7 451.4h0M352.5 448.2h0M354.5 448.3h0M337 449.1h0M355.5 452.5h0M299.7 484.2h0M322.5 456h0M331.8 449.9h0M328 449.9h0M349.6 448h0M324.4 456h0M296.1 499.6h0M321.6 496.9h0M330.8 452.8h0M333 484.7h0M335.9 454.2h0M335.2 455.1h0M329.8 460.2h0M340.7 448h0M328.1 484h0M317.1 485.3h0M353.5 469.3h0M356.3 448h0M324 450.9h0M331 473.5h0M347.6 448.2h0M330.5 501.1h0M359.8 484.8h0M320.3 460.6h0M338.4 462.7h0M346.9 487h0M331.1 463.1h0M360.3 448h0M349.3 448h0M350.8 468.5h0M307 471.1h0M308.6 473.2h0M334 470.7h0M316.4 459.2h0M321.4 483.1h0M362.9 450.3h0M326.1 448h0M329.9 463.4h0M328.9 474.4h0M358.7 451.7h0M332.1 448.2h0M325.7 449.3h0M324.3 452.5h0M351.6 449h0M335.6 451.3h0M331.9 448h0M329.6 450.7h0M321.1 457.7h0M352.8 459.6h0M292 518.6h0M316.9 513.1h0M322 471.2h0M332.6 448.3h0M363.3 480.9h0M328 450.2h0M336.9 448h0M353.7 481h0M332.6 453h0M348.4 457.4h0M325.5 455.5h0M361.4 461.1h0M318.2 470.8h0M323.6 448.7h0M307.2 495.6h0M331.9 449.7h0M322.3 455.3h0M325.5 453.9h0M344.8 450h0M326.6 491.4h0M328.6 448h0M337.6 460.9h0M328.6 462.6h0M348.9 450.1h0M320.2 459.4h0M314.9 461h0M308.7 484.3h0M298.7 496.4h0M309 482.8h0M351.9 448h0M355.6 453.4h0M359.9 482.9h0M333.9 448h0M334.2 488.2h0M363.5 490h0M325.9 451.3h0M314.4 498.6h0M330.7 501.4h0M349.8 456.8h0M319.3 461.1h0M354 450h0M327.7 468.3h0M350.9 467h0M354.1 456.1h0M356.2 467.5h0M319.4 469.2h0M303.5 499.3h0M331.8 450.7h0M335.7 448.3h0M326.1 456.1h0M350.9 449.3h0M329.6 470.9h0M332.1 469.7h0M324.6 485.9h0M325.2 449.2h0M329.9 452.7h0M336.3 489.9h0M357.4 455.3h0M324.7 457.2h0M303.5 487.8h0M314.8 463.7h0M342.7 471.5h0M315.3 471.9h0M303 492.1h0M335.9 453.4h0M333.2 456.8h0M310 479.6h0M300.6 475.6h0M330.2 489.1h0M304.4 490.3h0M325.1 449.7h0M333.5 450.9h0M314.2 503.4h0M319.8 517.3h0M328.6 483.3h0M329.7 466.8h0M314.4 460.9h0M329.4 454.5h0M328.4 450h0M332 448.4h0M358.2 457.3h0M333.2 490.3h0M334.7 448h0M359.1 450.4h0M330.4 497h0M339 481.7h0M336.4 451.2h0M322 458.4h0M332.2 462.9h0M334 451.1h0M334 471.9h0M331.8 469.9h0M341.9 489.3h0M349.8 457.5h0M337.2 455.1h0M348.9 462.2h0M352.5 448.4h0M326.5 469.6h0M325 450.4h0M350.9 472.1h0M334.5 466.3h0M349.1 463h0M353.5 450.7h0M321.5 456.9h0M327.4 485.4h0M353.1 448.9h0M313.1 485h0M352.4 457.5h0M306.5 514.1h0M350.4 479.4h0M348.5 453.7h0M329.1 448.6h0M329.6 450h0M330.5 510.1h0M333.7 450.9h0M319.8 484h0M325 453.7h0M352.9 493.6h0M331.9 468.3h0M294 520.3h0M330.1 451.3h0M326.6 450.6h0M343.6 454.6h0M338.9 448h0M357.8 466.2h0M344.9 451.8h0M326.1 494.1h0M342.5 450.2h0M338.6 460.4h0M344.8 467.5h0M331.6 506.2h0M364.3 448h0M329.5 483.4h0M331.4 480.1h0M326.8 490.1h0M317.9 479.7h0M357.1 449.7h0M336.7 461.8h0M345.4 455.8h0M329.2 473.6h0M352.2 461.8h0M365.7 459.4h0M349 474.8h0M347.9 448.3h0M327.2 448.6h0M340.4 456.9h0M354.2 448h0M312.7 469.7h0M328.7 509.7h0M348.4 449.1h0M351.3 452.5h0M332.5 489.7h0M297.3 510.1h0M330.5 453.1h0M330.6 455.2h0M354.9 475.1h0M355.7 487.7h0M357.3 450.8h0M328.5 451.4h0M316 471.3h0M327.4 478.4h0M353.3 449.3h0M331.3 457.4h0M339.4 464.2h0M357.7 450.4h0M331.1 452.1h0M331 449.4h0M302.3 506h0M337.6 459.7h0M321.5 495.8h0M313.7 459.5h0M309.5 482.7h0M334.6 458.3h0M348.8 456.3h0M334 448h0M348.3 453.6h0M331.1 484.3h0M345.2 461.5h0M352.1 448.6h0M348.7 497.5h0M352.9 448.6h0M313 468.4h0M328.1 490.6h0M335.3 498.1h0M352.1 458.9h0M318.9 460.2h0M329.5 450.7h0M333.8 450.8h0M357.6 459.1h0M337.4 465.6h0M349.4 476.8h0M334.1 467.4h0M330.1 480.2h0M330.6 507.9h0M348.7 450.3h0M355.1 484.7h0M335.9 453.3h0M327.9 448.2h0M334 448h0M351.5 451.1h0M327.8 496.9h0M327.7 496.6h0M353.5 455.5h0M307.6 491h0M319.3 498.5h0M305.6 507.3h0M334.9 507.8h0M358.1 456.4h0M361.4 451.5h0M331.6 454h0M315.6 475.9h0M326.4 522.3h0M351.4 491.4h0M352.4 458.1h0M337.8 453.1h0M323.3 500.9h0M327.2 448h0M354.4 449.5h0M321.2 463.8h0M333.8 448.5h0M359.9 451.1h0M342.8 457.1h0M331.1 449.7h0M362.5 470.4h0M352.1 464.3h0M321.7 454.4h0M349.7 462h0M356.9 451.6h0M292.2 523.6h0M350 451.7h0M324.2 465.2h0M350.9 478.6h0M360.2 461.9h0M339.5 504.4h0M349.3 448.4h0M363 458.2h0M323.1 474.2h0M333.9 448h0M337.6 468h0M312.3 514.9h0M329.6 459.4h0M358.5 471.4h0M333.8 455.7h0M332.2 451.7h0M323.7 457.6h0M346.9 463.2h0M319.9 468.7h0M328.5 465.6h0M321 460.1h0M360 452.3h0M349.2 449.2h0M334.8 449.4h0M311.9 480.8h0M345.8 472h0M350.2 449.8h0M301.5 483.7h0M351.5 483.1h0M342.5 478.6h0M330.9 464.7h0M352.3 449.8h0M322 455.7h0M326.4 471.8h0M323.3 461.9h0M322.8 453.8h0M319.6 504.9h0M356.2 448h0M331.4 459.1h0M356.8 449.1h0M314.5 488.3h0M350.8 455.5h0M323.5 454.8h0M323.9 450.3h0M357.6 474.7h0M324.4 452.5h0M349.2 453.6h0M333.3 448.1h0M330.8 478.3h0M328.6 454.8h0M324.7 463.9h0M354.2 449.5h0M351.7 448h0M344.8 456.6h0M337.4 465.4h0M322.4 466.3h0M337 450.8h0M339.6 448h0M331.5 452.1h0M327.9 450h0M354 449.3h0M350.6 456.7h0M330.9 500.2h0M335.3 450.3h0M345.6 462.6h0M350.7 485.1h0M326.5 459.1h0M322.4 468.2h0M351.6 451.8h0M348.8 463.3h0M328.3 448.7h0M329.9 461.3h0M357.9 460.5h0M307.1 501.4h0M319.4 457.4h0M329.8 452.2h0M301.3 520.9h0M332.9 509.5h0M336.7 499.6h0M324.4 456.4h0M357 467.1h0M346.2 451.2h0M358.2 452.6h0"/>
<path d="M358.5 449.5h0M352.2 448h0M328.6 459h0M303.3 513h0M329.2 454h0M345.3 448h0M335.7 450.8h0M324.3 495.1h0M331 452.5h0M325.8 501.9h0M339.1 452.4h0M343.1 457.4h0M327.5 493.9h0M303.8 509h0M325 448h0M359.1 473.9h0M332.1 495.9h0M364.3 449.8h0M329.1 484.3h0M338.9 449.1h0M323.2 455.8h0M325.3 484.6h0M335.5 459.3h0M332 476.7h0M334.9 512h0M322 480.8h0M355.6 472.3h0M320.7 473.6h0M348.7 500.4h0M351.8 462.6h0M328.1 478.1h0M349.5 452.7h0M312.5 477.4h0M350.1 462.5h0M335.7 449.8h0M326.6 491.2h0M335.7 453.9h0M321.1 516.8h0M338 449.3h0M347.5 460.3h0M327.1 449.4h0M327.2 483.4h0M336.8 448.1h0M351.1 450.4h0M330.8 475h0M310.6 467.2h0M351.4 474.2h0M362.8 477.1h0M347.9 483.4h0M353.8 449.1h0M321.2 460.7h0M357.1 479.7h0M352.2 451.7h0M323.5 509.9h0M301 487.6h0M352.1 454.3h0M325.1 450.1h0M356.2 450.5h0M313.3 510h0M354.4 454.2h0M322.8 456.4h0M357.7 484.3h0M354.3 463.7h0M334.2 458.9h0M331.6 463.7h0M331.1 451.8h0M331.9 512.7h0M338.4 451.7h0M332 484.8h0M312 484.4h0M326.7 463h0M364.4 466.1h0M334.1 498.1h0M349.7 453h0M320.9 464.4h0M347.4 487.4h0M337.5 473.2h0M325.7 464.3h0M322.5 451.2h0M334.3 453.6h0M322.9 460.7h0M356.9 454h0M357.4 464.2h0M313.7 468.4h0M351.7 479h0M347.6 457.3h0M355.1 468.4h0M333.9 496.3h0M334.6 475.4h0M353.3 475.3h0M338.4 478.8h0M344.8 475.6h0M326.2 507.3h0M353.2 450.4h0M334.5 453.4h0M323.5 449.6h0M349.4 464.6h0M326.7 450.3h0M320.8 459h0M332.3 470.5h0M332.5 452h0M326.5 474.3h0M353.8 448.2h0M319.4 480h0M320.5 493.2h0M332.5 450.9h0M335.9 484.5h0M304.9 508.3h0M327.7 463.3h0M301.3 479.7h0M362.5 463h0M356.5 448.5h0M319.4 464.5h0M358.5 470.2h0M324.6 452.9h0M318.9 478.3h0M309 495.8h0M351.1 452.1h0M351.2 496h0M330.4 449.4h0M322.2 460.5h0M331.4 501.2h0M350.5 448.9h0M308.8 479.7h0M354.4 449.9h0M331.4 448.8h0M332.8 454.6h0M323.1 459.3h0M332 461.6h0M296.9 499.1h0M326.7 495h0M348.8 480.9h0M348.5 465.4h0M357.5 469.9h0M355.3 448h0M318.1 465.9h0M333.5 480.7h0M329.9 475.6h0M351 450.2h0M319.4 454h0M331.9 486.1h0M331.1 449.3h0M316.6 475.2h0M356.5 467.8h0M315.8 476h0M353.1 451.6h0M331.2 456.2h0M328.4 448.4h0M313.1 505.5h0M327.1 460h0M351.9 465.6h0M352.7 470.3h0M323 520.8h0M319.6 464.8h0M329.9 471.7h0M352 448h0M324.7 453.8h0M305.7 466.1h0M329.6 470h0M329 448.4h0M329.8 475.8h0M325.3 452.2h0M324.2 478.1h0M360.9 468.2h0M327.6 450h0M329.9 465.1h0M365.4 450.1h0M321.2 497.8h0M322.8 450.9h0M336.9 450.9h0M308.9 461h0M321.4 469.3h0M349.1 458.4h0M349.2 454.6h0M329.3 452.1h0M313.6 476.7h0M332.4 462.3h0M342.8 478.1h0M358.1 448h0M325.7 448h0M321.9 449.2h0M341.7 450.3h0M330.6 453.6h0M345.6 471.8h0M358.2 448h0M343.4 460.3h0M350.6 450.7h0M347.7 464.3h0M327.4 470.7h0M333.5 470.5h0M307.6 509.9h0M326.8 472h0M327.5 453h0M320 478.8h0M357.5 453.8h0M355.8 465.3h0M335.6 468.7h0M315.5 473.9h0M315.3 503h0M356.8 453.3h0M323.3 473.6h0M323.3 469.7h0M330.7 488.1h0M362.2 450.5h0M331 453.2h0M333.1 453.9h0M352.6 450.4h0M335.6 460.8h0M333.5 452.9h0M353.9 451.8h0M361.2 451h0M327.2 499.2h0M326.3 448h0M353.2 457.8h0M352.9 450.9h0M332 452.5h0M335.2 452.1h0M325.5 466.9h0M324.5 451.6h0M337.8 489.9h0M325 471.2h0M361.3 448h0M352.9 450.1h0M340.7 450.6h0M324.2 472.6h0M327.8 485.5h0M334.8 462.8h0M333.6 451.3h0M332.7 461.3h0M357 452.8h0M352.4 451.1h0M330.8 450.9h0M349.1 448.6h0M319.1 505.2h0M327.9 465.7h0M352.1 461.1h0M331.8 461.7h0M357.4 464.3h0M353.9 457.9h0M363.1 448h0M352.9 450.7h0M303.9 481.7h0M333.7 458.8h0M323.4 455.1h0M351.2 450.1h0M348.3 465.8h0M352.4 452.7h0M338.7 495.8h0M310.1 489.5h0M317.4 464.5h0M353.9 451.2h0M363.8 452.1h0M333.2 454.5h0M321.9 473.1h0M340.4 461.7h0M328.7 457.7h0M322.4 472.7h0M332.6 509h0M350.4 454.8h0M361.7 469h0M358.2 474.3h0M326.9 448.5h0M340.6 485.7h0M347.7 495.4h0M328.9 451.2h0M353.1 450.6h0M358.3 479.2h0M347.8 466.1h0M359.2 454.1h0M320.1 454h0M355.8 477.6h0M327.2 490.4h0M337.7 471.5h0M339.3 461.1h0M357.1 459.9h0M355.2 464.8h0M352.5 473.5h0M358.1 487.1h0M332.8 454.5h0M329.9 463.4h0M334.9 490.6h0M358.6 453.7h0M352.8 453h0M331.2 459.5h0M349.2 473.1h0M321.8 472.5h0M321.9 487.3h0M354.7 455.3h0M298 506.6h0M327.2 491.5h0M323.6 503h0M317.8 492.6h0M332.2 478.7h0M307.7 495.2h0M324.1 448.7h0M349.3 457.8h0M359.9 453.3h0M303.4 481.1h0M316.1 504.5h0M335.8 448h0M327.9 477.6h0M364.9 449.8h0M326.4 493.2h0M323.4 465.3h0M325.4 504.6h0M336.6 464.1h0M364.3 448h0M337.6 467.5h0M357.4 457.3h0M334.7 452.9h0M326.6 480.9h0M324 492.9h0M334.9 448h0M355.9 448.2h0M306.4 481.4h0M331.5 470.5h0M319.3 499.4h0M344.3 483.2h0M351.8 451h0M350.2 466h0M328.5 523h0M334.3 466.4h0M307.3 486.1h0M330.1 464.6h0M349.5 487.2h0M335.9 463.6h0M304.4 502.1h0M333.8 462.8h0M326 451.4h0M340.7 463h0M315.1 475.1h0M356 448h0M340.3 449.4h0M318.9 486.2h0M300.3 467.5h0M309.6 494.1h0M333.7 497h0M328.8 458.7h0M330.1 451.7h0M315.8 455.8h0M327.9 448.3h0M322.1 458.1h0M354 453h0M359.1 467.7h0M329.1 465.7h0M308.1 476.9h0M360.4 451.7h0M352.5 464.9h0M332 450h0M348.9 491.6h0M328.8 466.4h0M334.5 457.9h0M336.5 472.5h0M305 503.7h0M335.9 451.6h0M319.1 461.8h0M328 450.8h0M325 449.9h0M325.1 454.4h0M352.7 464.8h0M332.7 458.5h0M313.9 461.2h0M354.9 450.5h0M334.8 449.8h0M317.5 465.1h0M330.8 483.4h0M328.4 455.7h0M331.8 483.3h0M335.2 448.8h0M319.9 463.7h0M322.9 495.3h0M358.8 452.7h0M330.1 460.8h0M353.3 500.3h0M322.9 456.8h0M324.3 455.8h0M330.2 477.5h0M344.4 449.3h0M348.7 456.7h0M355.7 454.4h0M337.3 458.6h0M323.1 451.2h0M331.4 470.5h0M355.4 453.3h0M334 451h0M334.4 449.4h0M353.6 448.5h0M347.9 452.3h0M339.5 456.5h0M354.4 493.4h0M352.3 449.3h0M322.9 449.7h0M352.5 461.2h0M355.4 461.4h0M354.8 448.7h0M329.9 478.1h0M322.8 452.4h0M335.2 521h0M327.5 451.3h0M364.2 449.1h0M354.3 450h0M352.9 456.1h0M307.3 523.6h0M358 464.2h0M352.9 466.3h0M349 455h0M327 456.8h0M326.7 459.5h0M320.9 460.9h0M317 489.9h0M328.4 464.2h0M322.5 451.5h0M353.2 451.5h0M354.9 449.4h0M328.1 455h0M320.7 458.2h0M311.6 520.3h0M328.3 456.9h0M335.9 453.5h0M351.3 461.8h0M304.7 502.2h0M352.7 485.7h0M309.3 493.9h0M356.4 453h0M334.9 463.9h0M332.8 456.3h0M324.2 472.7h0M345.3 451.6h0M309.6 481.1h0M330 450.3h0M325.9 448.8h0M357.1 448.4h0M334.2 466.2h0M310.8 471h0M353.5 448h0M331.1 504.6h0M350.6 448h0M361.5 449.1h0M332.3 451.1h0M345.8 454.2h0M327 451h0M359.3 457.9h0M333.6 497.3h0M354.8 450.8h0M332.5 465.3h0M328.7 450.8h0M335.6 459.5h0M325.3 494.8h0M325.3 449.1h0M358.6 449h0M358.3 455.1h0M322.3 470.4h0M310.2 479.3h0M325.2 478.4h0M351.7 448h0M296.1 490.5h0M353 452.6h0M302.9 494h0M314 467.5h0M332.9 452.4h0M350.9 470.1h0M358.8 482.1h0M359.2 456.8h0M331.5 450h0M328.1 516.9h0M351.4 462.2h0M360.9 459.9h0M334.7 452.6h0M322.2 453.9h0M331.4 450.8h0M350.8 449h0M326.5 448h0M351.9 460.6h0M356.1 464h0M332.9 504h0M335.4 448.1h0M330.7 473.2h0M354.1 448.4h0M357.4 449.3h0M334 479.5h0M361.7 460.3h0M352.8 460h0M329.8 449.3h0M329.4 448.4h0M348.9 487.2h0M309.8 492.3h0M331.6 448h0M343.7 475.1h0M339.2 450.5h0M335 450.7h0M349.9 461.1h0M332.4 452h0M363.4 491.8h0M350.2 479.5h0M354.3 476.9h0M346.5 456.8h0M319.5 459.7h0M326.7 452.8h0M317.5 481.7h0M322.6 453.2h0M327.9 448h0M334.2 486.2h0M353.5 478.4h0M329.5 478.1h0M352.2 490.2h0M313.1 492.1h0M331.6 471.5h0M330.1 451.1h0M328.8 450.3h0M330.5 449.2h0M357.7 448.3h0M330.3 449.3h0M299.7 516.1h0M332.4 452.8h0M350.6 450.9h0M355.1 461.7h0M341.4 474.9h0M332.8 480.4h0M325.7 456.5h0M317.4 461.4h0M355.2 449h0M352.6 448.4h0M330.3 453.5h0M354.6 451.9h0M351.3 460.3h0M340.5 461.3h0M353.5 449.6h0M352 456h0M328.5 497.4h0M313.9 476.8h0M354.8 451.5h0M346.3 478.5h0M327.8 452h0M355.2 451.3h0M335.6 472.8h0M327.2 449.2h0M328.3 457.3h0M326.2 455h0M359 448h0M329.7 449.5h0M326.7 477.6h0M353.1 468.5h0M328.7 448h0M339.6 460.5h0M356 449.1h0M357.7 467.6h0M330.3 451.5h0M330.2 454.6h0M340.7 460.9h0M320.4 468.1h0M333.6 496.9h0M298.2 496.7h0M327.4 448.3h0M326.2 455.2h0M330.2 451h0M352.9 449.7h0M348.8 459.2h0M344.1 448.9h0M331.7 481.1h0M333.2 451.3h0M350.7 454.4h0M328.8 502.6h0M330.6 456h0M332.1 451.9h0M322.1 487.7h0M338.8 494.2h0M330.7 499h0M352.1 449.6h0M329.1 467.9h0M360.2 453.9h0M331.7 450.7h0M326.9 453.2h0M331.3 449.7h0M359.5 451.3h0M357.6 458.9h0M327.2 462.3h0M332 457.7h0M348.8 448h0M300.9 514.9h0M354.3 463.4h0M355.7 448h0M356.6 475.5h0M337.5 448.1h0M330.2 458h0M320.2 482.4h0M330.9 473h0M337.6 470.7h0M327 491.3h0M349.1 488.4h0M354.2 448.4h0"/>
<path d="M357 455.1h0M333.1 469.1h0M326.8 450.5h0M358.5 498.8h0M305.9 508.6h0M317.6 460.6h0M332.9 466.2h0M354.5 478.7h0M351.9 471.6h0M321.6 484.6h0M319.9 488.8h0M329.2 454.1h0M314.3 497h0M326.7 452.1h0M355.4 468h0M297.5 483.1h0M329.3 450.1h0M318.8 464.2h0M356.8 454.1h0M352.4 448.1h0M316.5 485.9h0M328.4 448h0M322.6 457.7h0M335.5 451.2h0M329.1 448h0M323.9 449.3h0M328.4 450.3h0M327.6 448.6h0M338.2 473.2h0M350.5 477.8h0M355.6 449.5h0M328.4 464.5h0M343.6 448.4h0M313.5 489.3h0M313.8 495.2h0M325.2 453.3h0M323.1 482.8h0M331.7 450.5h0M310.4 481.5h0M308 522.7h0M327.6 468.2h0M318.9 511.5h0M334.7 454.4h0M330.5 466h0M331.7 470.7h0M362.6 454h0M364.8 458.7h0M357.5 454h0M327.4 448h0M332.6 489.4h0M356.5 448h0M326.7 449.5h0M317.3 470.9h0M363.7 454h0M359.7 448.9h0M327.5 452.8h0M350.7 468.1h0M362.7 448.4h0M328.5 472.1h0M318.3 456.5h0M352.5 448h0M330.5 518.9h0M321.4 464.6h0M347.9 459.2h0M356.7 467.2h0M334.6 453.7h0M323.3 453.8h0M332.8 460.3h0M355.2 453h0M335.7 448.4h0M346.7 449.8h0M331.3 451.9h0M319.8 460.5h0M335.6 509.6h0M330.1 467.1h0M351.7 494.9h0M332.7 496.6h0M329.2 460.7h0M354.8 480.3h0M354.8 451h0M330.3 462h0M354.8 451.5h0M353.4 450.5h0M350.5 466.9h0M320.4 467.7h0M352.1 455.7h0M333.7 493.2h0M327.7 480.4h0M325.2 455.4h0M356.8 455.7h0M327.1 451h0M327.1 461.4h0M364.8 450.4h0M330 452.5h0M314.3 488.1h0M331.4 452.5h0M327.2 487.4h0M359.6 448h0M325.1 469.8h0M312.8 478h0M312.6 483.3h0M330.6 482.2h0M351.9 461.6h0M313.7 475h0M332.5 448h0M360.8 462.6h0M335.7 464.3h0M334.2 505.6h0M349.1 448h0M348 459.6h0M323.5 448h0M356.9 465.9h0M354.9 451.6h0M337.5 512.8h0M324 448.3h0M328.4 492.4h0M338.9 481.3h0M328.6 479.7h0M330.3 454.7h0M354.6 450.8h0M329.9 478.4h0M359.1 455.6h0M346.1 454.8h0M352.3 468.4h0M323.6 490h0M361.1 454.9h0M357.4 454.3h0M351.7 473.9h0M337.9 452.7h0M340.5 456h0M325.4 448h0M326.3 450h0M325.6 490h0M332.5 451.5h0M335.3 492h0M293.3 504.5h0M334.5 482.7h0M293.7 499.3h0M356.3 453.4h0M326.2 502.7h0M339.6 482.7h0M333.1 482.6h0M328.8 452.3h0M324.1 450.1h0M334.7 474.5h0M326.8 499.7h0M322.5 448.8h0M325 492.2h0M329.1 448h0M361.4 448h0M333.7 512h0M325.1 449.2h0M337.4 451.3h0M350.4 448.9h0M327.7 455.3h0M349.7 451.2h0M355.6 452h0M323.2 515.4h0M329.5 448h0M323 486.8h0M338.4 448h0M325.5 499.5h0M331.1 521.5h0M327.1 467.1h0M330.8 450.5h0M354.5 451.6h0M315.4 461.4h0M317.5 460.4h0M356.6 452.3h0M329 454.6h0M322.1 456.6h0M321.4 466.2h0M330.1 472.3h0M321.5 469.7h0M319.4 516.1h0M328 448h0M327.9 498.8h0M330.6 455.5h0M320 471.4h0M350.8 471.7h0M351.2 464.5h0M297.9 505h0M353.5 455.1h0M322.4 465.8h0M333.1 450.4h0M333.5 500.2h0M340.6 472.7h0M335.1 449.4h0M319.5 495.8h0M336.2 449.2h0M362.1 472.9h0M328.7 454.8h0M307.6 485.7h0M327 449.1h0M357 474.9h0M310 471.3h0M337.2 476.2h0M328.5 454.1h0M330.8 449.4h0M361.2 462.2h0M330.2 491.9h0M349.3 449.3h0M333.8 456.1h0M335.9 468.1h0M320.3 478.7h0M329.1 450.5h0M348.8 466.9h0M329 452.9h0M318 513.1h0M352.9 448.2h0M356.6 448.9h0M326.4 456.4h0M356.5 450.6h0M358.1 472.2h0M327.1 449.8h0M328.5 452.6h0M321.6 454.8h0M324.3 453.6h0M321.3 466.1h0M336.2 496.1h0M356.4 471.7h0M335.1 456.6h0M341 486.7h0M330.8 458.6h0M352.3 451.8h0M353 484.8h0M323.6 491.8h0M351.5 461.4h0M332.8 450.7h0M329.3 456.3h0M328.1 449.1h0M346.2 450.2h0M317 472.2h0M339.9 450.1h0M329.9 453h0M358 452.9h0M342.9 448.2h0M349.5 449.2h0M326.7 485.2h0M358.1 450.4h0M358.6 470.3h0M331.1 449.6h0M333.8 492.8h0M322.4 481.7h0M338.5 462.9h0M322.6 455.5h0M320.6 504.9h0M315.8 478.7h0M329.4 455.9h0M329.8 448h0M331.2 450.1h0M346.3 454.7h0M349.7 473.8h0M356.2 450.9h0M333.3 472.6h0M339.7 481h0M342.2 448h0M351.2 453.4h0M331.5 466.2h0M357.8 451.6h0M298.5 503.7h0M324.4 459.7h0M358.7 455.9h0M329 459.9h0M336.4 451.1h0M331.4 448.2h0M355 450.4h0M357 467.4h0M293.7 508.6h0M318.6 484.4h0M327.1 462.9h0M319.4 475.4h0M326 468.9h0M337.8 487h0M334.2 449.2h0M354.8 450h0M354.4 448.4h0M355.5 448.2h0M349.1 483.6h0M334.3 453.1h0M331.1 456.5h0M318.7 453.1h0M352 476.5h0M359.9 464h0M331.5 448h0M358.1 468.3h0M355.3 461.7h0M352.9 448.4h0M328.4 494.2h0M322.1 521.9h0M359.1 461.2h0M326.7 448.5h0M332.8 456.1h0M322.7 460.5h0M324.5 448.7h0M356.6 452.1h0M329 454.1h0M327.1 449.5h0M335.4 448h0M324.6 459.5h0M327.3 455.1h0M347.5 451.8h0M333.3 451.2h0M357.8 469h0M349.3 449h0M361.4 482.5h0M322.5 448.3h0M348 448.9h0M329.9 455.7h0M354.9 448h0M356.3 463.4h0M339.5 486.7h0M341.2 449.5h0M334.8 448.7h0M330.2 449.6h0M357.5 464h0M339.6 449.6h0M358.6 454.6h0M336.2 485.6h0M325.9 453.4h0M316.1 466.2h0M321.3 489.8h0M358.1 453.2h0M354.1 469.8h0M325.1 508.9h0M342.4 448.4h0M334.1 453h0M329.4 468.8h0M326.7 503.2h0M323.5 448.8h0M356.2 471.4h0M323.8 448h0M333.9 451h0M348.4 470.6h0M325.3 450.4h0M350 469h0M363.3 459.9h0M352.2 461.4h0M344.2 466.7h0M311.6 479.3h0M331.8 468.1h0M333 464.6h0M323.7 490.2h0M356 467.1h0M352.9 449.4h0M329 450.2h0M327.6 449.5h0M347.1 456.5h0M328.5 457h0M360.8 454.3h0M314.1 465.7h0M325.2 448.9h0M350.5 450.9h0M322.3 504.4h0M319.4 458.2h0M350.8 456.3h0M330.1 448h0M308.6 470.1h0M327.3 453.3h0M328.2 511.8h0M356.1 453.8h0M357.4 467.8h0M331.3 449.8h0M313.1 494.9h0M323.4 454.5h0M332.6 448h0M334 453h0M351.2 448.7h0M360 448.7h0M325.3 450.7h0M356.1 449.4h0M324.2 458h0M331.5 491.9h0M338.7 465.2h0M328.8 463h0M356.8 461.4h0M346.4 458.7h0M328.1 485h0M328.8 450h0M353.2 456.3h0M332.9 465.7h0M324.9 461h0M330.1 461.7h0M338 451.4h0M328.8 449.6h0M338.3 468.4h0M330.8 449h0M330.9 452.8h0M328.5 464.7h0M342.2 498.2h0M307.1 485.5h0M349.8 453.9h0M323.6 449.1h0M333.8 458h0M303.7 472.4h0M329.4 452.1h0M358.3 457.9h0M331 481.8h0M305.2 474.4h0M321.5 466.8h0M326.6 463.2h0M329.1 477.8h0M326.1 451.9h0M359.2 465.7h0M324.6 453.3h0M320.7 468.9h0M327.3 465.6h0M333.8 487.2h0M326.4 448.2h0M343.9 496h0M317.7 518.2h0M330.7 500.9h0M355.2 456.4h0M313.2 491.7h0M334.3 454.8h0M327 483h0M328.5 459.4h0M313.7 463.6h0M348.5 464h0M355.5 451.2h0M320.2 487.9h0M355.2 465.2h0M317.1 496.1h0M328.1 476.5h0M351.4 472.1h0M353.6 449h0M329.6 449.6h0M328.8 460.6h0M350.2 485.8h0M352 485.3h0M320.2 459.8h0M335.1 479.6h0M323.5 451.1h0M330.5 462.1h0M356.1 450.5h0M333 476.5h0M317.9 478.1h0M347.8 451.3h0M316.5 482.4h0M326 462.9h0M303.4 493.4h0M326.7 454.6h0M329.7 456.7h0M355.3 451.8h0M353.7 448.2h0M342.8 477.4h0M326.5 454.5h0M354 448h0M309.9 457.3h0M353.7 458.1h0M334.1 456.8h0M336.8 499.2h0M355.3 495.5h0M326.6 468.4h0M343.2 483h0M336.6 472.4h0M329.3 448.8h0M338.4 452.7h0M310.3 473.8h0M350.1 474.2h0M357.7 499.3h0M330.6 457.8h0M332.4 471.3h0M351.4 460.2h0M363.6 457h0M322.2 499.5h0M358.8 500.5h0M323.2 449.4h0M346.1 462.6h0M331.3 455.9h0M326.8 452.7h0M319.4 472.2h0M326.4 465.7h0M355.2 463.5h0M327.7 450.2h0M327.9 486.8h0M356.2 476.3h0M356.2 452h0M348.2 466.1h0M320.5 483.9h0M327.9 451.7h0M335.4 456.3h0M327.1 472.9h0M334.1 502.3h0M335.5 459.7h0M349.4 467.2h0M356.6 453.1h0M332.3 449.4h0M323.5 451.6h0M332 471.5h0M337.5 457.8h0M350.3 448.3h0M363.3 459.2h0M317.8 483.3h0M323 449.5h0M351.3 460.7h0M309.2 499.3h0M326.9 449.8h0M329.1 458.3h0M331.5 460h0M336.7 453.2h0M327.8 477h0M353.3 460.9h0M325.5 449.9h0M315.5 487.4h0M329.4 483.1h0M317.5 492.7h0M350.1 478.6h0M336.3 472.5h0M338.5 508.1h0M354.7 467.2h0M333.6 449.7h0M327.9 460.3h0M345.7 449.1h0M352.7 465.3h0M346.4 452.2h0M323.8 448.7h0M358.2 450.9h0M311 465.2h0M315 503.1h0M347.5 474.9h0M355.2 448h0M360.4 453.3h0M333.2 450h0M332.9 448.8h0M355.6 450.7h0M332.8 463.6h0M302.2 475.3h0M364.9 450.9h0M325.1 448h0M356.8 448.6h0M359.7 452.4h0M321.4 465.8h0M355.2 449.8h0M314.5 479.4h0M356.5 472.9h0M304.4 488.2h0M337.4 452.5h0M361.2 451.2h0M334.6 470.3h0M311.6 516.4h0M348.2 459.5h0M356.7 452.3h0M336.2 454.6h0M340 449.7h0M325.9 454.1h0M357.9 475.2h0M343.4 452h0M320.7 458.1h0M317.8 476.4h0M312.1 504.8h0M323.4 463.6h0M326.6 448.7h0M326.8 472.8h0M327.4 449.2h0M361.3 466.8h0M338.4 471.7h0M333.8 450.1h0M317.3 496.1h0M325.7 474.5h0M330.9 465.4h0M332 478.6h0M333.3 481.7h0M331.5 454.2h0M328.1 448h0M350.9 449.1h0M321.2 461.1h0M333.5 454.2h0M359.2 449.8h0M325.1 458.4h0M351.8 448h0M362.4 474.7h0M346.9 450.5h0M332.6 450.8h0M335.4 448h0M338.5 457.5h0M339.7 464.3h0M329.5 452.8h0M322.3 489h0M333.6 453.1h0M362.3 448.9h0M361.3 448.1h0M333.3 474.4h0M321 503.5h0M332 453.2h0M335.1 449.6h0M352 487h0M328.7 499.1h0M326.2 451h0M347.7 454.3h0"/>
<path d="M355.8 463h0M324.9 473.7h0M363.1 455.1h0M354.9 461.7h0M330.7 505.9h0M339.9 470.7h0M329.6 448.2h0M357.7 470.7h0M338.6 482.7h0M355.7 460.2h0M355.2 484.5h0M335.8 461.7h0M310 507.3h0M334.5 451.3h0M320.3 458h0M348.8 458.1h0M334.7 452.2h0M325.3 460.6h0M331.4 448.7h0M334.9 448.5h0M326 456.7h0M315.6 485.4h0M324.4 466.4h0M337.6 478.8h0M354 470h0M318.6 456.5h0M355.3 456.3h0M350.6 456.1h0M333.6 470.6h0M353.6 482.2h0M309.5 472.6h0M331.6 496.8h0M302.9 500.3h0M313.1 479.8h0M358.3 451.6h0M335.7 488.6h0M358.2 471.8h0M332.4 492.9h0M333.4 458.2h0M322.1 502.2h0M322.6 449.8h0M330.3 450.4h0M324.7 449.3h0M353.9 448h0M346.2 448.2h0M325.7 453.1h0M317.3 521.1h0M296.2 488.3h0M360 486.9h0M323.4 509.4h0M319.8 477.7h0M328.8 453.3h0M334.5 449.4h0M332.6 460.8h0M317.8 477.7h0M352.2 455h0M349.3 452h0M349.5 452.6h0M322 488.2h0M335.3 451.4h0M356.3 448h0M333.4 456.1h0M327.2 474.7h0M338.9 453.9h0M330 454.7h0M324.9 449h0M325.7 469.2h0M335.1 509.5h0M363.6 453.9h0M327.9 468.5h0M334 457.6h0M335.3 454.3h0M326 463.4h0M327.1 470.9h0M321.1 466.7h0M363.5 465.4h0M328.2 473.5h0M349.3 451.3h0M346.8 448.5h0M340.2 449.9h0M313.9 481.6h0M332.8 479.1h0M353.9 450h0M331 456.4h0M334.2 459.2h0M350.3 464.6h0M326.6 460.8h0M321 476.9h0M351.9 486.1h0M351.4 457.6h0M328.3 448.7h0M348 448h0M331.4 448.5h0M337.5 469.2h0M341.2 448.9h0M303.5 482.7h0M356.7 459.1h0M359.1 470h0M330.6 460.9h0M324 448.2h0M305.4 480.6h0M328.7 457.7h0M326.2 490.4h0M327.5 461.6h0M348.4 448h0M355.4 449h0M350.2 471.3h0M359.1 448.5h0M327.7 506h0M353.9 464h0M339.4 448.3h0M356.7 448.4h0M359.3 449.7h0M343.2 448.1h0M324 504.2h0M319.9 461.2h0M318.1 460.9h0M357.7 450.5h0M347.7 453.1h0M361.5 462.2h0M364.8 449.8h0M329.6 467.7h0M324.1 468.9h0M359 486.6h0M356.5 463.4h0M338.3 462.9h0M337.1 448h0M327.9 449h0M328 467.5h0M353.4 450.1h0M290 494.3h0M323.7 469.2h0M338.5 461.7h0M321.5 453.2h0M346.7 486.4h0M310.7 490.5h0M339.7 502.9h0M346.8 448.1h0M317.7 468.5h0M325 449.4h0M321.2 458.9h0M350 448h0M332.5 478.4h0M358.1 464.2h0M358.3 449.4h0M358.9 449.8h0M351.1 448h0M353.6 472h0M337.5 459.4h0M303 518.1h0M353.2 448h0M299.3 514.2h0M334.7 454.6h0M333.4 451.3h0M362.2 450.7h0M356 461.8h0M311.6 485.1h0M353.4 448.3h0M358.6 475.4h0M336.1 468.3h0M323.6 488.7h0M327.5 448.6h0M302.7 519h0M361.1 470.5h0M329.6 448h0M345.6 449.3h0M350.5 458.8h0M327.7 449.1h0M353.1 462.9h0M311.1 474.2h0M349.7 453.2h0M321.1 468.6h0M332.9 448.4h0M357.4 466.7h0M334.3 452.3h0M325.5 452.2h0M354.3 448.4h0M313.3 481.7h0M333.7 452.1h0M352 448.8h0M355.4 453.3h0M329.1 465.6h0M324.2 467.7h0M347.9 450.4h0M359 449h0M324.9 469.4h0M345.9 452h0M354.2 448.3h0M340.7 449.7h0M330.7 454h0M334.3 452.1h0M358.8 470.3h0M347.5 449.8h0M321.6 452.8h0M317.6 459.6h0M343.3 484.6h0M334.4 467h0M331.6 448.5h0M362.5 459.5h0M359.9 452.7h0M326 453.7h0M327.5 513.6h0M328.5 452.3h0M339.5 448h0M353.8 450.1h0M329.9 455.6h0M298.3 478.3h0M303 479.9h0M311.2 512.8h0M348.9 463.1h0M310.5 480h0M316.4 464.1h0M353.1 448h0M356.2 457.3h0M329.4 475.5h0M359.8 479.1h0M349 454.7h0M349.6 449.6h0M330.2 452.9h0M357.1 466.3h0M363.2 452.2h0M351.5 470.7h0M335.2 452.5h0M334 463.6h0M331.1 451.8h0M347.6 450.1h0M317.3 468.1h0M352.5 448h0M313.9 456.1h0M353.3 448h0M320.1 463.3h0M351.2 460h0M353.5 477h0M341.7 453.1h0M299 476.3h0M354.2 454.4h0M353.1 461.1h0M296.8 511.4h0M333.2 473.5h0M312.3 490.9h0M345.3 450.9h0M326.3 466.8h0M353.2 451.4h0M329.5 463.6h0M340.9 448h0M322.1 471.5h0M328.3 449h0M324.7 463.7h0M352.9 456.2h0M332.4 511.1h0M300.1 496.4h0M326.8 449.7h0M349.3 455h0M354.7 448.9h0M349.9 461.1h0M338.6 459.7h0M344.7 485h0M359 449.1h0M323.5 449.1h0M326.4 450.1h0M337.1 450.8h0M326.2 480.9h0M328.6 455.2h0M351.8 455.9h0M345.9 469.7h0M334.7 450.1h0M327.2 459.2h0M349.8 461.3h0M359.3 448.9h0M300.4 492.6h0M332 482.3h0M354.2 451.5h0M351.4 448.2h0M332.6 455.6h0M327.5 464.7h0M330.6 490h0M353.1 452.5h0M327.6 504.2h0M335.4 467.8h0M329.7 454.4h0M299.9 512.2h0M356.6 471h0M332.2 457.9h0M316.6 459.2h0M317.6 460.1h0M337.2 460.3h0M338.7 452.1h0M354.4 457.4h0M357.6 456.9h0M321.5 465.5h0M329 453.2h0M359.1 452.9h0M358.8 448.1h0M346 448.8h0M325.9 449h0M357.7 451.8h0M342.2 449.9h0M321.8 456.5h0M326.8 476.2h0M358.4 461.2h0M312.6 471.3h0M311.1 519.5h0M358.7 486.1h0M348.7 469.9h0M325.9 448.7h0M320.9 496.1h0M312.5 489.1h0M346.5 459.1h0M327.2 448.6h0M321.4 470h0M338.8 451.1h0M329.2 455.2h0M326.5 451.1h0M328.2 493h0M313.2 458.9h0M348.5 448h0M346.9 449.8h0M355 465.8h0M327.5 449.3h0M334.2 449h0M353.4 458.1h0M324.4 453.9h0M352.4 456.4h0M334.5 483.1h0M325.4 476.9h0M315.8 461.2h0M356.1 451.6h0M328 463.4h0M357.8 448.6h0M351.8 478.3h0M322.4 454.7h0M330.7 448h0M329.2 449h0M351.4 454.5h0M328.4 460.9h0M320.4 514.8h0M323.8 475.5h0M311.8 471.5h0M351.5 448h0M349.1 449.6h0M337.1 481.9h0M341.7 459.9h0M327.6 449h0M315.4 523.7h0M332.8 461.6h0M334.3 493.1h0M327 450h0M352.7 448.4h0M327.2 508.9h0M330.7 448.8h0M323.9 448h0M328.5 466.5h0M334.4 448h0M335.3 460.5h0M323 474.4h0M309.4 491.7h0M352 459.6h0M354.6 455.4h0M332.3 454.3h0M329.7 474.1h0M334.7 448h0M354.9 467.3h0M312.2 504.5h0M326.6 453.6h0M356.1 461.4h0M334 452.3h0M314.1 478.9h0M354.3 450.9h0M349.1 488.3h0M327.5 454.6h0M335.1 473h0M314 470.4h0M357.4 449.7h0M352.4 458.3h0M356.3 450.8h0M345.9 476h0M330.3 452h0M333.4 461.1h0M323.2 455.9h0M341.1 484.2h0M331.3 448h0M333.2 496.1h0M337.9 488h0M333 458.4h0M333.7 464.9h0M361.4 453.8h0M318.9 467.7h0M331 449.4h0M322.6 506.7h0M348.4 450.8h0M344.4 479.7h0M320.3 482.9h0M330.8 448h0M343.7 448.9h0M353.2 453.2h0M346.1 454.2h0M328.8 449.6h0M306.1 521.4h0M323.6 502.7h0M322.4 461.6h0M331.2 452.2h0M356.8 448.3h0M332 488.8h0M332.2 448h0M334 462.8h0M357 475.3h0M329.5 464.6h0M296.8 504.6h0M332.4 452.3h0M343.1 497.6h0M322.2 479.6h0M357.9 472.1h0M327 516.4h0M315.4 483.5h0M315.5 467.5h0M350.9 449.9h0M333 448.2h0M349.4 466.7h0M328.2 469.5h0M351.7 449.9h0M354.3 450.2h0M338.6 449.7h0M355.2 452.3h0M321.8 458.6h0M358.8 456.7h0M331.3 449h0M316.5 468h0M356.6 448.9h0M310.6 477.4h0M352.4 481.2h0M327.8 448h0M333 448.3h0M324.7 450.4h0M354 450h0M327.9 476.6h0M322.7 448.4h0M303.4 490.7h0M333 484.1h0M321.4 464h0M338.2 481.2h0M358.9 448h0M326.5 448.2h0M353.8 458.8h0M327.3 448.5h0M327.1 448.6h0M327.3 451.3h0M355.7 491.2h0M306.9 518.5h0M346.9 448.8h0M331.4 451.2h0M315.7 474.5h0M327.2 498.5h0M325.9 449h0M325.7 454.5h0M327.3 464.3h0M328.3 453.6h0M312.3 501h0M358.5 448h0M335 485.6h0M330.1 449.4h0M330.6 449h0M320.5 458.4h0M311.6 481.9h0M338.3 492.2h0M332 458.2h0M355.7 449h0M328.4 448.1h0M350.4 479.8h0M329.6 477.3h0M327.5 448h0M330.7 461.5h0M325.2 489.9h0M333.5 462h0M356.2 450.5h0M310.6 518.5h0M324.6 457.2h0M353.2 456.7h0M351.8 463.6h0M327.6 449.3h0M332.1 468.6h0M305.7 484.3h0M326 465.7h0M328.5 463.5h0M329.5 454.7h0M322.1 465.9h0M328.8 481.1h0M354.2 460h0M331.1 456.4h0M327 458.1h0M333.8 452.5h0M328.9 460.2h0M346.2 460.7h0M327.4 466.9h0M354.4 448.5h0M356.9 458.8h0M357.9 452.3h0M312.5 469.9h0M331.9 468.3h0M333.6 497.2h0M329.3 452.4h0M339.4 475.7h0M312.6 493h0M303 496.4h0M354.2 452h0M333.5 448h0M317.5 510h0M327.1 465.6h0M323.3 452.2h0M350.2 453.6h0M312.7 496.7h0M324.7 449.9h0M332.4 467.2h0M348.9 453.1h0M352.1 448.2h0M323 450.2h0M332.9 449.4h0M303.2 471.2h0M325.6 448h0M326.4 453.9h0M292.5 518.2h0M341.2 455.2h0M316.4 475.7h0M354 452.1h0M352.7 460h0M337.7 458.7h0M344.1 448.5h0M332.7 471.6h0M351.9 496.5h0M331.7 460.9h0M358.6 486h0M324.8 489.8h0M311 495.8h0M355.6 448.4h0M318.9 482h0M327.6 449.8h0M330.4 448h0M350.1 455.8h0M331.6 487.7h0M338 448.6h0M326.6 453.6h0M350.6 492.3h0M331.6 469.9h0M354.1 449.6h0M323.9 452.1h0M325.4 448.8h0M311.4 468.7h0M354.8 475.6h0M344 453.9h0M334.5 485.5h0M322.9 465.8h0M322.5 452.8h0M357.1 452.9h0M328.3 471.2h0M357.2 448.4h0M330.3 484.4h0M337.9 453.7h0M327.1 485.9h0M328.7 466.8h0M310.7 488.1h0M327.8 451.1h0M330.5 449.6h0M355.5 451.2h0M310.4 474.5h0M328 474.2h0M322.4 495.3h0M336.6 458.8h0M350.2 452.8h0M349.2 449h0M351.7 449h0M351.4 463.4h0M334.5 483.6h0M358.9 449.5h0M329.9 455.5h0M345.6 452.4h0M353.4 451.1h0M352 478h0M341.9 476.3h0M353.6 451.8h0M304.5 471.9h0M304.4 479.3h0M309.5 521.1h0M328.2 448.4h0M352.8 448.3h0M320.2 455.2h0M320.2 503.2h0M334.2 453.7h0M328.2 449.1h0M310.9 473h0M320.8 500.4h0M358.4 474.4h0"/>
<path d="M354.7 452.1h0M350.5 450.9h0M360.6 470.6h0M328.9 452.6h0M358.1 448.3h0M335.9 451.5h0M355.7 454.8h0M325.6 450.8h0M354.4 452.9h0M332.8 506.8h0M324 488.7h0M328.9 462.1h0M336.1 449.3h0M308.5 483.4h0M348.8 448h0M317.9 479.6h0M358.4 472.9h0M358 461.3h0M318.5 463.7h0M356.3 471.4h0M347.1 454h0M324.9 457.1h0M323.6 449.1h0M357.6 473.6h0M357.7 449.2h0M325.9 450.4h0M340.3 452.4h0M328.7 482.4h0M337.7 450.1h0M339.2 486.3h0M303.8 470.3h0M323.3 504.3h0M353.5 466.1h0M346.7 448.8h0M329.7 470.4h0M329.4 448.2h0M329.7 448h0M329.8 448.3h0M334 452.2h0M331.2 456.2h0M332.4 449.2h0M327.8 450.4h0M324.4 453.2h0M356.7 475.1h0M319.4 477.8h0M326.8 452.5h0M342.5 463.2h0M335.9 473.1h0M342.9 451.1h0M328.9 477.1h0M303.1 491.3h0M352.1 453.9h0M313.5 482.9h0M323.5 508.9h0M324.9 459.6h0M356.7 471h0M332.8 479.8h0M325.2 452h0M351.3 448.6h0M328.8 449.2h0M319.1 459.7h0M357.9 461.2h0M310 511h0M321.6 459h0M356.8 452.6h0M356.7 448h0M334.4 477.9h0M331.9 457.4h0M336.7 448.8h0M334.1 464.7h0M332.4 458.5h0M355.1 464.3h0M335.6 448h0M325.3 474h0M318.3 486.8h0M350.9 484.5h0M319.2 491.9h0M353.7 449h0M324.2 451.3h0M355.2 448.9h0M329.5 457h0M346.1 457.8h0M330.8 481.4h0M328 483.9h0M326.3 450h0M317.3 474.5h0M357.6 453.5h0M349.3 453.5h0M326.3 471h0M360.5 448.2h0M355 488.7h0M355.7 457.2h0M312.9 484.4h0M340.8 456.5h0M324.5 480.5h0M329.9 448h0M321.9 457.5h0M343 473.1h0M324.5 455.6h0M355.8 448.2h0M315.8 471.8h0M348.2 448.2h0M321.4 492.7h0M352.8 465.5h0M349.7 449.3h0M354.6 478.4h0M332.1 483h0M314.6 520h0M328.6 456.1h0M315.5 478.9h0M329.3 448h0M364.3 450.7h0M338 506h0M322.9 449.5h0M353.3 450.6h0M361.2 450.8h0M326.3 511.1h0M353.7 476.8h0M332.7 450h0M327 476.8h0M315.1 463.6h0M323.9 448h0M322.2 462.1h0M328.8 465.5h0M320.5 484.3h0M325 477.5h0M322.5 453.5h0M330.4 452h0M329.8 494.9h0M358.3 487.4h0M330.5 448h0M328.9 459.3h0M334.6 456.4h0M354.9 465.2h0M350.3 452.8h0M321.2 466.3h0M346.8 479.6h0M356.1 478.2h0M345.7 448.8h0M327.7 448h0M329.8 453.3h0M334.7 452.3h0M356.4 453.3h0M320.6 479.4h0M350.6 448h0M320 503.5h0M305.1 512.8h0M318.5 453.5h0M327.8 481.4h0M314.2 478.9h0M333.1 457.6h0M320.8 453.2h0M334.2 450.6h0M338.4 453.7h0M325 452.9h0M355.4 455.2h0M328.9 451.7h0M296.6 512.6h0M352.9 453.4h0M364.6 448.4h0M353.9 448.2h0M323.4 472.2h0M354.8 455h0M361.8 483.4h0M325.6 448h0M352.2 467h0M352.5 448.4h0M323 448.6h0M326.1 485.4h0M336.3 460h0M306.7 496.8h0M338.7 469.4h0M329.9 448.8h0M350.5 471.2h0M353.6 456.3h0M355 455.1h0M332.9 453.1h0M322 474.7h0M353.6 478.4h0M330.4 456.7h0M360.6 450.4h0M323.1 452.3h0M359.5 457.8h0M307.2 486h0M361.9 460.2h0M342.8 449h0M349.5 495.8h0M327.3 451.2h0M326.2 459.4h0M354.7 448.8h0M351.7 448h0M330.1 451.4h0M352.5 450.3h0M331.9 450.5h0M336.4 468.2h0M314 468.6h0M330.4 476.5h0M352.6 448.2h0M340.1 496.4h0M351.8 448h0M333.6 452.6h0M337 449.3h0M335.2 508.2h0M349.9 462.9h0M348.4 448.2h0M327.6 448.1h0M334.9 448.4h0M317.5 480.6h0M358.7 448.9h0M330 455.3h0M353.3 455.9h0M356.5 465.4h0M331.2 511.3h0M307 490.8h0M330.2 449.1h0M318.9 466.9h0M329.3 448h0M329.2 454.4h0M337.7 486.3h0M334.8 448h0M300.4 472.7h0M325.9 456.3h0M354.2 459h0M319 455.3h0M324.5 472.4h0M323.5 473.6h0M313.4 507.1h0M315.9 457.5h0M313.6 469.6h0M360.3 472.8h0M331.1 504.1h0M333.7 460.5h0M319.7 491.6h0M335.2 463.3h0M316.6 457.8h0M334.1 450.3h0M330.3 459.3h0M332.4 448.8h0M352.4 448h0M332.9 457.3h0M330.5 450.5h0M322.8 474.7h0M331 448h0M315.9 484h0M344.5 451.1h0M359.5 496.9h0M312.4 476.8h0M336.6 464h0M353.2 485h0M361.1 448.4h0M358.2 454.4h0M316.9 484h0M318.3 466.9h0M357 479h0M340 456.9h0M331.8 464.5h0M334.8 450.8h0M329.5 449.9h0M360.6 461.7h0M301.6 487.3h0M338.6 496.7h0M328.3 451.1h0M357.4 456.2h0M333.1 463.2h0M328.8 456.2h0M340.7 503.8h0M330.2 465.1h0M339.6 448h0M329.2 452.3h0M330.7 448h0M329.6 485.4h0M331.1 471.5h0M354.8 457.5h0M337.7 448.6h0M331.2 471.1h0M353.3 463h0M334.3 448.1h0M354 467h0M356.9 455.6h0M325.6 457.5h0M358.8 448.2h0M353.7 486.4h0M358.1 456.9h0M324.5 462.3h0M329.5 452.7h0M357.3 454.6h0M336.2 450.9h0M333 483.4h0M322.5 475.5h0M339.3 481.9h0M306.5 477.1h0M326 451.2h0M330 449.1h0M335.4 502.9h0M355.8 470.5h0M309.5 475.3h0M353.5 450.6h0M330.5 482.4h0M321.3 456.8h0M324.3 448h0M318.3 459.1h0M352.1 448.2h0M331.1 448.9h0M320.1 482.1h0M326.4 448.2h0M338.3 481.9h0M317 471.5h0M307.9 501.1h0M357.9 452h0M361.9 454h0M359.4 450.8h0M322.3 484.7h0M333.9 489.1h0M325.4 452.5h0M321.9 455h0M326.6 448h0M329.2 479.1h0M357.9 451h0M352.4 450.5h0M333.2 455.5h0M325.5 448.8h0M328.7 508.9h0M360.3 459.7h0M333.1 463.6h0M327.9 457h0M359.4 450.9h0M354.9 460.1h0M298.2 505.7h0M341.1 513.5h0M320.1 455.4h0M325.3 459.8h0M336.5 458.8h0M329.5 458.1h0M361.3 459.1h0M338.8 497.8h0M337 456.5h0M319.5 497.7h0M357.5 448.1h0M339.3 459.8h0M347.8 470.9h0M328.9 455.9h0M335.2 463h0M320.4 465.4h0M323.9 474.4h0M355.9 453.9h0M329.8 453.8h0M328.3 448.4h0M353.5 458.8h0M356.8 450h0M316.4 459.5h0M347.3 449.6h0M357.3 448.3h0M355.4 448h0M314 477.5h0M307 488.3h0M360.2 452.2h0M360.2 455.2h0M350.2 451.2h0M324.7 451.1h0M330.7 452.4h0M330.9 486.8h0M310.4 500.7h0M355.3 452.6h0M325.2 451.3h0M334.2 495.2h0M336.3 449.4h0M325.3 510.5h0M326.2 451.5h0M333.4 468.5h0M321.3 474.2h0M332.6 450.9h0M349.3 450.5h0M314.5 460.3h0M356.4 448.1h0M331.3 453.2h0M336 464.2h0M349.6 460.8h0M315.6 469.7h0M326.5 483.8h0M354.1 461.8h0M325.1 453.3h0M339.1 453.9h0M316.2 474.1h0M346.1 474.3h0M299 523.3h0M358.1 459h0M335.7 448h0M328.8 454.6h0M320.2 465.1h0M358.4 450.5h0M329.9 461.1h0M331.2 489.7h0M333.4 457.2h0M331.9 450.6h0M323.8 467.9h0M350.7 458.5h0M310.3 487.3h0M332.7 451.3h0M330.1 450.3h0M357.2 464.4h0M325.2 475.6h0M334 472.2h0M357.2 459.1h0M321.2 477.5h0M334.3 466.5h0M330.3 469.2h0M317.1 461.7h0M351.5 467.4h0M321.2 463h0M348.4 448h0M331.4 448.6h0M340.7 455h0M333.8 480.1h0M356.8 466.1h0M315.6 474.9h0M363 457.1h0M320.5 471.7h0M345.9 453.7h0M327.2 460.5h0M317.8 490.3h0M330.5 455.9h0M328.4 448h0M328.8 519.2h0M305.8 488.4h0M309.7 513.7h0M331.4 461.2h0M350.1 469.7h0M353 450.6h0M339.8 459.4h0M308.5 515.2h0M325.3 455.4h0M330.6 455.2h0M326 474.6h0M366.6 468.8h0M360.1 459.6h0M330.8 450.6h0M308.1 494.2h0M352.4 454.7h0M328.9 452.5h0M358.5 483.1h0M331.6 470h0M357.7 489.7h0M322.5 456.1h0M334.2 507.9h0M355.5 451.2h0M340.1 468.5h0M342 461.8h0M333.3 452.5h0M329.9 464.1h0M329.9 466.9h0M328.8 486.8h0M335.4 492.7h0M327.6 448.9h0M322.9 457.2h0M305.5 503.6h0M330.3 455.6h0M332.5 453.1h0M315.4 475.2h0M352.6 460.4h0M360.7 467h0M306 476.7h0M354.5 473.7h0M329.2 462h0M337.6 454.1h0M327.8 449.9h0M356.7 450.4h0M356.8 472.2h0M330.7 451.5h0M330.8 448.2h0M337.5 474.1h0M332.3 456.5h0M353.8 451.4h0M330.6 469.3h0M323.9 493.1h0M362.9 450.1h0M329.1 488.3h0M319.6 458h0M316.3 475.4h0M350.1 449.3h0M333.2 448.2h0M322.2 472.2h0M334.7 448h0M356.1 455.3h0M332.1 449.4h0M325.8 472h0M334.7 467.3h0M332.3 448.4h0M331.7 457.7h0M324.5 454.4h0M326.3 464.4h0M349.2 448h0M354.3 467h0M331.4 459.1h0M335.1 452.1h0M311.6 503.2h0M333.2 470.3h0M332.4 487.6h0M351.5 449.2h0M327.3 451.2h0M333.9 473.4h0M360.4 473.7h0M355 449.6h0M355.3 452.6h0M314.3 470.8h0M293.8 515.4h0M356.4 450h0M327.2 448.3h0M327.4 468h0M333.3 494h0M322.5 482.8h0M323.5 448h0M336.3 478.2h0M329.7 457.2h0M349.6 453.9h0M316.6 478.1h0M329.7 474.5h0M353.6 448h0M329.4 484.7h0M323.1 472.3h0M339.1 487.5h0M351.3 450.9h0M358 460.8h0M343.5 497h0M350.4 462.3h0M328.9 451.5h0M346.4 449.4h0M323.8 459.3h0M361.1 456.7h0M320.5 464.1h0M353.1 449.2h0M331.5 450.3h0M332.6 448.7h0M355.2 448.9h0M359.5 482h0M327.5 454.5h0M320.9 463.6h0M347.9 449.3h0M326.8 448h0M330.8 457.8h0M353 449.1h0M356.7 453.5h0M350.6 452.1h0M321.9 476h0M314.8 510h0M324.2 459.5h0M327.6 474.8h0M333.9 494.3h0M337.9 462.2h0M354.4 451.9h0M317.2 509.2h0M327.2 449.8h0M325.1 452.8h0M330.9 485.3h0M325.4 496.6h0M319 483.7h0M308.8 481.2h0M331.6 459.4h0M346.7 475.7h0M319.4 508.5h0M326.6 457.2h0M352.1 478.6h0M334 452.9h0M354.9 469.3h0M348 472.8h0M352.1 477.4h0M315 502h0M361.2 492.8h0M356.9 479.7h0M358.1 470.5h0M336 448h0M322.2 455.5h0M334.8 451h0M315.5 480.7h0M333.1 454h0M325.5 464.4h0M349.7 463.8h0M324.7 450.2h0M330 471.1h0M312.9 470.2h0M329.6 509.9h0M359.3 485.6h0M319.5 517.8h0M325.9 479.3h0M340.2 449.4h0M332.9 449.6h0M360.5 448h0M342.2 457.3h0M319.9 460.2h0M326.2 454.7h0M349 462.4h0"/>
</g>
<g transform="translate(0,0.9)">
<path d="M316.5 447.4L317.5 451L320.5 455.5L324 459.5L327 463L329.2 465L331.5 462.5L334 458.5L337.5 454.5L341 451L342.8 447.4ZM345.2 447.4L346 450L349.5 453.5L353 455.6L356 456.2L359.5 454.5L363 451.5L365 449.5L365.5 447.4Z" fill="#000" fill-opacity=".5" stroke="none"/>
<path d="M320.5 447.4L322.5 450L326 452.5L329.5 453.6L333.5 452L337.5 449.6L339 447.4ZM346.8 447.4L348.5 450L352.5 452.4L356 452.8L360.5 451L363.8 448.8L364.2 447.4Z" fill="#1458ee" stroke="#1458ee" stroke-width=".8" stroke-linejoin="round"/>
<path d="M318.5 447.4L320 450.5L323.5 454.5L327 457.5L329.4 459L332 456.8L335.5 453.5L339.5 450.2L341 447.4Z" fill="#1458ee" fill-opacity=".45" stroke="#1458ee" stroke-width=".8" stroke-linejoin="round"/>
<path d="M316.5 447.4L317.5 451L320.5 455.5L324 459.5L327 463L329.2 465L331.5 462.5L334 458.5L337.5 454.5L341 451L342.8 447.4ZM345.2 447.4L346 450L349.5 453.5L353 455.6L356 456.2L359.5 454.5L363 451.5L365 449.5L365.5 447.4Z" fill="none" stroke="#1458ee" stroke-width="1.1" stroke-linejoin="round"/>
</g>
<path d="M283.6 445.5V528.3H369" stroke="#000" stroke-width=".95" fill="none"/>
<path d="M298.4 528.3v1.8M321.3 528.3v1.8M344.4 528.3v1.8M367.5 528.3v1.8M283.6 447.6h-2M283.6 466.9h-2M283.6 486.2h-2M283.6 505.5h-2M283.6 524.8h-2" stroke="#000" stroke-width=".8" fill="none"/>
<text x="298.4" y="535.3" font-size="6.2" text-anchor="middle">−2</text>
<text x="321.3" y="535.3" font-size="6.2" text-anchor="middle">0</text>
<text x="344.4" y="535.3" font-size="6.2" text-anchor="middle">2</text>
<text x="367.5" y="535.3" font-size="6.2" text-anchor="middle">4</text>
<text x="280.9" y="449.7" font-size="6.0" text-anchor="end">1.00</text>
<text x="280.9" y="469" font-size="6.0" text-anchor="end">0.75</text>
<text x="280.9" y="488.3" font-size="6.0" text-anchor="end">0.50</text>
<text x="280.9" y="507.6" font-size="6.0" text-anchor="end">0.25</text>
<text x="280.9" y="526.9" font-size="6.0" text-anchor="end">0.00</text>
<text x="266" y="487.5" font-size="6.4" text-anchor="middle" transform="rotate(-90 266 487.5)" textLength="97.8" lengthAdjust="spacing">Proteasomal C Terminal Cleavage</text>
<text x="327.8" y="543.2" font-size="6.8" text-anchor="middle" textLength="79.6" lengthAdjust="spacingAndGlyphs">TAP Transport Efficiency</text>
<text x="287.4" y="525.3" font-size="5.3" textLength="57.3" lengthAdjust="spacingAndGlyphs"><tspan font-style="italic">R</tspan> = 0.37, <tspan font-style="italic">p</tspan> &lt; 2.2 x 10<tspan dy="-1.8" font-size="3.2">−16</tspan></text>
</svg>
</body></html>
